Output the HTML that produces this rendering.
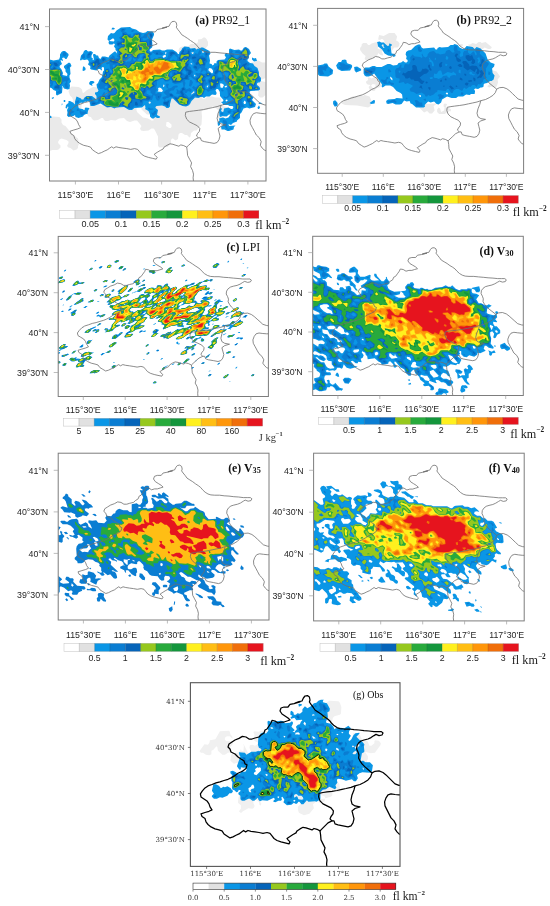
<!DOCTYPE html>
<html><head><meta charset="utf-8"><title>Figure</title>
<style>html,body{margin:0;padding:0;background:#fff}svg{display:block}</style></head><body>
<svg width="550" height="906" viewBox="0 0 550 906">
<rect width="550" height="906" fill="#fff"/>
<defs>
<clipPath id="clipa"><rect x="49.5" y="9" width="216.5" height="172.0"/></clipPath>
<clipPath id="clipb"><rect x="317.6" y="8.4" width="206.0" height="164.9"/></clipPath>
<clipPath id="clipc"><rect x="58.2" y="236.4" width="210.2" height="160.1"/></clipPath>
<clipPath id="clipd"><rect x="312.7" y="236.3" width="210.6" height="159.2"/></clipPath>
<clipPath id="clipe"><rect x="58.2" y="453.2" width="210.8" height="166.8"/></clipPath>
<clipPath id="clipf"><rect x="313.6" y="453.2" width="210.6" height="167.7"/></clipPath>
<clipPath id="clipg"><rect x="190.4" y="682.7" width="209.6" height="183.7"/></clipPath>
</defs>
<g id="panel-a">
<g clip-path="url(#clipa)"><g transform="translate(49.5,9) scale(0.5)" stroke="none">
<path fill="#eaeaea" fill-rule="evenodd" d="M314 60l3 6 0 7-6 7-1 5 4 4 5-1 2 3-8 11-11 1-5-5-9 1-4-2-6 0-8 6-8-1-2-14-2-5 1-4 3-3 9-2 6 1 6-5 11-1 3-3 0-5 7-1 4-3 3 0zM415 103l3 0 7 4 7 0 0 31-7 3-6-1 4 4 9 2 0 26-6 5-5 0-4-4 1-7-2-10-3 0-8 5-4 0-2-2 1-4-2-3 0-4 2-3 0-3-5-9 1-16 8-10 9-1zM35 190l3-3 8-1 2-2-3-7-4-4-3-8 2-6 4-4 14 1 4 2 3 3 1 6 2 1 7-6 12-6 11 1 9-2 2-2 2-7 4-3 3 0 4 4 3 23-4 2-1 6-3 3-8 0-6-6-5 0-5 3-2 3 7 9 6 3 8-1 12-6 8-7 0-3 4-2 5 2 7 9 10 0 11-2 11 5 0 4-6 7 0 4 2 4 11 10 10 2 7 4 4 0-1-11-12-1-11-10 0-3 4-2 0-3-4-5 0-4 5-5 3 0 6 3 16-2 3-4 8-3 1-10 8-8 7 3 6 12 0 4 5 4 5-1 7-4 13 0 1-1-1-3-8-7 0-4 2-2 9 1 7 4 9-1 4 2 8 9-3 7 2 2 5-1 5-5 9 1 5 2 9 0 3 3-1 6 1 4 3 4 8 2 3 3 0 4-5 12-10 6-2 0-5-6 0-6 3-6-7-7-5-1-9 6-11 2-2 2 1 10-1 16-10 12-5 0-6 5-1 7-2 2-5-5-4 0-6-4-4 0-3 3-1 9-5 3-5-4-2 0-2 3 0 7-7 7-16 1-3-3 0-19-7-14-2-2-4 0-6 4-10 1-5-1-2-4 3-5-9-11-5 0-9 3-6-2-6-6-10 1-7 4-9-1-6 2-5 0-3-2-2-4-3 0-7 4-8 1-4-3-2-4-5-1-3-5 6-13-2-14-4 0-8 4-3 6 0 4-4 5-4 0-4-3-11 0-5-3zM234 226l-1 8 6 4 3 0 2-2 0-5-6-5zM51 189l0 2 3 2 1-3zM341 160l10 0 2 2 2 9-2 6-4-1-10-7 0-7zM0 216l7-1 13 1 4 5 0 6 3 5 5 2 13 16 12 9 2 11-2 4 0 4-3 3-6 2-6-5-4-1-3-3 3-6 0-3-4-3-10-3-4 2-3 5 1 3 4 4 0 4-4 4-3 1-9 0-6 2 0-18 1-1-1-1z"/>
<path fill="#0a96e6" fill-rule="evenodd"  d="M32 198l1-6 5-4 0-4 3 0 6 3 4 4 0-6 3-10 9 4 1 2 4 0 1-3 5-4 11 0 9 7 0-7-3-4 0-3 5-1 2-3-3-6-1-6 3-3 3-7 5-5 2-11 2-2 0-6-3-1-2 2 1 4-1 1-3-3-3 0-4 3-11-2-2-2 1-3-1-2-4-3 2-5-2-4-2-1-5 1-5-1-2 2-2-1 2-9 4-4 2-5 3-2 2 0 3 3 6-1 4 3-3 6 0 4 3 2-1 2 1 1 2-1-2-9 1-2 3 0 3 3 3 0 2 5 3 2 3-5 6 0 7 2 2-4 10-8 2 0 2 4 1-4-3-3 0-3-3-4 2-5-3-1-2 2-6 0-2-3 1-4-3-3 1-7 6-6 4 1 3-1 4-5 9-6 18-1 4 3 8 2 7 5 7 2 5-1 4-3 10 1 3 4 0 3-4 9 1 13-1 3-5 4 1 4 3 0 3-3 14-1 4 2 5 0 5-2 11 0 8 5 3 4 2 0 1-4 4-4 1-3 5-4 9 1 3 3 9-1 3 3 3-2 4 0 2-2 4 0 13 7 2 5-3 4 2 10-1 6 4 1 2 3 3-2 1-3 4 1 0-4 3-3 13-1 3-4-3-5 3-4 2 0 2 3 2-2 0-8 2-2 9 3 9-1 3 2 3 0 4-6 4-1 6 4 4 8-4 5 0 5-3 3 0 3 5 4 6 1 3 5 6 4 3 9 0 6 4 5 0 6-3 3-3 0-2 2 0 3 4 3 2 3 0 3-3 2-16 1-2 2 2 5 6 6-3 5 8 8-2 6-11 3-5-2-7 2-4 8-3 3 0 8-6 5 0 2-8 3-4 4-5-2 1 4 13-1-3 3-1 5-9 3-3 0-6-3-6 0-1-6 4-3-1-3-3-2-2 1 0 4-4 2-1-7 4-4-1-4 8-2 5 2 6-2 4-6-3 0-5 4-8-1-4 2-2-2-1-12 3-4 3 1-2 5 3 2 2-1 1-6 9-2 5 3 3 0 2-4-2-2-6 0-3-2-10 0 0-2-4-4 4-1 1-3-7-8 0-8-4-6-3 0-2 3 2 4 0 3-2 2-7-1-5 4-7 0-4 3-3-2-4 0-4 2-7-1-7 7-3 6-3 3-5 2-7-1-7-3-12-12-3 0-3 11 0 5-3 3-4 0-3-3-6-2-11 1-2 2 0 2 5 4-2 10 6 3-1 3-5 0-3-2-4 3-3 0-4-4 0-4-3-7-7-4 1-2-1-6-6 5-15 1-5 4-6 0-10-6-16 1-3 2-7-3-8 1-13-8-13 5-7 0-2-9-4-1-2 2-3-1-4 3-4-1-6 4 1 6 2 2 6 1 3 2 2-1-1-1 2-3 8 1-3 6-1 6-3 0-4 2-2 3-9 3-6-2-1-4-3 2-10 2-3-3 1-6-1-5 3-6-2-1-1 4zM219 157l-2 2 1 3-2 3 9 1 2-3-4-5zM232 91l-6 3 2 4 5-3zM232 86l-1 3 2 1 1-3zM283 108l-1 2 3 1 1-1zM284 86l1 4 2 0 2-3zM290 131l-1 3 2 1 1-2zM306 84l-1 3 3 1 1-2-1-2zM318 153l-2 0-2 3 2 1zM320 118l-2 2 0 3 7 6 2-2 0-4-3-4zM341 149l1 8 4 1 3-6-4-3zM350 155l1 2 4-1-1-3zM390 183l-2 4 1 3 3 0 1-4zM130 62l-2-3-2 0-7 5 10 1zM199 185l-1 3 3 2 2-4zM228 151l-1 4 2 1 1-4zM289 164l-6 6 1 1 6-4zM357 182l-4-1-1 3 2 1zM124 41l1-3 2-1 4 2-2 2zM31 84l7 6 0 3-4 7-2 0-3-3-4 1 2 5-1 1-3-2-1 1 3 7-4 3-1 3 4 5 3 7-1 4 9 2 1-4-4-5 0-4-3-4 0-3 10-7 3 2 2 5-3 3 1 13-2 3 0 4 3 8-3 4 1 4-1 7-4 1-7-2-3-5-1 1 1 2-1 11-10 5-2-2 0-7-5-2-4-4-4-1 0-56 8 2 11-2 2-5 0-5 3-5 3-2zM405 98l1-1 3 2 4-1 2 6-6 1-4-4zM67 115l2 0 3 3 0 4-4 2-2-1zM82 144l5 0 3 2-1 2-4 2 1 4-6-3-1-3zM8 176l1 2-3 2-2-2zM29 182l2 0 1 2-1 2-2 0-1-2zM418 188l4-1 4 2-7 1zM25 188l1 3-2 2zM419 193l2 4-2 3-2 0-1-3zM0 210l1 3 3 2 0 3-4 0z"/>
<path fill="#0a7dd2" fill-rule="evenodd"  d="M71 178l4-3 7 0 3 3 1 5 9 4 2-2 0-8 4-3 3 0 5-8 2 1-1 4 1 2 3 0 4-4-3-7-5 0-2-3-6 1-4-4 0-4 3-4 1-6 4-4 1-6 2-2 3-10 7-1 2 7 3 2 2-2-1-3-4-4-1-10-5 2-2-2 1-2 5-1 0-4 2-4 4-3 1-3 4 3 1 4 8-2-3-1-1-2 3-6 0-3-3-5 6-4-4-1-3-3 0-6 3-2 4 1 2-2-4-6 6-4 0-6-3-3 0-3 2-2 8 0 1 1-4 5 4 1 4 5 5-1 2 5 3-2 1-4 6-2 8 1 2 2-1 4 1 2 4-2 2-4 6-1 2-2 6 0 2 2 1 4-3 6 1 14-8 12 4 2 5 0 2-3 12-1 1 2 7 4-3 3-12 0-5-4-2 0-1 3-4 3 2 7 4 0 3-3 4 1 5-3 4 0 4 3 8 0 3-7 0-5 5-4 8 3 5 5 1 5 1 0 8-16 5-3 2 3 0 3 4-3 3 0 3 2-2 6 4 5 4-1 3-4 4 2 4-8 3 3 0 4-3 3 0 2 6-1 3 3 3-1-2-3 1-6 2-2 5 2 2 3-6 8 2 8-3 3-2 9 2 2 2-1 0 7 2 2 5 1 3 4 4-2 1-8-2-3 4-4 4-1 1-2-1-5 1-3 2-1 16 1 2-2 0-3 3-3 2-15 5 3-2 4 4 2 1 5 3 3 2 0 5-5 0-4-8-1-1-2 2-2 5-1 3 2 4 0 3-3 0-2 4-3 6 5 2 6-3 6 0 4-4 4 0 2 7 6 0 2-5 3 1 1 2-1 6 4 3-3-3 4 2 3 4 0 4-3 7 20 0 3-1 1-4-1-3 5 0 5 5 4 1 3-2 2-12 0-8 3 3 6 6 5-3 6 6 8-1 5-7 1-2-2-1-6-4-3-1-8-6 2-3 6 2 2 0 3 5 5-8 2-1 9-4 6 0 5-8 5 0 3-2 1-2-1 1-5-4-5 4-7-1-4 7-2-2-3 1-8-3-2-4 1-9-1 1-3 11-2 0-2-7-7-2 0-2 3-5 1-4-2 1-3 2 2 3 0 3-3-1-10-3-3 5-3-3-10-4-2-1-4-2 0-3 3-4 0-5 11-6 7-8 1-5 3-4-5-3 2-1 5-3 5-6 3-5 0-2-2-3 0-3 5-5 2-2 7-5 5-7 0-7-2-15-15-6 0-3 2-3 0-4 4 4 2 5-3 2 2-3 13-4 0-2-3-5-2 0-4 3-5-4-3 0-3 9-2-7-7 4-4 6-3-4-3-1-5 1-3 5 1-2 5 1 4 5-1 5-4 5-1 4 1-2 3-3 0-4 6-4 0-5 3 0 1 5 1 6 6 6 2 6-5-9-2 2-4-1-4 1-1 3 3 3 0 2-4 5-4-2-9-4 2-11 2-6-3 0-3-2-3-6 4-6 0-4-5-4 0-8 4 0 7-2 7 2 4-3 3 0 4 1 1 4-2 7 1 0 4-5 10-4 0-3-6 0-3-4-2-3 10-5 0-3 2-9-1-2 9-2 2-4 0-4 2-6-2-5 6-9-1-6-4-7-1-4 2-8 1-7-2-8 1-8-5-5-5-10 5-8 2-2-2-1-7-3-3-6 0zM162 92l-3 0-2 8-6 3 2 4 3-2 5 0 2-2 2-5zM166 99l3 5 5-2-6-4zM189 91l-2-1-6 2-1 6-5 4 5 3 4-1 2-2-2-5zM197 49l-3 10-7-1-1 1 1 4 4 0 10-5-1-5zM256 97l-6-5-2 0-8 9 3 2 4-2 6 2 2-1zM268 122l-3 4 5 5 2 0 2-2 0-3-4-4zM282 99l-2 4-1 11 4 3 1 4 4 5-2 4 1 5 4 3 5-3-4-6 1-1 5 1 5-2 4 3 4 0 3-4-3-3-3 0-5 4-1-1 2-6-1-2-4 1-3 5-3 0-7-8 4-5 0-3-4-2 0-3zM321 135l-7 1-3 3 3 5-1 2 3 2 0-6 5-4zM339 126l-3 5 0 4 9 2 1-2-3-8zM351 126l-5 4 2 2 3 0 4 5 3-5 0-4zM378 108l2 4 3-1-1-3-2-1zM115 153l-4 1-1 3 2 2 4-2zM130 111l-3 1-1 2 2 3 3-3zM196 162l-2 3 0 4 7 4 4 0 1-2-4-4 0-4zM244 126l-3 2 1 6 3-1zM282 135l-3 1 1 5-1 1-7 0-2 2 2 4-2 8 4 5 6-3 4 3 0 3-2 2-5-2-3 4-3 0-1-3-2 0 11 13 13-10 0-4-7-7 3-3 5 3 3-4 5-2-3-4-5 0-1-4zM317 148l-6 6 0 4 2 2 3 0 4-5 0-4zM163 45l2-3 6 1-5 3zM284 82l2-2 4 1-1 3zM83 86l1 3-4 9-4 0-2-2 1-5 5-5zM26 93l1-5 2-2 2 0 3 3-1 4-2 1zM70 90l1 7-2 2-3 0-2-4 4-5zM113 99l1 5-4 1-6 6 0 3-3 3-8 4-9-2 0-5-4-4 1-4 9-2 3-5 4 0 4 3 2 0 4-6zM0 105l5 1 14-2 2 5-3 6-5 2 4 3 3 0 3 3 2 6-1 4 3 4 4-1 6 1 2 2 0 3-3 2 0 10 2 2-1 2-4 0-2-2-1-6 3-3-1-3-5 2-1 3-5 5 2 4-2 4 3 2-1 4-8 1 0-3 5-4-9-1-2-2 0-5 5-3-4-6-2 0-2 8-2 2-4 0 0-2 3-1 0-2-3-2zM7 112l-4 4 0 2 2 0 3-4zM40 111l1 2-3 6-2 1-2-4 2-3zM281 142l3 0 3 5-4 8-4-1zM342 161l4 0 3 3-4 1zM58 182l1 4-3 3-2 0-1-4zM197 198l2-1 3 2 5 0 1 2-8 1-3-2zM43 199l2 4 5 2-3 3-2 0-5 6-2 0 0-10zM54 203l2-4 4 3-3 2zM60 203l1-1 3 3 9 0 1 3-10 5-3-4zM356 204l6-2 2 1 0 3-3 2-4 0zM213 203l1 1-1 5-5 5-2-1-3-6 4 1 3-4zM342 212l0-4 2-1 4 2-1 2zM346 224l2-2 5 1 2 3 1 13 3 1 3-3 2 0 1 2-5 1-2 2-4-2-5-7 0-3z"/>
<path fill="#0564b9" fill-rule="evenodd"  d="M145 43l1-3 4 1zM100 184l0-5 2-3 7-2 4 3 0 2 5-1-2-3 5-4 7 1 5-3 2-4-1-3-6-3-4 4 0 2-4 2-4-7 2-4 0-5-6-1-9-6 5-6 1 3 2 1 9-7 0-5 1-1 3 1 3-3-2-8 4-1 6-6 6-1-4-3-9 1-1-2-5-1-1-3 4-4 8 3 6-1 2-3-2-4 0-3 2-2-3-6 0-3 3-1 3-4 5 0 0-3-4 0-4-2-3 3-2-1 0-4 6-1 6-3-2-3-4-2 5-6 0-5 14 6 2 3 4-1 4-6 9-1 1 1-1 7 3 2 0 5 11 1 2 3 1 6 3-2 0-9 1-1 3 4-1 9-3 2-1 3-4 4 1 3 6 2 0 2-3 2 1 8 2 3 3 0 5-4 6 0 4-2 11 2 11 4 4-1 11 1 3-2-1-4 3-4 0-3 5-10 2 0 0 5-3 2 5 2 5-2 1-5 3 1 0 6 2 4-3 3 0 6-4 4 0 2 3 1-3 8 3 3 4 1 2 2 0 3-3 5-4 0 1-8-5-1-2-5-2 0-6 7 3 6-4 4 7 4 4-6 4-1-1 8-7 0-8 6-13 1-5-10 6-5-1-1 1-5 3 3 3 0 1-4-3-2-3 1-5-1-6 4 0 7 3 3-3 5-7 1-6-5-7 2-12 8 4 6-9 5-4 0-4-3-2 3 0 6-4 6 2 2 10 2 2 2-1 3-4 2-1-1-10 0-2 6-2 0-1-4-3-2-12-1-1 7-3 1-2 3 0 3 2 3-7 0-12-5-6 4-8 0-6-2-6 1-5-2-4-4-2-5zM268 98l2 2 3 0 2-3-5-1zM145 187l-2 2 0 3 3-3zM191 91l-2-2-8 1-3 2-2 6-5 0-8-8-4 0-6 9-5-1-1 4 3 4 0 3-3 2 6 1 3 5 3 0 3-8 2-1 3 1 5-4 7 1 5-1 4-5-1-4 4-3zM184 157l-2 5 2 2 3 0 3-4zM201 49l4 2 0 4-2 2-2-4zM393 79l4 5 1 6-3 8-4 4-3 0-1-1 2-3 0-4-6-3-1-4 5-2 2-4zM214 87l2 0 1 3-2 1-2-1zM241 94l1-2-1-4 2-2 5 0 4 3-6 1-3 4zM82 88l-1 3-3 2-1-1 1-2zM313 88l3 1-1 3-3-1zM362 91l5 3 2 4 8 2 4-5 2 0 2 2 0 4-3 1-5 5 0 3 4 7 2-1 4-5 7-3 1 2-4 4 1 4 2 2 5-2 3 6 13 3 2 3 1 6-5 5 0 5-3 7-5 0-1-2-4-1 6 5 2 4-4 3-4 0-1-4-8-6-1-4-3-1-4 1 1 3 6 2-2 8 6 1-1 12-8 4-4 5-3 1 0 4 3 8-2 4 1 7-8 8-1 4-2 0-3-3 0-2 4-7 4-1 2-4-3-3 1-8-4-5 1-2-1-3-10-9 0-3 3-3 0-3-6-11 0-6 3-3-3-3 0-3 4-9-3-3-8 0-2 2-3 0-6-3-7 7-2-4 7-8 0-4 2-3-1-7 5-1 11 3 3-3 1-4 5-4zM378 164l3 3 2-1-1-2zM366 146l1 3 4-1-1-3zM285 96l6-1 3 3-8 2zM295 102l6-5 10 1 2 4-4 3 2 5-1 3-6-1-3 2-2-4-5 2-2-3 4-5zM109 98l2 3-4 4-2-4 2-3zM98 101l2 3-1 2 3 3 0 3-4 4-4 1 2-3 0-5-3-1-1 5-3 3-2 0-2-5-3-2 9-4 3-4 2-1zM0 107l4 3-1 4-3 2zM8 108l2-1 4 1 3 4-2 2-4 0zM290 114l3 0 2 2-1 4-5-3zM10 116l3 4 7 1 3 3-1 9 3 4 0 9-1 3-5 4 1 4-1 2-9-1 2-4 4-1-4-9-3-1-6 1-3-2 2-4-2-3 0-15 5 1zM117 121l2 5-5 2 1 6-6 3-1-4 3-4 1-6 2-2zM313 131l3-3 3 0 3 2 0 2-7 2zM306 131l5 4-5 5 1 2 2-1 2 2-3 3-1 11 3 2 0 2-4 9-3 3-7 1-2-2 0-8-2-3 11-11-4-4-3 0-3-6 5-3 4-6zM343 139l-4 4-1 6-5 3 0 4-4 3-3-1-2 2-4-1 2-8-4-8 5-1 1-7 7-3 2 5-1 1 1 4 4-4zM408 159l3-3 4 0 2 2-1 3-5 0zM268 157l3 4-5 2 0 3 3 5-1 3 7 3 4 4-2 8-3 3-6 0-7-2-11-12 0-1 3 0 4 2 2-4 5-1 0-4-3-4 4-4 0-3zM240 172l1-2 4 0 2 4-1 1-4-1zM397 172l4 1 3 3-3 7 4 4 1 3-1 4-4-1-2-6-4-4 0-9zM217 175l2-1 1 2-2 2zM73 177l6-2 3 2 0 2-8 1zM173 185l2 1 2 5-2 2-4-1 0-5zM228 188l2-2 5 0 3-2 1 1-2 4 0 6-4-4-3 0zM85 190l1-3 6 1-1 2-5 1z"/>
<path fill="#96c81e" fill-rule="evenodd"  d="M277 99l1 2-7 8 1 3-1 2-4 3-6 9-8-4-8 0-6 4-2 8 3 3 0 2-2 2-5 1-7-5-10 4-3 0-6 4-3 5 3 3-7 5-4-4-2 0-3 4-8-2-2 6 4 4 2 7 7 3-1 3-5 0-4 2-12-2-1-6 4-2 0-3-5-3-2 2 1 2-1 2-1-1 1-3-4 0-5 5-1 3 3 1 3 4-1 4-6 7-1 5-9-5 4-3-4-4-6 5-3 6-11 0-14-2-4-4 1-5-6-1-2-2 1-4 2-1 5 0 2 5 9-1 1-7 7 0 4-2 2-3 1-5-5-7-6 3-4 6-3-4 0-3 6-1 0-2-6-6-1-5-2 4-3 0-1-2 4-6 4-2 3-3 0-2 5-4 1-5-2-3 2-2 2 0 6-6 5 1 10-1 5 5 3 0 6-8 4 0 3-4 2-1 10 1 4-4 1-3 4 0-1-9-3-2-10 1-4 4-1 4-4-1-5-6-4-1-6 1-2-2-4 2-3 4 0 9 2 5-5 2-7-4 6-7 0-3-2-3 6-4-7-6 0-2 5-4 5 0 2-3-1-4-4 1-2-2 1-2 4 1 1-1 1-6-2-2-5-1 6-6 5 0 4 5 7 1 6-7 2 1 5-1-1 6 3 2-1 6 1 1 12 0 2 3 0 5 4 2-1 4-5 4 1 4 6 2-4 4 3 3 0 4 3 4 3 0 7-5 11-1 17 5 12 0 1 1 10-1 2 2 1-4 2-1 6 1zM177 71l-1 4 3 2 0 5 5 1 1-6-4-1-2-4zM233 130l-2 2 3 2 1-2zM127 142l-4 1-1 2 2 1zM145 156l-1 4 5 1 1-2zM151 151l-1 1 1 6 1-1zM152 176l-1 3 3 3 2 0 2-5zM151 79l-1 2 4 2 0-3zM391 80l4 4 1 9-2 2-3-2-1-3-6-1 6-6zM262 99l0-4 2-4 6 1 7-2 2 2-1 3-8-1-7 6zM155 91l0 4-3 2-1-3zM365 96l13 7-2 4 3 8 0 3-2 2 1 4 3-2 0-2 5-5 2 0 3 6 7 1 4 4 4 1-9 5 1 3 2 1 6-2 3-6 5 0 2 2 0 6-5 5-3-2-3 1 2 3 3-1 2 1-4 9-3-3-4-1-7 4-2-6-8-1-2 2 0 5 6 2-1 5-2 3-3 1-5-1-2 2 5 4 1 3 6-1-2-5 5-1 1 9-2 3-4 1-9 7 1 2-1 5 2 2-1 7-2-1 1-8-4-4-1-7-9-8 0-3 3-3 0-2-4-9-3-3 1-6 3 0 2 2-1 5 1 1 5-4 4 0 0-4-2-2-5 0-2-3-3 0-3-4 1-3 4-5-4-5-6-1-8 3-3-3-4 0 2-11-1-7 4 0 5 2 0 2 6 1 5-10zM367 131l-3 1 1 8 4-2zM375 169l-3 1-1 2 1 3 5-3zM301 99l4 3 2 8-6 1-3-6zM123 103l5-1 1 2zM0 109l3 2-2 3-1 0zM89 108l1 4-2 2-2-4zM1 121l3 1 11-1 5 1 2 2-1 9 3 4 0 9-1 3-4 3-3-2-4-7-7 0-2-2 0-6-3-1 0-12zM114 122l3 1-1 3-3-1zM261 130l1 1-1 5 3 3-1 3-3 2-7-1 2-4-1-2-5 7-4-7 5-4 7-3zM315 131l2-2 2 1-1 2zM112 130l1 3-3 1zM303 132l4 2 0 2-3 3 0 3 2 3-1 4-8-5 0-3 4-4zM327 134l4 1-1 6-3 0-3-2zM336 144l1 4-3 0zM324 146l4 3-2 5-3-1-1-6zM304 153l2 6 2 1 0 3-4 8-5 2-4-3 0-9 5-7zM400 153l2 0 3 3 0 4-2 1-3-1-1-4zM411 159l2-2 3 1-1 2zM397 174l5 1 0 3-5 1-1-2zM80 177l-1 2-5-1 2-2zM256 181l4-3 0-2 5 0 2 2 8 1 2 3-2 2 0 6-7 1-7-2zM262 180l1 2 3 1 1-1-1-3zM401 186l3 1-1 5-3-4zM378 206l0 2-6 4-3 4-1-1 1-3 4-4z"/>
<path fill="#28aa3c" fill-rule="evenodd"  d="M151 53l3 0 2 2-1 4 3 6 4 2 4-2-2-4 8-7 7 7-2 3-3-1-4 1 0 1 6 1-2 10 3 2 0 4-7 6 0 3 2 1 0 2-4-3-2-4-4 2-6-2 0-7-4-5 1-15-4-3zM182 69l11-1 1 2-1 4 4 3 0 3-2 2-7-2-1-5-6-2zM184 86l4-3 3 2 0 2zM262 107l1 2-1 3 3 4-1 3-5 5-5-3-9 0-4 2-5 7-3-1-3 2 1 3 3 3 4 0 0 2-4-1-2 1-5-3-15-1-2 1-1 7-2 1-7-1-2 2 2 2-1 4-9 5-3 0-3-2-3 4-1 6 5 6 2 8-4 2-7-2 2-7-6-7-2-1-6 1-1-2 2-3-2-2-4 1-4-1-2-9-3 0-2 2-6-2-1 1 1 13 4 2 4 0 6 6 0 2-6 3-6 6 0 3-4 4-2 6-7 1-17-3-3-2-1-2 5-6 9 0 6 4 0-2-4-3-1-4 11-6 0-4 2-4-4-8-2-1-4 1-4-3 1-5 7-2 4-3-5-4 3-3-1-3-4 2-3-1 0-2 5-5-3-5 5-2 2-3 2-1 7 1 5-2 3 1 4 4 5 0 3-2 0 2 3 2 3-2 0-4-3-3 4 0 3-5 4 1 6-1 6-6 4-1 1-2 3 1 1 5 3 2 3 0 7-5 15-1 9 4 18 1 3 2 3-1zM138 123l-2 2 0 3 4 2 1-5zM142 140l-3 2 1 3 3-4zM362 99l5 0 9 4-1 6 2 3-1 11-3 3 1 6 3 2 5 0 1-8 5 3 4-5 3-1 5 4-5 4 0 3 10 11-2 2-7 1-2-3 2-4-2-4-6-4 0-2-1 3 3 10-2 1-5-1-3 6 0 3 4 3 1 3-4 3-7-1-2 2 1 3-5 7-4-3 4-3-3-10 4-5 4 0 3-2 0-2-4-5 3-6-4-2-3-6-4-1-2-4-11-10-2 0-2 2 0 3-3 1-2-2 1-6-3-4 1-2 3 1 1 2-2 3 2 1 11-2 1-5zM368 121l-1 2 3 2 0-3zM143 102l3 4-1 2-3 0-2-2zM268 103l2-1 2 3-3 1zM0 123l3-1 7 3 8-3 3 2-2 7 4 6 0 8-3 5-3-1-3-6-8-1-2-2 1-3 5-1-7-4-3 1zM413 130l1 3-4 5-2-2 1-5zM251 135l1 2-4 2-1-2zM121 140l2-3 5 1-5 3zM299 142l3-1 1 4-2 0zM360 148l2 0-1 5-2-2zM303 155l3 9-2 4-5 3-2-2-1-6 3-6zM158 164l1 2-3 2-1-3zM387 174l-7 6-4 0-3-2 5-4 5-1zM104 179l4-2 2 3-5 1zM260 185l4-1 3 3 4 0 1 2-3 1-2-2-5 0z"/>
<path fill="#14963c" fill-rule="evenodd"  d="M173 67l1 5-5 5 0 4-8 7-4-3 0-8-3-3 0-2 4-4 9 1zM174 78l1 3-4 2-1-1 1-2zM137 133l6-2-2-8-4-2 1-3 6 0 2-2 5 0 7 5 8 2 5-2 1-7 4-1 4 3-1 4 4 1 1-3-2-2 1-3-2-4 14-9 6 7 6-1 4-4 17-1 5 3 9 2 11 0 3 2 0 4 6 5 0 2-3 3-5-3-9 1-4 2-6 6-3 0-3 3 0 4-20-1-1 1 1 5-2 2-2-1-7 1-2 2 0 6-2 2-5 2-6-2-2 2 0 4-4 8-10-5-1-4-9-1-2-3 1-2 5-1-2-4-5 1-4-6 1-1-3-3-8 1zM361 101l5-1 7 2 2 2-1 6 2 3 0 3-2 2 0 5-2 0 0-3-2-1-10 1-3-3-1-3 3-4-1-3zM2 124l3 0 6 6 5 0 5 6 1 8-3 4-2-3 0-10-9-2-6-5-1-2zM15 139l0 2-9-1 0-1 4 0 3-2zM383 141l-4 4-4-2 4-3zM149 142l-1 6-5-2 2-4zM396 146l2-3 3 2zM126 149l8-1 6 7 0 3-2 1-4-7-6 1zM382 157l0 3-9-1-3 2-3-3 2-3 4 0 3-3zM300 160l3 3-1 4-4-1 0-4zM149 166l2 3-3 5-4 4-7 2-1-6 2-2 0-5 3-3zM183 172l2 5-5 2-2-3zM117 185l5-2 7 6 3 0 3-3 2 0 1 6-2 2-16-2z"/>
<path fill="#fff01e" fill-rule="evenodd"  d="M173 71l-4 4-3 0-2-2 1-2 2 1 4-3zM160 76l6 3-4 7-3-1zM140 121l1-2 4 0 2-2 5 1 4 4-2 2-1 6 4-3 0-3 2-1 6 2 7-3 2-2-1-3 1-2 3 1-1 3 1 2 7 1 4-4 0-4-3-4 2-2 3 2 2-2-1-3 3-3 2 0 4 6 8-1 3-4 18-1 2 2 8 1 4 2 10 0 1 6 4 3 0 2-7-1-2 2-5 0-6 4-2 3-8 3-5 4-13-1-6 3 3 2-1 3-6-1-6 6 0 4-2 2-8-2-3 2-1 7-3 5-6-1-4-6-7-3 3-3-2-8-6 0-5-6-7-1 2-5-2-6zM362 102l6 0 5 2-1 6 2 5-2 2-1-5-2 0 0 3-3 3-6-1 0-11zM147 167l1 2-4 6-4 2-1-2 3-3-2-4 2-2z"/>
<path fill="#ffbe14" fill-rule="evenodd"  d="M249 114l-1 4-5 0-8 7-9 2-5 5-10-2-5 3-4 0-11 15-8 0-4-2-6 1-2 2 1 3 3 0 2-3 2 1 0 9-3 3-5-2 0-4-4-2 1-3-4-3 4-6 2 1 4-1-1-6-5-3-1 9-5-2-6 1-4-5 0-2 4-4 3 0 2-2 4 1 0-2 3-3 6-2 10 1 4-2 2-3 0-5 4-5 0-4 8 6 3-2 3 1 2-1 2-4 17-1 6 3 5 0 5 3zM179 130l-2 8 4 4 3-3-4-3 2-4zM371 105l0 2-5 3 0 5-3 1-2-3 1-5 3-2 0-2zM146 119l4 0 2 2 0 6-3 4-2-1-4-8z"/>
<path fill="#ff960a" fill-rule="evenodd"  d="M240 108l0 5 3 3-6 6-11 3-5 5-6 0-4-2-5 4-8 0-1 7-7 7-7-1 5-8 0-4-9-5-2-3 2-1 3 1 7-3 3-5 4-1 1-2-1-5 5 4 6-3 1 1-1 4 2 1 6-4 2-7 3 0 1 3 2 0 2-3 6 0zM218 112l-1 1 1 3 4 2 2-4-2-2zM168 126l2-1 1 3-2 0zM172 131l3 0 1 2-3 1zM154 136l1-1 3 1 1 3-3 1zM176 154l2 2 0 3-4 1 0-5z"/>
<path fill="#f06e0a" fill-rule="evenodd"  d="M238 109l-1 3 3 5-6 4-3 0-6 3-5 5-4 0-8-9 2-3 6-2 4 5 2 0 7-14 6 1zM198 115l1-1 3 3-4 1zM182 127l4-3 3 0 3-5 4-1 4 5 0 3 4 0 3-2 1 5-2 2-4 0-2-1-1-4-4 0-4 2 3 3-2 4-3-5-4 0zM192 135l2 2 0 3-3 3-3 0 0-3z"/>
</g></g>
<g fill="none" stroke="#6e6e6e" stroke-width="0.8" stroke-linejoin="round" clip-path="url(#clipa)">
<path d="M162.1 28.2 166 26.9 169 26.3 170.4 23.5 171.9 21.7 174.3 21.3 176.3 22.6 176.8 25.4 176.3 27.2 177.8 29.5 179.8 31.9 181.7 34.7 184.7 36.5 187.6 38.4 190.6 40.6 193.5 42.5 195.9 44.3 197.8 46.8 200.4 49.2 203.3 51 206.3 52 210.2 52.3 215.1 52.3 220 52.9 224.9 53.3 229.8 53.8 234.7 54.2 239.6 54.7 243.6 54.7 246.9 54.7 248.5 56 247.5 57.9 244.6 58.5 241.6 57.3 239.6 58.5 236.7 60.3 233.8 61.6 229.8 62.6 226.9 63.5 224.5 65.3 223 67.8 222.6 70.9 223.9 73.7 224.9 76.5 224.5 79.3 225.9 82.1 227.9 84.9 230.8 87.6 233.8 90.1 237.7 93.2 236.3 96.9 233.8 99.7 229.8 102.1 225.9 104 221 105.3 217.1 106.6 212.2 107.7 208.2 108.5 203.3 109.6 198.4 110.3 193.5 110.9 189.6 111.4 185.7 112.2 185.3 115.5 186.7 119.2 189.6 122 193.5 123.9 197.4 125.8 199.8 128.5 199.4 131.3 197.4 133.7 196.5 136 198.4 137.8 194.5 139.7 191.6 142.5 188.6 145.3 186.7 147.1 183.7 145.6 180.8 144.9 178.8 146.2 175.9 145.3 172.9 144.3 170 143.8 167 145.3 164.1 147.1 163.1 149 160.2 150.5 157.2 152.3 154.3 154.2 155.3 155.5 157.2 157.4 156.2 159.2 152.3 158.3 148.4 157.4 144.5 156.1 141.5 154.2 139.6 151.8 137.6 149.4 134.6 148.6 130.7 149.4 126.8 148.6 122.9 148.1 118.9 147.5 116 146.8 113.6 148.1 111.7 146.8 109.7 148.1 107.2 149.9 104.2 151.2 101.3 152.7 98.3 153.6 95.4 151.8 92.5 149.9 90.5 147.1 87.5 146.2 83.6 145.3 79.7 143.4 76.8 141.2 74.8 138.8 73.8 135.6 70.9 133.7 69.9 131.3 73.8 130 77.7 128.9 80.7 127.6 78.7 124.8 77.7 122 75.8 119.2 72.8 117.4 69.9 115.5 69.3 112.7 71.3 110 73.8 107.2 76.8 105.3 80.7 104 84.6 102.5 88.5 101.6 92.5 100.3 96.4 99.2 99.3 97.9 102.7 96 106.2 93.6 110.5 91.7 114 89.1 115 85.8 113.1 84.9 112.1 82.1 109.1 80.2 106.2 78.4 103.2 75.6 99.3 73.7 98.3 70.9 96.4 69.1 97.4 66.3 100.3 64.4 103.2 62.6 107.2 61.1 110.5 59.2 114 59.8 117 61.6 119.9 61.6 122.9 60.7 126.8 59.8 128.8 57.9 131.7 56 132.7 53.3 134.6 52.3 136.6 49.5 138.6 46.8 139.6 44.3 142.5 44.9 145.4 46.8 148.4 45.8 151.3 45.8 154.3 44.9 157.2 44 155.3 42.1 152.3 40.2 149.4 38.4 147.4 35.6 148.4 32.8 151.3 31.9 155.3 31.9 157.2 29.5 161.1 28.7 167 27.2Z"/>
<path d="M237.7 93.2 240.6 91.7 244.6 91.4 248.5 92.9 251.4 95.1 254.4 97.9 257.3 100.7 260.3 103.4 264.2 104.8 268.1 105.3"/>
<path d="M268.1 113.7 264.2 113.7 260.3 113.3 256.3 112.7 253.4 113.7 251.4 116.5 250 120.2 250.4 123.9 252.4 127.6 254.4 131.3 256.3 135 259.3 137.8 261.2 141.6 260.3 145.3 262.2 148.1 264.2 149.9 268.1 151.8"/>
<path d="M186.7 147.1 187.2 150.8 187.6 155.5 189.6 159.2 191.6 162.9 190.6 166.6 192.5 170.4 193.5 174.1 193.1 177.8 193.5 181.5"/>
<path d="M221 105.3 220 109 218.1 113.7 217.1 118.3 218.1 122 221 123.9 225.9 124.8 221 126.3 218.1 128.5 219 132.3 220 136 219 139.7 217.1 142.5 214.1 143.4 209.2 142.5 204.3 141.6 201.4 140.6 200.4 137.8 198.4 137.8"/>
</g>
<rect x="49.5" y="9" width="216.5" height="172.0" fill="none" stroke="#7d7d7d" stroke-width="1"/>
<path d="M45.0 26.6H49.5M45.0 69.5H49.5M45.0 112.4H49.5M45.0 155.3H49.5M75.4 181V184.5M118.5 181V184.5M161.6 181V184.5M204.8 181V184.5M247.9 181V184.5" stroke="#a0a0a0" stroke-width="0.7" fill="none"/>
<g font-family="Liberation Sans, sans-serif" font-size="9.0" fill="#262626">
<text x="39.5" y="29.8" text-anchor="end">41°N</text>
<text x="39.5" y="72.7" text-anchor="end">40°30'N</text>
<text x="39.5" y="115.6" text-anchor="end">40°N</text>
<text x="39.5" y="158.5" text-anchor="end">39°30'N</text>
<text x="75.4" y="197.9" text-anchor="middle">115°30'E</text>
<text x="118.5" y="197.9" text-anchor="middle">116°E</text>
<text x="161.6" y="197.9" text-anchor="middle">116°30'E</text>
<text x="204.8" y="197.9" text-anchor="middle">117°E</text>
<text x="247.9" y="197.9" text-anchor="middle">117°30'E</text>
</g>
<rect x="59.6" y="210.5" width="15.5" height="7.9" fill="#ffffff"/>
<rect x="74.9" y="210.5" width="15.5" height="7.9" fill="#e1e1e1"/>
<rect x="90.2" y="210.5" width="15.5" height="7.9" fill="#0a96e6"/>
<rect x="105.6" y="210.5" width="15.5" height="7.9" fill="#0a7dd2"/>
<rect x="120.9" y="210.5" width="15.5" height="7.9" fill="#0564b9"/>
<rect x="136.2" y="210.5" width="15.5" height="7.9" fill="#96c81e"/>
<rect x="151.5" y="210.5" width="15.5" height="7.9" fill="#28aa3c"/>
<rect x="166.9" y="210.5" width="15.5" height="7.9" fill="#14963c"/>
<rect x="182.2" y="210.5" width="15.5" height="7.9" fill="#fff01e"/>
<rect x="197.5" y="210.5" width="15.5" height="7.9" fill="#ffbe14"/>
<rect x="212.8" y="210.5" width="15.5" height="7.9" fill="#ff960a"/>
<rect x="228.2" y="210.5" width="15.5" height="7.9" fill="#f06e0a"/>
<rect x="243.5" y="210.5" width="15.5" height="7.9" fill="#e6141e"/>
<rect x="59.6" y="210.5" width="199.2" height="7.9" fill="none" stroke="#9a9a9a" stroke-width="0.5" stroke-opacity="0.6"/>
<path d="M74.9 210.5V218.4M90.2 210.5V218.4M105.6 210.5V218.4M120.9 210.5V218.4M136.2 210.5V218.4M151.5 210.5V218.4M166.9 210.5V218.4M182.2 210.5V218.4M197.5 210.5V218.4M212.8 210.5V218.4M228.2 210.5V218.4M243.5 210.5V218.4" stroke="#333" stroke-opacity="0.35" stroke-width="0.5"/>
<g font-family="Liberation Sans, sans-serif" font-size="9.0" fill="#262626" text-anchor="middle">
<text x="90.2" y="227.4">0.05</text>
<text x="120.9" y="227.4">0.1</text>
<text x="151.5" y="227.4">0.15</text>
<text x="182.2" y="227.4">0.2</text>
<text x="212.8" y="227.4">0.25</text>
<text x="243.5" y="227.4">0.3</text>
</g>
<text x="255.3" y="229" font-family="Liberation Serif, serif" font-size="12.2" fill="#1a1a1a">fl km<tspan dy="-5.4" font-size="7.3" font-weight="bold">−2</tspan></text>
<text x="195.3" y="23.7" font-family="Liberation Serif, serif" font-size="11.8" fill="#111"><tspan font-weight="bold">(a)</tspan> PR92_1</text>
</g>
<g id="panel-b">
<g clip-path="url(#clipb)"><g transform="translate(317.6,8.4) scale(0.5)" stroke="none">
<path fill="#eaeaea" fill-rule="evenodd" d="M159 56l-2 8 4 2 3 4-1 5-3 3-7 0-4 6-11-2-10 4 3 6-1 2-4-1-5-4-1 4-8 7-5 0-4 3-7 0-2-2 2-6-6-5-5-7 0-4 3-4 0-3 3-3 7 0 3 4 3 0 4-3 10-3 3 9-1 4 4 2 3-3-2-7 9-6-4-5-3 0-2 2-4-1 2-9 9 2 11-6 11 0zM301 72l4 0 5-3 7 2 5-4 4 0 2 2 8-2 12 10 0 2-3 2-4 0-7-3-5 4-8-1-6 4-8-1zM282 75l4-4 5 1-1 3-3 1zM342 123l6 0 10 3 7 10-5 6 1 6-3 8-2 1-9-1-3 2-4-1 0-2 4-4-3-7 0-6-3-4 0-4zM127 139l2 3 1 10-5 5-10 4 1 2-3 2-8-1-3-7 4-4-6-1-3-3 0-3 4-3-1-5 4 0 4 2 6-3 6 0zM110 151l-3 3 2 4 4 2 2-2 1-6zM108 185l-2 10-5 3-22-4-24-1-7-3 3-5 21-10 8 1 3-2 8 1 3-2 10 3zM202 197l2-3 6-4 6 1 21-1 1 1-6 4 2 9-5 6-5 0-5-5-6 3zM267 202l-1 4-2-1-10 6-11 0-4-4 0-5 3-4 3 2 2 7 6-3 1-6-2-2 0-4 2-2 5 1-3 7 1 1 5 0z"/>
<path fill="#0a96e6" fill-rule="evenodd"  d="M119 67l5-1 3 2 5 0 8 7 3-1 0-4 4 1 2 2-3 3 2 14 7 1 1 4-4 2-3-3-2 1-6-1-7-4-5-8-8-6zM129 72l-1 2 4 5 2 0-2-3 0-4zM354 111l-1 5-4 4 1 9 4 5-2 8-4 3-3 0-6 4-5 1-2 2 0 4-3 2-3 0-5 3-6-1-2 2 2 3-1 6-7 0-3 2-7-1-6 4-10 0-4 3-9 0-9-3-10 6-2 6-5 4-4-1-5-5-7 2-5-2-7 7 1 3-3 2-15 0-8-7-3-1-2-5-6 1-5-2-5 7-4 1-8 0-6-3-9 2-3-1-1-5 4-3 13-1 4-2 12 1-1-8-3-3-8-4-7-8-6-3-9 0-6 4-2-2 1-4-16-22-5 4-6 2-5 0-3-2-2-4 0-9 3-3 8 0 7-3 4 0 4 2 10 0 12-6 5 0 6 3 8-1 3-4 5-1 4-3 4 3 3 0 2-2 0-3-3-2 1-5-2-4 1-5 4-3 6-1 8-8 6-3 4 0 3 6 3 2 22-2 3 4 3 0 1-3 4-2 4 1 13-1 5-4 5 0 3-2 6 2 4 5 6 3 3 0 5-6 12 2 4 4 4-4 8 3 10 10 4 12 6 6zM146 136l-1 3 4 5 1-3zM202 174l3 3 2-1-1-3zM261 169l-3-1-2 3 4 1zM37 114l5-7 5 0 2-4 6-1 3 2 0 3 2 3 7 2 2 2 0 3-4 7-17 1-8-4zM19 110l3 6 9 7-1 8-9 5-17-1-4-4 0-17 11-2 3-2zM73 117l6-1 8 5 0 3-10 4-3-4zM115 184l-1 6-7 1-3-2 8-6zM33 184l3 0 4 5 0 5-3 2-3 0-3-5 0-5z"/>
<path fill="#0a7dd2" fill-rule="evenodd"  d="M342 109l0 3-6 9 1 1-1 13 2 3-2 3-3 0-2 2 0 3-6 6-4-1-3 6-4-4-4 0-3 2 0 2-3-1-7 5-4-3-4 7-7-4-5 0-5 3-2 5-3 0-5-8-3 0-3 4-16-2-1 4-3 1-4 4-7 3-4-2-2 3-3 0-2-4-6-4-10 3-6-4-6-1-2-5 6-5 0-2-10-5-5 2-3-4-9 2-1-2 2-3 0-4-6-1-2-2-1-13 2-4 6-2 3-6 2 1-1 5 5 1 2-7 2-1 6 1 2-2 2-5-1-7 5-6 4 4 11 1 3 2 2-2-2-5 1-2 3 6 4 2 4-3 0-3 4-5 7-2 3 1 3 4 4 0 4 2 10-2 2-5 4-2 3 0 5 5 4 0 1-1-2-6 2-7 3 0 2 2 1 8 5 1 1 4-2 2 0 4 2 2 5-2 0-6 2-4 6-1-1-2 1-3 2 1-1 2 1 6 3 3 2 0 5-5 2 0 3 8 2-1 0-4-3-4 3-4 6 1 2 2-2 6 8 8 2 0 1 7zM284 122l-2 2 0 4 4 2 0-7zM303 129l2 3 3 0 3 2 4-1 0-1-5-1-1-3-3-2zM324 98l-3 0-2 2 3 3-2 4 1 3 4-4zM165 124l-3 1 1 4 3-2zM222 98l2 4-1 4 5 2 1 7 2 1 2-2-2-7-6-6 0-2zM235 98l-1 4 2 1 1-3zM232 137l2 2 4 0 4 2 7-3 2-3 8-1 1 3 4 2 1-3 3-2 5-1 4 1 0-3-6-5-2 3-9-2-10 6-3-9-3 0-3 2-2 4-2 1-4-1zM257 95l-1 6 3 2 3-4-2-3zM224 138l1 3 4 0 2-2-2-2zM256 110l-1 4 3 1 2-3zM202 76l3 1 0 3 4 4-2 3-5-1-2-7zM139 83l3-2 3 4-4 2zM44 109l9 1 2 2 10 2 1 3-6 5-11 1-3-1-4-4 1-2 4 0-4-4zM17 112l3 4 0 2-3 3 0 4-7-3 0 3 3 6 3 0-10 2-6-9 0-7 3 0 3-2 6 1zM116 120l-1 5-8 7-9 1-5-5 3-7 9 0 4-3 5 0zM76 119l4 2-1 3-3-1zM143 121l4 4 0 2-5 1-1-5zM25 122l3 1 0 4-2 3-2-3zM342 125l4 4-2 4-3-1zM126 143l2-1 6 1 3-2 1-4 3 0 1 3-4 2 0 6 3 1 1-3 2-1 2 3 6 1 1 3-5 1-4-3-11 1zM288 167l4 2-2 4-4-1zM253 174l-2 4-8 4-1-1 1-4-3-3 1-2 6-1 1 2zM176 179l3-1 1 3-2 1zM211 182l5-2 1 4-1 1zM140 186l6-1 3-2 5 0 4 3-1 3-7-2-9 1zM194 184l3-1 3 1 4 4 5 0 1 7-1 1-13-1 0-7zM35 188l3 2-1 3-3-1z"/>
<path fill="#0564b9" fill-rule="evenodd"  d="M276 91l2-1 3 1-3 6 9 6-1 3-5 1-3-3-1-6-3-3zM296 94l6-1 3 2 4-2 3 8 3 2 0 5-3 3-2 0-3-2 2-4-1-2-3 2-4 0-5-6zM190 101l2-2 3 2-3 3-2-1zM331 101l2 4-5 6 0 4-3 2-2-4 4-3 1-8zM289 107l3-2 5 0 6 7 1 4 5-2 9 1 6 9-1 6-4 2-2-4 2-3 0-3-2-1-3 6-9-6-5 3-8-6 0-6zM250 108l-2 3 1 5-4 2-2-3 0-4 4-4zM223 112l2 1 0 5 3 4-1 3-4-3 1-1-3-4 0-3zM280 114l3-3 3 0 4 4-2 2-4 0zM171 128l4 2 6-5 4 0 4-2 1-2-1-6 2-2 4 0 3 3 2 9 3 2 4-1 3-6 1 1 6-1 5 3 0 3-4 4-5 1-9 7 5 6 5 1-4 6-3 0-6-6-7 0-2-3-5 0-3-4-4 2-4 0-3-6-4-1zM263 117l3-2 2 2 0 3-2 1-2-1zM95 126l3-3 12 2-2 4-5-1-7 1zM328 123l5 7-6 9-3-1-4 2-1-1 1-2 3-2 3-5-2-5zM293 131l2-1 3 3-3 2zM285 138l4 2 1 3-1 1-5-2zM311 138l4 1 1 3-1 4-3-2zM255 140l2 0 1 2-1 2-3-1zM248 142l1 3-2 2-2-1 0-2zM301 144l7-1 1 3-7 1zM216 147l2-1 2 1 0 2-2 1-2-1zM294 151l3-3 5 1-2 5-3 0zM206 154l2 0 2 8-3-3-4-1zM251 157l1-3 3 1zM276 155l2-1 2 2-3 1zM263 156l3-2 7 6-5 2zM222 157l4 1-1 6-4-5z"/>
</g></g>
<g fill="none" stroke="#6e6e6e" stroke-width="0.8" stroke-linejoin="round" clip-path="url(#clipb)">
<path d="M424.8 26.8 428.5 25.5 431.3 25 432.6 22.3 434.1 20.5 436.3 20.2 438.2 21.4 438.8 24.1 438.2 25.9 439.7 28 441.6 30.3 443.4 33 446.2 34.8 449 36.6 451.8 38.7 454.6 40.5 456.9 42.3 458.7 44.6 461.2 46.9 464 48.7 466.8 49.6 470.5 49.9 475.2 49.9 479.8 50.5 484.5 50.8 489.2 51.4 493.9 51.7 498.5 52.3 502.3 52.3 505.4 52.3 506.9 53.5 506 55.3 503.2 55.8 500.4 54.8 498.5 55.8 495.7 57.6 492.9 58.9 489.2 59.7 486.4 60.6 484.1 62.4 482.6 64.7 482.3 67.8 483.6 70.4 484.5 73.1 484.1 75.8 485.5 78.5 487.3 81.1 490.1 83.8 492.9 86.1 496.7 89.1 495.3 92.7 492.9 95.4 489.2 97.7 485.5 99.5 480.8 100.7 477 102 472.4 103 468.6 103.8 464 104.8 459.3 105.5 454.6 106.1 450.9 106.6 447.2 107.3 446.8 110.5 448.1 114.1 450.9 116.8 454.6 118.6 458.4 120.3 460.6 123 460.2 125.7 458.4 128 457.4 130.1 459.3 131.9 455.6 133.7 452.8 136.4 450 139 448.1 140.8 445.3 139.4 442.5 138.7 440.6 139.9 437.8 139 435 138.2 432.2 137.6 429.4 139 426.6 140.8 425.7 142.6 422.9 144 420.1 145.8 417.3 147.6 418.2 148.8 420.1 150.6 419.2 152.4 415.4 151.5 411.7 150.6 408 149.4 405.2 147.6 403.3 145.3 401.4 143 398.6 142.3 394.9 143 391.1 142.3 387.4 141.7 383.7 141.2 380.9 140.5 378.6 141.7 376.8 140.5 374.9 141.7 372.5 143.5 369.7 144.8 366.9 146.2 364.1 147.1 361.3 145.3 358.5 143.5 356.6 140.8 353.8 139.9 350.1 139 346.3 137.3 343.5 135.1 341.7 132.8 340.7 129.8 337.9 128 337 125.7 340.7 124.4 344.5 123.4 347.3 122.1 345.4 119.4 344.5 116.8 342.6 114.1 339.8 112.3 337 110.5 336.4 107.9 338.3 105.2 340.7 102.5 343.5 100.7 347.3 99.5 351 98.1 354.7 97.2 358.5 95.9 362.2 94.9 365 93.6 368.2 91.8 371.5 89.5 375.6 87.7 379 85.2 379.9 82 378.1 81.1 377.1 78.5 374.3 76.7 371.5 74.9 368.7 72.2 365 70.4 364.1 67.8 362.2 66 363.1 63.3 365.9 61.5 368.7 59.7 372.5 58.3 375.6 56.5 379 57.1 381.8 58.9 384.6 58.9 387.4 58 391.1 57.1 393 55.3 395.8 53.5 396.7 50.8 398.6 49.9 400.5 47.3 402.4 44.6 403.3 42.3 406.1 42.8 408.9 44.6 411.7 43.7 414.5 43.7 417.3 42.8 420.1 41.9 418.2 40.1 415.4 38.4 412.6 36.6 410.8 33.9 411.7 31.2 414.5 30.3 418.2 30.3 420.1 28 423.8 27.3 429.4 25.9Z"/>
<path d="M496.7 89.1 499.5 87.7 503.2 87.4 506.9 88.8 509.7 90.9 512.5 93.6 515.3 96.3 518.1 99 521.9 100.2 525.6 100.7"/>
<path d="M525.6 108.8 521.9 108.8 518.1 108.4 514.4 107.9 511.6 108.8 509.7 111.4 508.4 115 508.8 118.6 510.7 122.1 512.5 125.7 514.4 129.2 517.2 131.9 519.1 135.5 518.1 139 520 141.7 521.9 143.5 525.6 145.3"/>
<path d="M448.1 140.8 448.7 144.4 449 148.8 450.9 152.4 452.8 156 451.8 159.5 453.7 163.1 454.6 166.7 454.3 170.2 454.6 173.8"/>
<path d="M480.8 100.7 479.8 104.3 478 108.8 477 113.2 478 116.8 480.8 118.6 485.5 119.4 480.8 120.9 478 123 478.9 126.6 479.8 130.1 478.9 133.7 477 136.4 474.2 137.3 469.6 136.4 464.9 135.5 462.1 134.6 461.2 131.9 459.3 131.9"/>
</g>
<rect x="317.6" y="8.4" width="206.0" height="164.9" fill="none" stroke="#7d7d7d" stroke-width="1"/>
<path d="M313.1 25.3H317.6M313.1 66.4H317.6M313.1 107.5H317.6M313.1 148.6H317.6M342.2 173.3V176.8M383.3 173.3V176.8M424.3 173.3V176.8M465.3 173.3V176.8M506.4 173.3V176.8" stroke="#a0a0a0" stroke-width="0.7" fill="none"/>
<g font-family="Liberation Sans, sans-serif" font-size="8.6" fill="#262626">
<text x="307.6" y="28.5" text-anchor="end">41°N</text>
<text x="307.6" y="69.6" text-anchor="end">40°30'N</text>
<text x="307.6" y="110.7" text-anchor="end">40°N</text>
<text x="307.6" y="151.8" text-anchor="end">39°30'N</text>
<text x="342.2" y="189.5" text-anchor="middle">115°30'E</text>
<text x="383.3" y="189.5" text-anchor="middle">116°E</text>
<text x="424.3" y="189.5" text-anchor="middle">116°30'E</text>
<text x="465.3" y="189.5" text-anchor="middle">117°E</text>
<text x="506.4" y="189.5" text-anchor="middle">117°30'E</text>
</g>
<rect x="322.5" y="195.5" width="15.3" height="7.8" fill="#ffffff"/>
<rect x="337.6" y="195.5" width="15.3" height="7.8" fill="#e1e1e1"/>
<rect x="352.6" y="195.5" width="15.3" height="7.8" fill="#0a96e6"/>
<rect x="367.7" y="195.5" width="15.3" height="7.8" fill="#0a7dd2"/>
<rect x="382.7" y="195.5" width="15.3" height="7.8" fill="#0564b9"/>
<rect x="397.8" y="195.5" width="15.3" height="7.8" fill="#96c81e"/>
<rect x="412.8" y="195.5" width="15.3" height="7.8" fill="#28aa3c"/>
<rect x="427.9" y="195.5" width="15.3" height="7.8" fill="#14963c"/>
<rect x="442.9" y="195.5" width="15.3" height="7.8" fill="#fff01e"/>
<rect x="458.0" y="195.5" width="15.3" height="7.8" fill="#ffbe14"/>
<rect x="473.0" y="195.5" width="15.3" height="7.8" fill="#ff960a"/>
<rect x="488.1" y="195.5" width="15.3" height="7.8" fill="#f06e0a"/>
<rect x="503.1" y="195.5" width="15.3" height="7.8" fill="#e6141e"/>
<rect x="322.5" y="195.5" width="195.7" height="7.8" fill="none" stroke="#9a9a9a" stroke-width="0.5" stroke-opacity="0.6"/>
<path d="M337.6 195.5V203.3M352.6 195.5V203.3M367.7 195.5V203.3M382.7 195.5V203.3M397.8 195.5V203.3M412.8 195.5V203.3M427.9 195.5V203.3M442.9 195.5V203.3M458.0 195.5V203.3M473.0 195.5V203.3M488.1 195.5V203.3M503.1 195.5V203.3" stroke="#333" stroke-opacity="0.35" stroke-width="0.5"/>
<g font-family="Liberation Sans, sans-serif" font-size="8.6" fill="#262626" text-anchor="middle">
<text x="352.6" y="211.3">0.05</text>
<text x="382.7" y="211.3">0.1</text>
<text x="412.8" y="211.3">0.15</text>
<text x="442.9" y="211.3">0.2</text>
<text x="473.0" y="211.3">0.25</text>
<text x="503.1" y="211.3">0.3</text>
</g>
<text x="512.7" y="216" font-family="Liberation Serif, serif" font-size="12.2" fill="#1a1a1a">fl km<tspan dy="-5.4" font-size="7.3" font-weight="bold">−2</tspan></text>
<text x="456.4" y="24.1" font-family="Liberation Serif, serif" font-size="11.8" fill="#111"><tspan font-weight="bold">(b)</tspan> PR92_2</text>
</g>
<g id="panel-c">
<g clip-path="url(#clipc)"><g transform="translate(58.2,236.4) scale(0.5)" stroke="none">
<path fill="#0a96e6" fill-rule="evenodd"  d="M201 44l1-2 3 0 0 1zM368 44l-1 3-3 0 2-3zM77 47l-3 3-2 0 2-3zM122 48l-1 2-4 2-4 0-1-1 2-2 5-2zM341 48l1 2-2 2-2 0zM206 53l1-3 6-1 1 2-6 3zM323 55l-7 8-5 0-2-2 0-2 2-2 7-4 2 0 0 1zM368 55l4-2-1 2zM106 57l1 2-5 4-4 0-1-1 2-4 4-2zM195 57l-3 2-3 0 0-1 2-1zM245 60l5-4 3 0 1 2-4 2zM89 59l-4 5-3 0-1-2 3-2zM131 60l-4 4-4 2-3-2 6-5 4 0zM228 62l-5 5 5 0 1-1 1 1-5 5-4 2-3-2-4 0 4-6 5-4 3-1zM377 63l1-1 3 0-3 2zM69 63l0 2-7 3 0-2 5-4zM136 63l-1 3-4 2-3 0 4-4zM170 66l1-2 3 0-2 2zM16 66l-1 3-4 1 2-3zM181 70l4-3 7 0 3 5-2 2-4 1-2-3-5 0zM366 79l6-4 3 0 1 1-6 4-3 0zM1 84l1-2 4-2 3 0 1 2-4 3zM340 140l0 1-8 4-5 4 1 1 2-1 3 0 1 1-3 4-6 4-8 3 1 3 3 0 1 1-2 3-4 0-5 2-3-1-4 1-2 3 0 2 2 2-4 2-1-1 1-2-1-2-3 0-2 2 0 3 3 3 5 0-2 3-8 1 0 1 3 2 12-3 2-2 0-3 5-4 8 0 1 3-13 6-5 4-3 5-4 3-3 0-1 1-3 0-1-1-1 1-14 0-4 4-5 2-3-2-5 3-3-1 4-4 3-1 3 1 4-2 4 0 1-1 0-3-2-2 4-5-3 0-4 2-3 4-5 1-14 9-6 2-5 0-1-2 5-4 6-2 3-5-9 1-5 3-5 1-9 6-5 0-1-1-4 1-1-3-5 0-1-2 4-3 6-1 6-4 3 0 1-1 3 1-3 4 15-10 1 1 4 0 6-4 2 1 7-1 4-3 2 0 7-4 3 0 4-2-11 2-3 2-8 0-1-2 3-4-5 0-2-1-5 3 4 1-2 2 1 2 2 0-1 3-13-1 0-3-2 1-10 1-16 7-1-2 3-4 0-3-1-1-5 0 2-3-4-2-4 0-1-2 5-4 2-3-3 0-4 2-5 0 7-5-4 0-7 5-7 0 0-5-6-4-3 1-5 6 9-1 0 2-4 4-1 3-8 5 0 3 8 0 0 1-10 6-7 1-10 6-5 1-2 2 7 0 1-1 3 1-1 2-5 4-11 1-1-2 3-4 0-2 9-6-1-3 3-5-2 0-7 5-3 0-1-1 0-3 5-4 3 0 4 2 3-2 4-1 6-7-5 0-2 2-9 4-4-1 5-5-2-2-15 5-1-2-3 0-7 6 1 1 7-1 1 2-11 5-5 6-15 3 4-4-3 0-2-2 3-3 1 1 3 0 1 1-1 1 4 0 4-6 0-3 8-9-2-2-12 1 1-3 6-1 5-4 1-3-6 1-1-2 6-5 7-3 1 1 3-2-15 1-3-4-4-2 3-4 7 1 16-9 5 0 6-3 4 2 3 0 14-6 3-5 5-2 3 0 2 2 2 0 4-3 0-1-7 1 0-3 4-4 10-5 4 0 3 2 2 0 2-2 0-3 3-2 9 2-1 1 0 2 1 0 3-5 5-3 2 0 1 2-1 3 3 1 3 4 10-4 3 4-7 5-2 5 3 0 10-9 8-4 5-4 8-1 5-3 5-1 0 2-2 2-10 3-3 3 0 1 3 0 5-3 9-3 8-6 6-1 8-4 5 1 4-2 3 0-1 4-4 1-2-2-7 3-6 0-7 5 0 3 1 1 2-1 12-1 1 1-2 3 1 1 2-1 5 1-3 4-3 0-1 1-8-1-8 3-8 11 0 4-2 3 3 0 2 1 3 4 5 1 3-2-1 0-2-3 8-4-5 0 0-1 6-4 5 0 1 2 6-2 5 0-4 5-9 3 0 1 3 0 3 3-3 6 8-1-4 3-7 0-4 3 1 3-6 11 1 1 8-2 3-3-1-4 4-4 7-4 0-2 3-3-1-3 4-4 5-3 3 0 1 3 5 0-2 2-5 0-5 5-1 3 1 3-4 5 3 2-1 2 3 0 2-2-1 0-1-2 4-4 7 0 7-4zM283 146l-3-1-2-3-2 0-11 4-6 4 0 2 15-1zM287 187l5 0-1-1zM313 154l-8 4 1 1 3 0 4-3zM318 158l-1-1-6 3-12 9 6-1 8-6 3-1zM265 182l-2 0-4 3 4 0zM125 137l-4 2 4-1zM135 135l-2 0-3 2 2 0zM174 122l-4 0-6 3 1 1-5 6 5 0 6-4 3-3zM196 114l-9-1-5 3 2 1 0 2-6 4-1 2 4 5 7-7 0-4zM198 121l-5 2-4 5 2 1 4-2 3-3zM208 113l-4 1-2 3 2 0 3-2zM217 108l-4 0-2 3zM218 145l-2 0-2 2 1 1zM224 109l-2-1-2 4 3-1zM253 113l-3 0-7 5 6 0zM274 133l-1-1-4 0-10 3-6 0-3 2-5 1-5 6 4 1 4-2 5 0 3-1 5-4 3 0 1 2 2 0 5-2 2-3zM284 161l-3 2 0 2 3-2zM171 133l-2-1-4 3 0 2 3-1zM173 141l-3 0-4 2-6 0-1-1-12 1-4 3 2 4 5 0 0 1 2 1 8-5 4 0 7-3zM175 150l-8 6 6-1 2-2zM189 136l-2 0-3 2-5 0-2 3 7-1 4-2zM196 139l-1-1-2 1-4 4 3 0 3-2zM215 117l-4 1-3 3 1 1 4-2zM215 161l-3 2 0 1 1 0zM233 138l-1-1-5 2-2 3 5-1zM252 120l-2 0-3 2 4 0zM248 154l-3 0-4 2-2 3 7-2zM155 161l-3 0-3 2 4 0zM214 126l-1-1-4 0-9 6-2 3 13-4 3-2zM250 131l-3 0-4 2-3 5 5 0 0-1 5-3zM242 169l2-1 6 0 3-1 1-2-5-1-5 2zM209 136l-1-1-4 2-1 2 2 0zM115 86l-2 5-3 2-4 0 6-6zM161 85l2 2 0 2-2 3 4 0 0 1-5 4-4 1-1-1 1-3-6-2 1-2 4-3zM14 87l-1 3-4 2-4 0-5 2 0-3 4-3 5-2 4 0zM174 87l-2 2-5 2 3-4 2-1zM254 89l2-3 3 1-4 3zM53 92l-5 3-8 0-3 2-7 2-2-1 6-7 5-3 2 1 1 3 5 0 1-1 4 0zM89 91l0-1 6-3 3 0 1 2-3 2-3 0-1 1zM174 96l-1 3-6 0-7 3 1-2 11-5zM98 98l0 1-3 2-5 1 1-2 4-2zM139 97l1 2-2 3 0 2-11 10-6 2-1-1 1-4-2 0 0-2 13-9zM176 101l-2 3-5 2-5 4-3 1-5-1-2 2-3 0-3 2-1-1 10-4 7-5 2 0 6-3zM370 101l-3 3-6 0 4-3zM150 103l-5 6-4 2-3 0 6-7 4-2zM313 105l-1 2-2 0zM78 105l0 2-4 3-3-1 0-1 4-3zM113 107l-4 4-3-1 3-4 3 0zM13 108l0 2-4 3-1-2 3-3zM293 116l0-1 7-6 2 1-1 3 4-2 3 0 1 1-4 4-3 0-1-1-2 0-3 2zM47 113l-6 4-11-2 0 1-3 2-1 4-3 3-5 3-2 0 0-2 5-6 12-7 4 0 1-1 8 0zM92 117l-7 3-2-1 0-1 4-3 3 0zM105 115l0 2-3 3-4 2-5 0 0-3 2-2 7-3zM143 116l-7 5-7 1-6 5-9 3-10 6-5 1 0-2 4-3-6 0 0-1 11-10 10-2 4-2 3 2 0 2 3 0 6-4 7-2zM10 124l-4 3-3 0 6-4zM51 124l-1 2 1 3-12 6-7 2-1-1 17-13zM358 125l-1 2-4 3-3 0-1-2 6-5zM316 125l1 1-4 3-1-1zM72 127l-3 4-3 0-1 1-5 0-1-1 10-5zM78 131l0-1 2-1 3 1zM2 136l-2 3 0-2zM9 138l0-1 2-1 1 1zM327 137l-1 3-3 0 2-3zM29 138l-5 4-2-1 4-3zM59 139l-5 4-4 0 5-4zM362 143l-3 3-7 4-8 2-6 4-3 0 0-2 3-2 7-1 0-1 5-4 7-4 4 0zM20 148l3-4 3 0 1 1-6 4zM37 146l0 2-3 3 1 2-1 3-5 3-2 0-1-1 1-3-3-2 9-6zM6 151l0-1 3-2 2 1 0 1-2 1zM372 152l-4 4-8 5-7-1-8 5-1-1 2-3 0-3 11-7 7-2 3 3 3 0 1-1zM82 152l-3 2-5 1 1 0 2-3 4-2zM95 156l-5 4-6 2-3-3-1 1-3 0-1-1 5-3 3 2 9-3zM379 157l-5 6-1-1-5 0 7-5zM342 159l-8 4 2-3zM370 171l0 1-5 4-10 5-6 0-5 4-6 0 4-3 1-2-1-1-1 1-5 0-1-1-7 1-1-1 4-3 1 1 10-1 7-7 3 0 2 3-9 5 6-1 14-10 1 1-1 2zM86 174l0 1-8 4 0-2 5-4zM137 174l-4 4-4 2-3 0 0-2 3-3 5-2zM196 174l-5 3-1-1 5-3zM307 176l3-2 1 1-1 1zM76 180l-1 2-9 4-1 3-5 4-7 0 0-2 5-4 16-7zM48 183l2-1 0 1zM68 189l2-2 5-2 2 1 5-1 0 4-6 4-3 0 3-4-1-1-3 2-3 0zM202 187l-5 5 1 1 3 0-11 8-4 0 1-3 4-4-2-1 0-3 3-3 4-2zM338 186l-7 5-5 1-3 2-7 1-9 6-3-1 10-8 5-2 5-4 12 0 1-1zM343 187l2-2 1 1zM162 193l0-2 3-3 4 0 1 1 5-1 1 1-3 2-5-1zM129 191l0 2-12 10-4 2-5 0-1-1 1-3 4-4 2-1 6 0 4-4zM364 191l-1 2-4 0 2-2zM337 194l-8 4 1-2 4-2zM354 196l-7 5-3 0-1 1-4 0-1-1 1-2 3-2 6 0 5-2zM287 201l-3 3-5 1-6 6-2 1-5 0 8-8 6-1 5-3zM321 202l-4 4 0 7-6 5 0 2-2 3-3 2-2 0-2-2-3 0 0-1 7-6 1-2-1-4 7-6 4-2zM356 205l0-1 3-2 10 0 1 1-3 3-2 0-2-2zM286 204l2-1 4 3 0 2-2 2-4 0-1-1zM69 206l-7 8-5 1 1-2-1-2 3-3 5 0zM235 213l4-3 1 1 0 3 3 0 1 1-4 1zM117 213l-8 7-4 2-2 0-2-2 1-2 11-7 3 0zM360 214l-5 4-3-1 6-4zM20 220l-9 5-4 1-4 3-2 0 0-1 4-3-2 0-2-2 4-4 7-4 3 0 0 2-2 2 1 1 2-1 3 0zM50 215l0 5-3 2-4 0-1-1zM181 215l0 2-2 2-5 1 2-3zM277 216l-6 5 0 1 2 1-4 4-2 1-1-1 1-4-7 3-3 3 1 1 0 3-2 2-8 1-1 1-3-1 6-7 5-2 3-3-6 0 4-4 2-1 7 1 10-5zM196 229l0-1 3-2 3 1-1 2-3 1zM37 228l-7 6-4 0 5-5zM106 228l-2 3-4 2-5 0-1-1 2 0 6-4zM346 230l-1 2-5 2-4 0-1-1 5-3zM71 232l-9 6 6 3 0 1-8 6-2-1-3 1-6 8 3 1 0 2-3 2-5 0-1-1-4 2-3 0-1-1 3-6 2-2 6-2 0-1-6 1-1-3-3 0-4 2-5 0-5-4 5-4 5 1 4-2 1 1-1 3 3-1 6 1 4-2 5 0 2-2 5-2 1-2-2-1-6 3-8 2-1-1 1-3 8-6 6 0 1-1 4 2 4 0 1-1zM0 235l0-3 3-1 1 2zM183 232l-1 2-3 2-3 0 3-4 2-1zM94 233l-7 5-2-1 0-1 4-3zM274 234l-2 3-6 1 0-1 4-3 3-1zM305 234l-5 7-4 2-2-1 7-6zM22 236l-12 5-2 0-2-2 2-2 7-1 4-2zM354 240l0 1-4 2-2-1 2-2zM210 244l-6 3 2-3 2-1zM169 246l4-1 0 1-2 1zM263 246l-10 7-3 1-1-1 8-8 2-1 3 0zM277 248l0 1-4 1 1 0 1-2zM0 248l5 3-2 3-3 0zM110 253l1-2 2 0-1 2zM293 252l0 1-3 2-4 0 1-2 4-2zM17 254l-4 5-5-1 0-1 5-4 3 0zM233 253l-2 3-3 1-1-1zM246 253l-2 3-4 2-2-1 2-3 4-2zM324 253l-3 3-4 0 6-4zM115 257l-1 4-3 3-4-2 0-2 3-2zM220 258l-5 3-4 5-3 1-1-1 3-4 8-4zM272 261l-3 3-3 0 0-1 3-2zM358 260l0 2-2 2-2 0 1-2zM83 267l0 2-5 3-6 2-1-1-8 1 1-3 8-4zM301 270l0-1 3-1 1 1zM307 276l-5 4-3-1 4-4 3 0zM341 275l0 2-5 5-4 2-2-1 0-2 4-3zM386 279l0-1 4-3 3 1-5 4zM346 289l-4 2 0-1zM197 292l-3 2-4 0-1-1 3-3 4 0z"/>
<path fill="#0a7dd2" fill-rule="evenodd"  d="M367 45l0 1-2 1 0-1zM73 49l2-2 0 2zM121 48l-1 2-4 2-3-1 0-1 3-2zM341 49l-1 2-2 0zM207 53l2-3 3-1 2 1-3 3zM322 56l-2 1-4 5-5 0-2-2 4-4 4-2 3 0zM106 58l0 2-2 2-3 1-3-1 0-2 3-3 4 0zM253 57l0 1-4 2-3-1 5-3zM130 60l-3 4-2 1-3-1 0-2 5-3zM88 60l0 1-3 2-3-1 3-2zM227 62l0 1-5 4 1 1 6-1-3 4-3 2-8-1 0-2 7-7zM69 64l-2 2-4 1 3-4zM135 64l-2 3-3 1-1-1 3-3zM15 67l0 1-3 2 0-1zM182 69l1-1 9 0 2 4-4 3-3-3-5-1zM375 76l-3 3-3 1-2-1 4-3zM2 84l2-3 3 0 1-1 2 1-5 4zM308 85l0 3-3 2-2-3zM14 87l-3 4-7 1-4 2 0-2 6-5 3 0 1-1zM113 87l1 2-3 3-3 1-1-1zM161 86l2 3-3 3 1 1 3 0-3 3-5 1 1-4-6-1 4-4zM174 87l-2 2-4 1 3-3zM254 88l1-1 3 0-2 2zM301 87l0 1-4 2-8 1 6-4 3-1zM90 91l0-1 6-3 3 1-3 3zM43 93l-7 4-6 1 0-2 7-7 3 0 0 2zM339 140l-1 2-7 3-5 5 5 0 2-1 0 3-7 5-7 3-1-1 1-2-7 1 2-2 0-3-10 5 0 1 8 0-7 6-7 4 1 1 4 0-2 3-4 0-4 3 0 3 2 3 0 2-7 2-2 2 11 1 1-1 9-1-6 8-5 3-5 0-1-1-6 2-9-1-1-6 3-4 0-1-2 0-7 3-2 3-8 3-6 5-8 4-8 0 0-1 3-3 8-3 3-6-11 2-19 10-3 0-1-2-5 1 1-2-1-1-5 1-1-2 2-2 6-1 9-5 4 0-4 4 1 1 15-10 7 0 5-3 7 0 16-8 3 0 4-2 0-1-10 2-7 3-5 0-1-2 3-3 0-2-10 0-4 3 3 1 0 2-2 2 3 1-1 1-9 0-1-1 1-3-2 0-5 2-8 1-13 6-2 0 0-2 2-2 1-4-6-2 1-3-8-2 0-2 7-6-2-1-8 3-1-1 6-4-3-1-10 6-5 0-1-1 1-2-1-3-5-3-4 0 2-2 0-5-2 0-3 2 1 1-3 3-3 1-1 2 9-1-5 4-1 3 9-2 1 1-8 10-5 2-2 4-8 2 1 1 4 0 2-2 3 0 1-1 6 0 0 1-8 5-9 2-5 4-8 2-5 3 2 1 1-1 1 1 1-1 7 0-4 5-11 2-1-3 4-3-1-2 2-2 6-3-1-3 4-7 8-5 3-4-1-2-2 0-12 6-3 0 4-5-1-2-4 0-9 4-4 0 0-1-2-1-9 6 1 3 3-1 4 0 0 1-9 4-7 7-3 0-4 2-5 0 2-3 5-1 3-2 0-2 2-2 0-3 8-10-1-2-9 0-1 1-3-1 2-2 6-1 4-3 1-4-6 0 0-1 4-4 6-3 5 0 3-2 0-1-4 0-1 1-10 1-2-1-3-4-3-1 1-3 2-1 2 1 5 0 12-6 2-2 4 0 6-3 4 0 2 2 2 0 7-4 9-3 2-2 0-2 4-2 3 0 3 2 3-1 4-3 0-2-7 1-1-1 3-4 9-5 7 0 2 2 5-3 0-3 1-1 6 0 3 2-1 3 3-1 3-5 3-2 2 0 1 1 0 3 4 3 0 2-3 3 1 1-2 3 1 2 5-4-1-3 2-2 6-3 4 0 1 1 0 3-7 5-1 5 2 0 3-2 3-4 17-11 10-1 0-1 5-3 3 0 0 1-2 2-9 2-3 3 0 3 2 0 7-4 7-2 10-7 5 0-7 5 0 3-3 2 0 1 8-3 9-1 1 1-1 4 4 0 1-1 2 1-3 4-12 0-1 1-3 0-5 3-3 6-3 3-1 5-2 3 1 1 4 0 1 1-2 2-7 0-4 2-7 0-1 1-4 0 1-2-1-3-7 2-5 6 1 1 3 0-4 4 1 2 5 0 4-2 6 0 7-5 1 0 1 2 7-1 5-7 4 2 6 0 2-3-2 0-1-2 6-3 4 1 1 2 4 1 2 2 0 2-5 6-4 2-1 2 1 3-6 11 11-1 3-4-1-5 5-4 3-1 3-4 4-3-2-3 8-6 2 1-2 4-4 4 0 7-3 4 0 1 2 1-1 3 3 0 4-3-2-1 0-2 4-3 6 0 8-4zM249 154l-2-1-9 5 0 1 7-1 2-1zM256 165l-8-1-9 6 3 0 4-2 6 0zM284 145l-3 0-1-3-9 1-11 6-2 3 1 1 3 0 1-1 12-1 3-2 4 0 2-2zM285 160l-5 3-1 2 5-1 1-1zM266 182l-4 0-3 4 6-2zM128 137l-5 0-3 2 1 1 4-2 3 0zM129 151l-2 1 1 1zM137 134l-3 0-6 3 3 1 5-2zM151 134l-2-1-4 2 0 1 3 0zM197 114l-6-2-5 1-5 3 3 2-7 6-2 0 0-3-3 0-10 4 1 2-4 5 1 1 5 0-1 5 1 0 6-4 0-2-3 0-1-1 9-6 3 3 0 5 1 0 9-10-1-3zM199 120l-7 3-3 3-1 3 2 1 3-1 6-6zM218 108l-1-1-5 1-6 5-2 0 3-4-3 1-3 3 2 1-3 4 6-2 4-4zM220 144l-4 0-3 4 3 0zM232 126l-3 0 0 2 2 0zM254 113l-1-1-4 1-7 5 1 1 6 0zM272 169l-1-1-3 2zM190 135l-2 0-3 2-4 0-5 3-4 0-6 3-5 0-1-1-9 0-1 1-3-1-5 4 2 2 0 2 2 1 2-1 2 1 0 2 1 0 9-6 6 0 9-6 3 0 1 1 1-1 3 0 6-3zM215 117l-2 0-6 4 3 1 2-1zM217 160l-3 1-3 4 4-2zM233 137l-2 0-8 5 5 0 4-2zM253 120l-3-1-2 1-2 3 4 0 2-1zM156 160l-5 1-3 2 1 1 4 0zM214 125l-3-1-10 6-7 8-6 5 2 1 4-2 3-3-2-2 2-2 10-4 6-1 2-2zM229 153l-3 0-1 1 1 1zM210 135l-3 0-5 4 4 0zM228 164l-3 1 1 1zM52 92l-5 3-3-1 6-3zM174 96l-2 3-6 0 0-1 4-2zM97 99l-3 2-3 0 3-2zM139 98l-1 5-3 4-7 6-4 2-3 0 1-6-1 0 1-2 9-6 6-3zM175 102l-12 8-3 0-1-1 2-3 13-5zM362 104l0-1 5-2 2 1-3 2zM149 103l-5 6-5 1 4-5 3-2zM78 106l-3 3-3 1 0-2 2-2zM107 109l0-1 3-2 2 1-2 3zM12 108l1 1-4 3 0-2zM299 110l1 1-1 3-2 2-3 0zM308 112l0 1-3 2-3-1 2-2zM34 114l6-2 7 1-5 3-7 0zM105 116l-1 2-4 3-6 1-1-1 3-4 4-2 4 0zM91 117l-3 2-4 0 0-1 3-2 3 0zM142 116l-7 5-6 0 6-4zM128 122l-6 5-5 1-14 8-4 0 4-3 0-2-5 0 4-3 4-5 4-2 13-3 3 4zM26 119l0 2-5 5-4 2-1-1 6-7zM309 121l-4 4-8 1 0-2 2-2 6-2 3 0zM297 121l0 2-2 1-6 0 0-1 3-2zM50 124l-2 6-13 6-2-1 6-5 3-1 5-5zM357 124l0 3-5 3-3-1 3-4zM4 126l4-2-1 2zM71 127l-3 4-8 0 7-4zM57 140l-2 2-3 0 3-2zM361 143l0 1-4 3-8 4-3 0 0-1 7-6 5-2zM26 145l-5 3 0-2zM36 147l0 2-3 2 1 4-3 3-4 0-1-1 1-2 3-2-1-1-3 1 0-1 3-1 5-4zM10 150l-3 1 1-2zM369 153l-2 3-8 5-4-2-10 5 2-6 11-7 6-1zM80 151l1 1-3 2-1-1zM343 152l-4 3-3 0 0-1 3-2zM94 156l-3 3-4 2-3 0 0-2 6-3zM82 157l-1 2-4 0 3-2zM377 158l-2 3-5 0 4-3zM306 168l3-3 6-3 2 2 4 0 1 1-2 2-6 2-7 0zM370 171l-7 6-2 0-7 4-3 0-2-1-1-2 11-6 1-2 4-3 1 1-2 2 1 1 1-1 4 0zM353 171l-1 2-4 2-4 0 1-2 5-4zM85 174l-1 2-5 2 3-4zM135 174l-3 4-4 2-1-1 0-2 4-3zM343 177l-4 3-2 0-3-2-5 1 0-1zM143 179l-3 4-6 1 0-3 3-3 5 0zM322 178l-2 3-11 4 2-6 5-2zM345 180l1 2-4 2zM73 182l-6 3-5 6-5 2-3 0-1-1 7-6 7-2 3-2zM296 185l1-2 3-1 1 1-2 2zM93 186l2-2 3 0 1 1-2 2-3 0zM76 186l0 1-3 2-4 0 4-3zM200 187l-4 5 3 2-7 6-5 1-1-1 6-6 0-2-1 0-1-2 5-4zM336 187l-6 4-2 0-3 2-7 1-10 6-3 0 7-6 13-8 3 0 1 1 6-1zM81 186l1 2-3 3-5 1 4-5zM167 188l1 1-4 3-1-2zM128 192l-3 4-4 2-5 5-4 2-4-1 1-1 0-3 4-3 4-1 1 2 2 0 4-5zM352 196l-3 4-7 1-1 1-2-1 2-3zM264 203l3-3 3 0 1-1 2 1-5 4-3 0zM262 201l-3 4-3 0 2-3zM319 202l1 1-4 4 1 6-6 4-1 4-3 3-7-1 0-2 7-5 1-3-1-3 8-7zM357 205l1-2 3-1 1 1zM364 204l1-1 4 0-1 2-3 0zM280 204l-8 7-4 1 3-5 5-3zM286 209l0-2 2-3 4 3-4 3zM67 208l-5 6-2 1-2-1 1-5 2-1zM116 212l0 2-8 6-6 1 0-2 6-5 6-3zM359 214l-3 3-3 0 2-2zM18 220l-2 2-7 3-2 0 1-1-1-1-1 1-3 0-1-1 2-3 8-5 3 1-3 4zM181 216l-1 2-3 2-2 0 3-4zM276 216l-7 6-2 0-8 4-2 2 0 5-2 2-10 1 0-2 4-4 7-3 3-3 0-1-4 0-1 1-1-1 1 0 1-2 2-1 6 1 10-5zM49 218l-2 3-4 0 5-4zM272 223l-2 3-3 1 1-3zM197 229l1-2 3 0-1 2zM105 228l-3 4-6 0 7-4zM35 228l-4 5-3 1 4-5zM345 230l-2 3-6 1-1-1 5-3zM69 233l-6 4-1-1-3 0-8 4-4 0-1-1 4-5 4-2 9-1zM2 232l1 1-3 2 0-2zM182 232l-2 3-2 1-2-1 4-3zM91 234l-3 3-2 0 2-3zM20 236l-8 4-4 0-1-1 3-2 3 0 4-2zM273 234l-2 3-3 1-1-1 2-2zM302 237l-3 4-4 1 1-2zM67 242l-4 4-2 1-6 0-4 4 0 2-4 4 1 1 1-1 3 1-2 2-5 1 0-2-2 0-3 2-4 0 1-4 4-4 5-1 2-2-8 0 0-2 2-2 5-2 6 0 8-5 2 0zM353 241l-1 1-3 0 0-1 2-1zM23 245l2-2 9 0 1 1-1 1 2 1 4-1 0 1-6 3-7 0-3-2zM208 244l0 1-3 1zM262 245l-1 2-7 5-4 1 6-7zM0 249l4 2 0 1-4 2zM292 252l0 1-3 2-3-1 3-2zM245 253l-3 4-3 0 3-4zM9 257l1-2 4-2 2 1 0 2-2 2-4 0zM319 256l1-2 2-1 1 1zM114 257l0 3-3 3-2 0-2-2 2-2zM215 261l-5 5-2 0 1-3 3-2zM267 263l3-2 1 1-3 2zM63 273l3-3 7-3 3 0 1 1 3 0 1-1 2 1-2 2-7 3-3-1-2 1zM306 276l-1 2-5 1 2-3 2-1zM341 276l-3 4-5 3-2 0 0-2 7-5zM392 277l-2 2-3 0-1-1 2-2 3 0zM196 291l-1 2-5 0 0-1 3-2z"/>
<path fill="#0564b9" fill-rule="evenodd"  d="M121 49l-6 3-2-1 4-3 3 0zM213 50l-1 2-4 1 0-2zM321 56l-7 6-3 0-1-1 0-2 2-2 6-3zM106 58l-1 3-2 1-5 0 0-2 4-3 3 0zM253 57l-2 2-4 0 2-2zM87 60l-1 2-3 0zM130 60l-1 2-3 2-3 0-1-1 5-4zM226 62l0 1-5 4 1 1 5-1 1 2-5 4-7-1-1-1 6-7 3-2zM63 66l3-3 2 0-2 3zM135 64l-1 2-4 1 3-3zM182 70l2-2 8 0 1 4-3 2-2-2-6-1zM368 79l1-2 3-1 2 1-3 2zM9 81l-2 3-4 0-1-1 3-2zM308 86l-2 3-2-1 0-1zM13 87l0 2-3 2-10 2 2-3 5-3 3 0 1-1zM162 88l0 2-3 3-7-1 6-5 3 0zM173 87l0 1-4 2 1-2zM300 87l0 1-3 2-7 0 5-3zM98 88l0 1-3 2-5 0 0-1 3-2zM113 88l-1 3-4 1 1-2zM42 93l-10 5-2-1 1-2 7-6 1 0zM51 92l0 1-2 1-4 0 2-2zM303 104l-4 3-6 0-2-1-11 4-9 12-1 7 3 0 2 1-1 1-8 1-4 2-9 0-1-1 1-5-12 6-2 4 2 1 0 2-3 3 1 1 7 0 5-2 5 0 5-4 2 0 1 2 1-1 4 0 2-1 5-6 6 2 6-2 1-2-3-1 0-1 3-2 4 0 4 3 3 0 2 2 0 2-4 5-3 1-4 4 2 3-3 5-4 4-3 0 0 1 3-1 0 2-7 6 1 2 3-1 4-6 6-2 3 0 4 2 9 0 1 1-12 9 1 1 3 0-1 2-4 1-4 3 1 8-5 1-4 3 2 1 1-1 4 0 1 1 13-1-2 3-8 7-3 0-1-1-4 0-6 2-6-1-2-6 4-5-4 0-5 2-4 4-9 4-6 5-7 3-6 0-1-1 3-3 8-3 4-6-1-1-3 2-6 0-5 3-5 1-11 7-2 0-2-3-1 1-3 0 1-2 6-3 0-1 5 0 5-3 4-4 6-3 1 1 3 0 6-3 9-1 13-7 6-1 4-3-4 0-12 4-8 0 4-5 0-3-4 2-6-1-6 5 3 0 1 1-3 4-6 0 1-3-4 0-5 2-8 1-13 6-1-1 3-4 0-4-5-1 1-2-2-2-7-2 2-3 5-3 0-2-3 0-3 2-4 0 6-4 0-1-5 0-7 5-6 1-1-1 0-3 1-1-9-5 1-6-4 0-5 2 0 1 2 0 0 1-6 4 1 2 7-1-4 4-1 3 5-2 5 0-4 5 0 2-5 4-2 0-4 4-8 3 1 2 4 0 4-3 8-1 1 1-2 2-10 4-4 0-9 6-4 0-4 3-2 0 0-1 4-1 0-1 4-3-1-1 0-3 6-7 3-1 6-7-1-1-4 0-12 6-1-2 3-2 0-3-3-1-12 5-2 0-1-2-3 0-9 7 1 2 5 0 1-1 1 1-1 1-6 2-9 8-3 0-4 2-4 0 3-3 5-1 3-3 2-7 4-4 3-5-1-2-3 0-1-1-8 1 0-1 8-2 3-3 2-4-1-1-5 1 0-2 5-4 12-3 1-2-2-1-1 1-12 2-6-5-2 0-1-2 2-2 4 0 1 1 10-5 4-1 4-3 4 0 5-3 4 0 1 2 4 0 4-3 10-3 5-6 5 0 1 1 6-1 3-2 1-3-5 0-2 1-1-2 5-5 4-2 8-1 2 2 2 0 5-4-1-1 2-2 6 1 1 1-1 2 2 1 4-2 1-3 4-3 1 0 0 4 3 1 2 4-4 3-5 0-7 5-1 0 3-4-3 0-6 5 1 3-2 3-10 5 0-4 9-6-6-2-4 0-7 3-1 2 2 0 1 2-6 4-1 0 0-2-5 0-8 3-2 2 1 1-4 4 1 2 5 0-1 5 6-2 3-3-2-2-2 0 7-5 3 2 0 6 4-2 2-4 5-4-1 3 1 3 6-2 3-3 2-5 2-2 3-1 7-6 6-3 2 1-1 4 2 0 4-3-1-4 2-2 7-3 3 0 1 3-7 6-2 5 5-1 7-7 15-9 3-1 3 1-3 2-1 3 3 1 5-3 7-2 7-4 3-3 3 0 1-1 1 1-4 2-2 2 0 3-3 2 1 2 5-3 12-2 1 2-2 3 7 0zM249 153l-7 2-3 2-1 2 5 0 4-2 2-2zM257 165l-9-1-5 2-5 4 2 1 7-3 6 0zM285 145l-4-1-1-1 1-1-7 0-16 8 0 2 1 1 6 0 1-1 7 0 4-2 3 0-2 2 2 0 3-2 2-3zM266 182l-4 0-5 4 7-1zM138 134l-2-1-8 4-3-1-5 3 2 1 4-2 6 0 3-1zM151 133l-3 0-4 3 2 1 4-2zM191 135l-1-1-6 3-5 0-4 3-4 0-6 3-3 0-2-2-2 1-12 0-4 5 3 4 4 0 1 3 11-7 6 0 7-5 10-1 7-4zM216 117l-1-1-6 3-2 3 4 0zM224 127l-2 0-2 3zM228 128l1 1 4-3-3-1-2 1zM253 112l-6 2-5 4 0 1 4 0 1 1-2 3 3 1 6-3-1-2-3 0 4-5zM265 166l-2 0-1 2zM271 157l-4 1-2 3zM130 151l-2-1-1 3 2 0zM134 144l-2 0-3 2 2 0zM157 160l-7 1-2 1-1 2 6 1zM216 127l-1 0-2-3-5 1-10 7-10 12 3 0 6-4-1-3 3-3 8-3 4 0 4-2zM222 143l-7 1-2 2 0 2 2 1zM234 137l-4 0-8 5 1 1 1-1 7-1zM273 168l-3 0-2 2 1 1zM153 165l-5 4 3 0 2-2zM210 134l-8 4 1 2 3-1 4-3zM218 159l-3 1-4 3-1 2 4-1zM231 153l-3-1-5 3 3 0zM234 154l-3-1 0 3 2 0zM228 163l-4 2 2 1 2-1zM163 93l0 1-4 3-3-1 2-3zM272 94l-3 2-3 0 4-3zM173 96l0 1-3 2-3-1 3-2zM138 98l1 1-2 3 0 2-8 8-5 3-2 0-1-1 2-4-1-2 11-8zM174 102l0 1-5 2-3 3-4 2-2-1 3-4zM363 104l0-1 2-1 3 0-2 2zM149 104l-4 4-4 2-1-1 5-5 2-1zM77 106l-1 2-4 1 1-2zM108 109l1-2 2-1 1 1-3 3zM13 109l-2 2-2 0 2-2zM299 112l-1 2-3 2 0-1zM307 112l-2 3-2-1 2-2zM35 114l2-1 9 0-4 3-6 0zM104 115l0 2-3 3-5 2-2-1 0-2 2-2 5-2zM85 119l2-3 3 1-3 2zM141 117l-4 3-8 1 6-4 3 0 1-1zM127 122l-2 3-9 3-2 2-13 6 3-5-1-1-1 1-3 0 0-1 9-8 9-2 4-2 2 0 1 3zM26 120l-4 5-3 2-2 0 4-6 3-2zM308 120l0 2-2 2-5 2-3 0 0-2 2-2zM290 123l3-2 3 1-1 1zM357 125l-3 4-4 0 4-5zM49 124l0 5-12 6-3 0 4-4 3-1 4-4zM71 128l-4 3-5 0 0-1 6-3zM320 129l0 3-3 3-4-1 2-3zM317 136l-1 3 1 3-3 4 0 2 2 2-1 2-9 5-5 1 0-1-1 0 0-3 2-2-2-3 4-4 6-3 2-4 3-2zM339 141l-8 4-6 5 8 0-4 5-8 4-2 0 1-1-1-2-5 1 1-4 7-3-2-3 3-3 5 0 8-4zM361 143l-4 4-9 4-2-1 6-5 6-3zM25 145l0 1-4 1 2-2zM31 150l4-3 1 1-2 2zM368 153l0 1-7 6-7-1-8 4 1-4 7-6 4-2 6-1zM33 152l1 3-2 2-4 1-1-2 3-3zM337 155l1-2 3-1-1 2zM93 157l-4 3-4 0 0-1 3-2 3 0 1-1zM372 160l3-2 1 1-2 2zM321 165l0 1-8 3-5 0-2-1 7-5zM364 168l0 1-2 1 0-1zM352 170l0 2-4 3-3-1 2-3zM369 171l-2 3-11 6-6 0 0-2 2-2 9-5 4 0 1-1zM135 175l-3 3-5 1 3-4 2-1zM79 177l5-3-2 3zM341 177l-1 2-4 0-1-1zM310 184l0-3 3-3 9 0-1 2-8 4zM134 183l0-2 4-3 5 1 0 1-5 4-3 0zM69 184l-2 0-6 7-2 1-5 0 0-1 5-4 7-3zM94 186l1-1 4 0-2 2zM200 188l-5 4 0 1 4 1-6 5-6 2 0-2 7-6 0-2-3 0 0-2 5-3 2 2zM70 189l1-2 4-1-1 2zM80 187l1 2-5 3-1-1zM336 187l-4 3-17 5-8 5-1-1 19-13 3 1 6 0 1-1zM164 191l1-2 2 0 0 1zM225 192l-5 4-2 0-7 4-6 0 0-1 3-2 6-1 10-5zM128 193l-6 4 4-5zM149 195l0 1-5 4-11 1 4-5zM117 197l1 3-1 2-3 2-5 0 1-4 3-3zM352 197l-4 3-3 0-1 1-4 0-1-1 3-2zM272 200l-1 2-4 2-2-1 0-1 3-2zM262 202l-4 3-1-1 2-2zM319 202l-3 4 1 6-7 6 0 3-4 3-6-2 0-1 7-5 1-6 6-6zM365 204l3-1-1 2zM278 205l-5 5-4 1 4-5 4-2zM286 209l0-2 2-2 3 1-1 3zM58 214l2-5 6 0-3 4zM116 213l-10 8-3 0-1-1 2-3 8-5 3 0zM358 215l-2 2-2 0 0-1zM17 220l0 1-6 3-3 0 2-2-5 2-3-1 0-1 5-4 6-3 1 2-3 4zM175 219l5-3-2 3-2 1zM275 217l-5 4-4 1-2 2-5 2 1-5-3 2-3 0 3-3 8 1 4-3 2 0 3-2zM45 220l3-2-1 2zM271 223l-2 3-2 0zM198 229l0-1 2-1 0 1zM256 228l1 2-1 4-6 2-4 0-1-1 1-2 5-4zM35 229l-4 4-3 0 4-4zM105 229l-4 3-4 0 4-3zM337 233l0-1 5-2 3 1-3 2zM68 233l-3 3-7 0-8 4-3-1 0-2 2-2 10-4zM181 232l0 2-4 1zM87 236l2-2 0 1zM268 237l2-2 3 0-3 2zM19 236l-8 4-3-1 3-2zM302 238l-2 2-4 1 5-4zM66 241l0 2-5 4-2-1-5 0-1-2 8-5zM350 242l0-1 2-1 1 1zM23 245l3-2 3 0 1 1 3 0 1 2 3 1-4 2-5 0-5-3zM52 244l1 1-1 0-2 3 3 0-3 3 0 3-3 3-8 4-2 0-1-2 4-5 9-3 1-2-9 1-1-1 1-2 7-3zM261 245l-3 4-7 4 6-7zM0 249l4 2 0 1-4 2zM287 254l4-2-1 2zM16 254l-1 3-2 1-3 0-1-1 3-3zM239 256l4-3 2 1-4 3zM51 258l0 1-4 2-2-1 2-2zM114 258l0 2-2 2-3 0-1-1 3-3zM214 261l-4 5-2 0 3-4zM64 273l0-1 4-3 6-2 2 1 6 0-1 2-4 2zM305 276l-2 3-2 0 2-3zM340 276l-5 6-2 1-2-1 2-3zM387 278l0-1 4-1 0 2-2 1zM191 293l2-3 3 1-2 2z"/>
<path fill="#96c81e" fill-rule="evenodd"  d="M113 51l5-3 3 1-3 2zM213 50l0 1-3 2-2-1 2-2zM320 57l-7 5-3-2 1-2 5-3 3 0zM252 57l0 1-2 1-3 0 3-2zM98 60l4-3 4 1-3 4-4 0zM129 60l-3 4-3 0 1-3 4-2zM226 62l0 1-6 5 6 0 1-1 1 1-4 4-3 1-6-2 6-7zM64 66l1-2 2-1 1 1-2 2zM134 64l0 1-3 2 0-1zM182 70l3-2 6 0 2 2 0 2-3 2-3-3-4 0zM368 79l0-1 2-1 3 0-2 2zM9 81l0 1-3 2-3-1 2-2zM307 86l0 2-3-1zM13 87l-1 3-11 3 4-5zM300 88l-4 2-5 0 5-3 3 0zM98 88l-1 2-6 1-1-1 4-2zM162 88l-1 3-3 2-5-1 2-3 4-2zM169 89l3-2-1 2zM113 89l-3 3-2 0 3-3zM39 89l2 4-6 4-4 0 0-2 4-4zM51 92l-2 2-4 0 3-2zM303 104l-5 3-8-1-7 2-3 2-10 13 1 3-2 2 1 2 4 0-1 1-4 0-8 3-7 0-2-2 0-2 3-2 0-1-1 0-4 3-7 2-4 5 0 2 2 1-1 2-4 3 5 0 2 1 4-2 6 0 5-2 3-3 2 0 1 2 2 0 7-3 3-4 4 0 1 1 6-1 3-3-4-2 4-2 11 4 1 2-1 2-4 4-4 2-2 3 1 4-2 4-3 3-3 0-2 2 3 1-7 7 3 1 2-1 5-6 6-2 6 3 10 0-13 9 4 2-3 2-2 0-3 3 0 5 1 2-7 3-2 2 1 1 2-1 3 0 1 1 13-1-3 5-4 4-3 1-2-1-17 1-2-5 4-5-1-2-10 4-2 3-6 2-6 5-10 5-6 0-1-1 2-2 10-4 4-7-6 2-5 0-3 2-5 1-9 6-5 2-2-1 0-2-5 1 5-4 9-3 11-8 7 0 5-3 5 0 6-2 0 1-3 3 5 0 5-3-2-2-3 0 10-5 5-1 4-2 0-1-5 0-4 2-4 0-3 2-7 0 4-7 5-4-3 0-5 4-5 0-1-1 5-3-3-1-8 0-10 6 0 1 4 0 3-2 4 0 1-1 3 1-3 1-5 4 4 0 1 1-4 4-4 0-1-1 2-3-2 0-9 3-4 0-14 6-2 0 3-7-3-2-2 0 0-3-9-3 1-2 4-2 3-4-4 0-6 2 6-5-6 0-8 5-5 1-1-1 1-4-9-5 1-2 0-4-1-1-9 3-1 1 2 1-3 2-2 3 1 1 7-1-4 5-1 3 7-3 4 0 0 1-4 4-2 4-7 3-3 3-4 1-4 3 2 2 2 0 7-4 7-1 1 1-9 5-7 1-9 6-5 0 1 0 2-3-1-3 3-5 6-4 6-7 0-1-7 0 2-2 0-2 4-4-2-1-8 3-11 0-2 2 1 1 1-1 8-1 2 2 4 0 0 1-4 3 1 1 2-1-1 2-5 2-3 0 4-3-2-4-3 0-13 5-1-2-3 0-5 3-4 4 1 2 3 1 3-1-1 1-4 1-9 8-11 3 2-3 5-1 3-2 0-3 2-2 0-3 8-10-4-2-9 1 1-2 6-1 4-4 1-3-1-1-5 1 0-2 8-5 5 0 5-2-1-3-7 1-1 1-7 0-2-1-2-3-4-1 2-3 6 1 13-6 2-2 6-1 6-3 2 0 4 3 9-5 9-3 2-4 2-1 9 1 4-2 1 2 3 0-6 5-1-3-12 3-3 2 0 3-3 4 6 2 0 2-2 3 10-5 0-2-3-1 0-1 4-3 4 0 1 1-1 6 4-1 7-8-1 4 1 1 4 0 6-5 3-6 7-4 4-4 7-3 0 4-1 1 1 1 6-4 0-4 3-3 2 0 3-2 2 0 2 3-8 7-1 3 1 2 3-1 11-10 12-7 5 0-3 3 0 3 4 0 7-4 9-3 6-5 3 0-5 4 0 3-4 3 1 1 2 0 5-3 12-1-2 4 7 0zM250 154l-1-1-3 0-6 3-3 3 9-1zM286 145l-1-1-3 0-2-3-7 1-15 8 0 3 15-1 5-2-1 3-7 4-2 0-3 4 16-9 5-5zM254 187l-2 2 0 2 0-1 3-2zM138 133l-3 0-5 3-6 0-2 1-2 3 15-3 3-2zM152 133l-4 0-4 2 0 2 3 0zM216 116l-6 2-3 4 1 1 3-1 4-3zM233 125l-12 2-2 3 4-1 3-2 0-1 1 0 1 3 2 0 3-2zM254 112l-3 0-6 3-4 4 6 1-3 3 1 1 4 0 4-2 1 2 3-1 0-1-3 0 0-2-4-2 4-4zM274 168l-1-1-6 3 2 1zM135 143l-4 1-3 2 1 2zM216 127l-2-3-4 0-17 12-1 0-1-2-2 0-3 2-7 1-3 2-12 4-2 0-2-2-3 1-8 0-1-1-6 4 2 6 5 0 0 3-5 4 3-1 12-9 8-1 7-5 8 0 3-1 7-5 0 3-5 4 0 1 4 0 7-5-1-1 1-3 10-4 4 0 2-1zM234 137l-1-1-3 1-10 6-5-1-3 6 3 1 5-5 4-2 1 1 6-2zM130 150l-2-1-2 4 3 0zM211 134l-3 0-7 5 3 1 4-2zM221 157l-9 5-2 3 1 1 2-1zM234 153l-6-1-7 4 1 1 3-2 5-1 1 1-2 4 1 0 4-4zM224 166l3 0 2-2-3-1zM157 97l0-2 2-2 3 0 1 1zM271 94l-4 2 0-1zM222 102l0 2-2 2-3 0-5 2-4-1-8 6-7 0-3-2-9 4 0-3-1-1-1 1-6 0 5-6 7-3 5 0 1 2 3 0 5-3 0-3 2-1 1 1 4 0 1 1-1 3 3 0 5-4 0-2 4-1 0 3zM168 98l3-2 2 1-1 1zM139 99l-2 3 0 2-8 8-7 3 0-3 2-3-1-2 4-2 8-6zM363 103l5-1-3 2zM173 103l-3 1-6 5-3 0-1-1 6-4zM148 103l0 2-3 3-4 1 4-5zM77 107l-3 2-2-1 3-2zM111 107l-1 2-2 0 1-2zM35 115l2-2 8 0 0 1-4 2-5 0zM303 114l3-2 1 1-1 1zM201 115l-4 5-5 3-2 0-1-3 2-2 8-4zM104 116l-3 4-2 1-5 0 1-3 6-3zM85 118l1-1 3 0 0 1-3 1zM141 117l-7 4-3 0 2-3 7-2zM126 122l-3 4-5 1-15 8-2 0 2-1 1-4-4 0 7-7 14-5 2 0 1 3zM25 120l0 2-5 4-2 0 5-6zM308 121l-4 4-3 0-1 1-2-1 1-2 4-2zM49 125l-2 5-6 2-2 2-3 1-1-1 2-2 5-2 5-5zM357 125l-3 4-4 0 4-5zM70 128l0 1-4 2-3 0-1-1 6-3zM320 131l-3 3-3 0 3-4zM316 136l0 8-2 2 1 6-10 5-4 0-1-2 2-4-1 0-1-2 4-4 6-3 1-2zM338 140l-2 3-4 1-7 6 1 1 7-1-3 4-9 5-1-3-3 0-1 1-2-1 3-4 2 0 4-3-3-2 3-3 6 0 7-4zM361 143l-4 4-7 3-3 0 0-1 5-4 7-3zM36 148l-3 2-1-1zM367 153l-1 3-6 4-7-1-6 4-1-1 1-3 9-7 8-2 1 2zM34 154l0 1-4 3-3-1 0-1 4-3zM337 154l3-2 1 1-1 1zM93 157l-5 3-3 0 0-1 7-3zM307 168l1-2 5-3 2 0 2 2 4 0-2 2-7 2zM352 171l-1 2-5 2 0-2 3-3zM369 171l0 1-5 4-8 4-5 0-1-1 1-2 8-5 3 0 5-2zM84 175l-4 2 1-2 2-1zM135 175l-2 2-5 2 0-2 2-2 3-1zM321 178l-2 3-2 0-5 3-2-1 0-2 4-3zM336 178l2-1 3 1-1 1-3 0zM134 182l1-2 3-2 4 1 0 2-4 3-2 0zM66 185l-5 6-2 1-5 0 5-5zM94 186l1-1 3 0 0 1-2 1zM70 188l5-1-3 2zM196 187l-1 2-4 1 1-2zM335 187l0 1-6 3-2 0-3 2-7 1-9 5 0-1 6-5 12-7 1 1zM81 188l-1 2-4 1 2-3 2-1zM224 192l-2 2-6 2-6 4-4 0 0-1 3-2 3 0 10-5zM127 193l0 1-4 2 2-3zM199 194l-6 5-4 2-2-1 0-1 7-6zM148 195l0 2-4 3-5 0-1 1-4 0-1-1 5-4zM115 197l2 4-4 3-3 0 0-4zM351 197l-4 3-7 1 2-3zM272 200l-3 3-4 0 0-1 3-2zM260 202l-1 2-2 0zM319 203l-4 4 2 5-7 6-1 4-3 2-5-2 2-3 4-2 2-5-1-2 8-7zM278 205l-8 6-1-1 4-4zM286 208l2-2 3 1-2 2zM65 209l-1 3-3 2-2 0 2-5zM116 213l-7 6-4 2-3-1 1-2 9-6 3 0zM14 216l-5 6-5 2-2-1 7-6zM179 216l1 1-4 3-1-1zM274 217l-3 3-10 5-2 0 2-3 4-1 7-4zM16 221l-6 3 2-3zM255 223l1-2 3-1-1 2zM271 224l-2 2-2 0 2-2zM256 228l0 3 1 1-2 2-6 2-3 0-1-1 1-2 4-3zM35 229l-3 3-4 1 3-3zM104 229l-1 2-5 1 0-1zM337 233l2-2 3 0 1-1 2 1-3 2zM68 233l-4 3-6 0-6 3-4 0 0-2 3-3 8-3zM181 233l-2 2-2 0 2-2zM272 235l-2 2-1-1zM18 236l-8 4-1-1 3-2zM301 238l-1 2-4 1zM66 242l0 1-4 3-7 0-1-1 2-3 4-2 3 0zM24 245l4-2 1 1 3 0 2 3 2 0-4 2-3 0-5-3zM52 245l-5 4-6 1 0-2 4-3 6-1zM261 246l-6 5-4 1 6-6 3-1zM0 249l3 2 0 1-3 2zM50 253l-3 4-8 4-3-1 4-6 6-2 3 0zM291 253l-1 1-3 0zM16 254l-3 4-3-1 2-3zM243 253l1 2-4 2-1-1zM50 258l-1 2-3 0 0-1zM114 259l-2 3-3 0-1-1 4-3zM213 262l-2 3-2 1-1-1 3-3zM64 272l7-4 11 0 0 1-6 3-3 0-1-1-5 2zM302 279l-1-1 3-2zM340 277l-4 4-4 2-1-2 8-5zM387 278l3-2 1 1-3 2zM191 293l0-1 3-2 2 1-3 2z"/>
<path fill="#28aa3c" fill-rule="evenodd"  d="M114 51l0-1 5-2 1 1-3 2zM213 51l-4 1 0-1 2-1zM320 56l-6 5-3 0 0-2 2-2 4-2zM251 57l0 1-2 1 0-1zM98 61l1-2 4-2 3 2-4 3-3 0zM129 60l-2 3-2 1-2-1 1-2zM226 63l-6 4 3-4zM65 65l2-1 0 1zM228 68l-4 4-8-1 0-1 3-2zM183 69l7-1 2 1 1 2-3 2-2-2-5 0zM8 81l-2 3-3-1 3-2zM13 87l0 1-4 3-8 1 7-5zM97 88l-1 2-5 1 1-2zM162 89l-3 3-5 0 0-1 4-3 3 0zM291 90l6-3 2 1-3 2zM39 90l1 4-6 3-3-1 6-6zM109 92l0-1 3-2 0 1zM50 92l0 1-4 1zM284 92l0 1-4 3 0-2zM157 96l2-2 3 0-2 2zM302 103l-2 3-3 0-1 1-2-1-5 0-8 3-4 4-5 8-4 3 2 1-1 3 1 3-10 3-5 0-2-2 0-2 3-3-2-1-3 3-8 3-5 6 2 3-3 3-3 1 0 1 3 0 1-1 6 1 4-2 6 0 3-1 5-4 0 2 5 0 5-2 4-5 3 0 1 1 5 0 2-1 4-4-1-1-3 0 2-1 11 3 1 1 0 3-11 9 2 4-4 6-6 2 1 4-5 4-1 2 5 0 6-7 3-1 5 0 4 3 2-1 7 0-5 5-7 4 3 2-7 4-1 2 1 6-3 2-2 0-3 3 0 1 8 0 1 1 10-2 1 1-6 7-2 1-7-1-4 2-9 0-2-3 0-3 3-4 0-2-2 0-8 3-4 4-7 3-6 5-6 3-7 1-2-1 6-4 5-1 5-8 4-4 6-1 4-2 1-2-1-1-3 0 1 0 0-1 8-4 3 0 5-2 2-2-1-1-6 2-4 0-7 3-5 0-1-1 4-4 0-2 5-3 1-2-2 0-9 5-2 0-1-1 4-3-7-2-7 2-8 6 3 1 6-3 5 0-6 5-21 5-11 5 0-2 2-3 0-3-4-1-2-4-7-2 7-8-1-1-1 1-7 1 7-5-9 1-5 4-6 2-2-1 1-5-2 0-6-4 0-4 1-1-1-2-12 3 0 1-1 0 1 3-1 0-2 3 4 2 1-1 3 0-6 8 10-4 3 1-8 9-4 1-5 4-7 3 1 3 4 0 7-4 6 0-6 4-8 1-7 5-6 2 1-3-1-3 4-6 4-2 8-9-2-1-5 1 2-5 4-4-4 0-5 2-9 0 2-2 2 0 11-9 4-2 6 0 9-6 8 0 7-4 2 0 0 1-5 4 1 2 4-1 6-5-1-1 1-3 11-4 2 1 6-4-3-4-5 0-15 11-6-1-3 2-8 1-2 2-5 1-6 3-3-1 0-2 9-4 3-3 0-1-3-2 4-3 3 1 0 5-1 1 1 1 2 0 6-5 5 1 4-2 5-5 1-3 11-9 6-3 2 0-1 5 2 0 6-5-1-3 2-2 7-3 2 1 0 3-6 4-2 4 0 3 6-2 2-3 6-5 14-8 3 0-2 2 0 4 1 1 20-9 2 0 1 2-4 4 1 2 5-3 7-1 1-1 5 0-1 5zM250 153l-7 1-6 5 1 1 8-2zM287 145l-1-1-3 0-2-3-5 0-9 3-2 2-5 2-3 4 2 2 2 0 1-1 13-1 2-1 0 1-4 3-7 3-2 2 0 1 2 0 14-8zM211 133l-7 3-3 3 1 1 5-1 4-4zM217 116l-3 0-4 2-4 4 1 1 3 0 3-2zM233 125l-1-1-2 1-5 0-6 3-1 2 4 0 2-2 7 1 2-2zM255 113l-1-1-4 0-9 6 1 2 3 0 0 1-7 6 6-3 6 0 1-1 4 2 3-3-7-4zM276 167l-5 0-2 1-2 3 3 0zM234 136l-5 1-7 5-5 0-1-1-2 1-2 6 2 2 8-7 8-1 4-4zM235 153l-1-1-7 0-14 9-4 5 4-1 4-3 2-3 7-4 4 0-2 6 6-5zM229 163l-2-1-3 2 0 2 1 1 2-1zM170 98l0-1 2 0zM222 103l-1 2-2 1-12 1-8 6-5 0-3-2-2 0-7 3-1-3-3 1-4 0-1-1 4-4 9-4 3 0 3 3 6-3 3-4 4 0 2 5 7-4 0-2 2-2 2 1-1 2 3 1zM138 99l-2 6-9 8-5 1 0-2 2-2 0-3 8-6zM148 104l-2 3-4 2 1-3 3-2zM168 105l-5 4-2-1 0-1 3-2zM74 109l-1-1 3-2zM35 115l3-2 6 0 1 1-2 1zM104 116l-2 3-4 2-3 0-1-1 5-4 3-1zM200 116l-1 2-8 5-1-1 0-3 7-4zM140 117l-4 3-3 0-1 1-1-1 5-3zM182 118l0 1-4 3-1 0 0-2-4 0-7 3-3 0-3 3 0 2-3 4 3 2 4 0-3 6-6 2-8-1-6 5 3 5 4 0 1 2-4 4-10 6-1 2 6 0 1-1 3 0 0 1-2 0-11 5-4 0-1-2-2 0-10 8 0 2 3 1-10 9-6 2-4 0 0-1 4-2 3 0 2-2 0-2 2-3 0-3 8-9-1-2-7-2 4-2 3-5-1-2-3 0-1 1-1-1 6-5 8-1 1-1 3 0 1 1-2 4 2 1 3-3-1-3 6-5-1-1-6 3-6-1-1 1-10 1-5-4-3-1 0-2 2-1 6 1 7-4 4-1 4-3 6-1 5-3 2 0 2 2 0 2 2 0 7-5 10-3 3-4 3-2 2 1 7 0 1-1zM139 132l-4 1-5 3-7 0-4 4 11-1 6-2 3-2zM153 133l-1-1-7 2-2 3 4 0zM126 123l-3 3-7 1-3 3-9 4 1-3-1-1-3 0 5-6 9-4 9-1 0 3zM25 121l-4 4-2 0 3-4 2-1zM307 121l-2 3-6 1 2-3zM355 124l1 3-3 2-2 0-1-1zM48 126l-2 4-4 1-4 3-2 0 2-2 5-2 3-4zM187 127l0 1-2 1 0-1zM63 130l3-2 4 0-2 2zM319 131l0 1-3 2-2-1 2-2zM315 137l1 1-1 2 1 3-3 4 0 1 2 1 0 2-10 6-3 0-1-3 2-3-2-1 0-2 5-4 3-1 3-4zM338 141l-6 3-8 6-3-3 0-1 3-2 6 0 7-4zM360 143l0 1-5 4-2 0-3 2-3 0 7-6zM315 156l1-3 6-3 3 1 7-1-1 3-8 5-2 0 0-2zM366 153l0 2-4 4-3 1-3-2-9 4 1-4 9-6 7-1zM33 153l0 3-6 1 2-3zM92 157l-4 3-2-1zM107 164l0 1-2 1-2-1zM308 168l2-3 4-2 3 2 3 0-1 2-3 0-5 2zM150 165l-2 3-2 1-1-1 1-3zM143 172l1-1 4 0zM346 174l3-4 3 1-3 3zM369 171l-4 4-10 5-4 0 0-2 3-3 6-3zM134 175l-5 4-1-1 1-2zM248 175l0 1-4 3-3-1 0-1 4-3zM321 179l-7 4-3 0 0-3 4-2 5 0zM135 183l0-3 2-1 4 0 1 1-3 3-3 1zM260 183l-1 0-1 2-5 2-1 2-4 3-8 1-13 6-6 4-4 0 1-1 0-2-2 0 4-3 7-2 4-4 7-4 6 0 6-3zM239 190l-3 2 3-1zM64 186l-2 4-5 2-2-1 3-3zM74 187l-3 2 0-1zM335 187l-4 3-2 0-6 3-4 0-9 4 14-10zM80 188l0 1-3 2 0-1zM198 194l-7 6-4 0 1-2 5-4zM148 196l-5 4-9 1 0-2 4-3 7 0 1-1zM214 197l-5 3-3-1 4-2zM115 198l1 4-5 2-1-1 1-3 2-2zM340 200l2-2 6 0 1-1 1 1-3 2-4 0-1 1zM271 201l-3 2-2 0 0-1 3-2zM318 203l0 1-4 3 0-2zM276 206l-5 4 0-2 3-2zM287 209l1-3 3 1-2 2zM314 207l2 6-6 4 0 2-3 4-6-1 1-2 6-4 1-7 3-2zM64 210l-3 4-2-1 3-3zM115 213l-3 2-3 4-4 2-2-1 0-1 6-5 4-2zM14 216l-4 5-4 2-3 0 0-1 6-5zM180 217l-2 2-2 0 0-1zM273 218l-7 4 0-1 6-4zM16 221l-3 2-3 0 3-2zM265 222l-5 3 2-3 2-1zM104 229l-5 3 1-2zM256 229l0 4-1 1-9 2 0-2 4-4 4-2zM34 230l-3 2-2 0 4-3zM338 233l0-1 2-1 4 0-3 2zM67 234l-2 1-5 0-8 4-3 0-1-1 2-3 7-3 6 0zM15 237l-3 2-3 0zM65 242l0 2-3 2-7-1 0-2 5-3 3 0zM24 245l3-2 3 2 2 0 1 3-5 0zM51 245l0 1-4 3-4 0-1 1-1-1 1-2 7-3zM260 246l0 1-7 5-2 0 5-5zM0 250l3 2-3 1zM49 254l-6 5-5 2-1-1 0-2 4-4 7-2zM15 254l-1 3-4 0 1-2zM244 254l0 1-4 1 0-1zM46 260l3-2 1 1-1 1zM112 258l1 2-3 2-1-2zM213 262l-2 3-2 1-1-1zM65 272l2-2 5-2 10 0-6 4-3-1zM340 277l-4 4-4 1 3-4 4-2zM387 278l1-1 3 0-1 1zM191 292l1-1 3 0-1 1z"/>
<path fill="#14963c" fill-rule="evenodd"  d="M115 51l0-1 2-1 3 0zM319 56l-4 4-4 0 2-3zM99 61l2-3 4 0-1 3-2 1zM128 60l-2 3-2 0 2-3zM226 63l-5 3 1-2zM227 68l0 1-4 3-7-1 2-2zM183 70l1-1 7 0 1 3-2 1-2-2-4 0zM4 83l1-1 3 0-1 1zM13 88l-2 2-9 2 0-1 4-3 6-1zM293 89l5-1-4 2zM91 90l4-2 2 1-5 2zM155 91l0-1 6-2-1 3-2 1zM40 93l-4 3-4 0 0-1 6-5zM161 94l0 1-3 1 0-1zM304 189l-1 2-7 6-7-1-5 2-4 0-3-1-2-3 4-7-1-2-11 4-2 3-10 5-8 6-10 1 3-3 8-2 2-2 1-4 6-6 3 0 5-2 2-2-2-3 5-3 11-3 2-2-1-1-4 0-4 2-4 0-4 2-6 1-1-2 4-5 5-3 1-2-1-1-6 2-4 3-2 0 0-1 4-3-1-1-1 1-8-1-8 3-7 5 1 1 4 0 3-2 5-1 1 1-4 3-12 4-7 1-11 5-3 0 3-5 0-2-4-1-1-3-4-3-5 0 0-1 8-7-1-1-3 0-4 2 0-1 15-9-1-2 6-6 11-3 3-5-4 0-11 6-5-1-3 3 0 5 2 1 0 1-3 3-7 3-7 1-8 5-4 0 1-5-4-1-5-4 1-1 0-5-1-1-5 2-6 0 8-5 7 0 10-5 0 1-5 4 1 2 4 0 8-6-2-2 3-3 6-2 4 0-10 7 3 2 4-2 8-9 5 1 6-3 3 2 5-3-1-3-4 0 2-3-4 1-2 3-5 2-2 0-5-4-2 0-16 11-6-1-5 3-6 0 6-5 7 0 5-3 7-10 3-1 9-7 3-1-1 5-11 7 1 2 4 0 8-9 3-1 4-4-1-2 1-2 5-3 5 0 0 3-7 5 0 2-2 4 4 0 5-3 1-3 8-6 10-5 2 0-1 2 2 4 21-8 1 2-4 3 1 2 3 0 2-2 5-2 9-1-2 5 5 0 1-1 2 1-2 2-6 0 0-1-2 0-11 4-4 3-5 8-7 5 4 0 1 1-2 3 0 2-5 2-8 0-2-2 4-4-1-2 2-3-2-1-1-2-3-1 3-4 0-2-2-1-10 5-3 3 1 1 3 0 0 1-8 7-1 3 8-6 9-1 1 2-3 3-8 3-4 5 0 2 2 1-1 2-5 2-1 2 2 1 1-1 9 0 5-2 5 0 5-3 3 1 7-2 6-5 10 0 6-5 8 1 1 1-1 4-2 2-5 2-4 5-3-2-4 0 1-2-8 0-10 4-9 6 2 3 15-1 1-1 1 1-8 4-5 5 3 0 4-3 9-4 10-9 2 0 1 3-4 5-2 0-4 3 1 3-6 6-6 1-3 2-1 2 3 1 7-5 8-2 5-6 6-1 5 4 4-2 3 0 1 1-3 3-9 5 2 3-3 1-3 3 0 7-5 2-3 3 0 1 8 0 1 1zM251 153l-1-1-5 1-7 4-1 2 1 1 3 0 6-2zM235 152l-4 0-1-1-4 1-12 8-5 5 0 2 6-3 7-7 5-2 2 0 0 2-6 9 1 1 4-1 1-1 0-3-1 0 7-7zM194 154l-2 0-2 2 2 0zM236 167l-3 0-8 4 6-1zM138 99l-3 7-7 6-5 2 0-3 2-2 0-2 7-6zM221 101l0 3-1 1-7 2-5-1-8 6-3 1-5-2-4 0-3 2-3 0 0-2-8 1 0-2 7-5 8-1 2 2 3 0 7-6 5 0-1 2 1 2 4-1 6-4 0-1 0 1zM147 105l-3 3-1-1 2-2zM167 105l-1 2-4 1 1-2zM36 115l3-2 5 1-2 1zM103 116l-3 4-5 1 1-3 4-2zM199 116l-3 4-5 2-1-2 2-2 4-2zM140 117l-5 3-4 0 3-2zM161 123l1 0 4-5 3 0 1 1 6-1 0 1zM125 123l-1 2-2 1-5 0-2 1-1 2-8 4-1-3-3-1 6-6 12-4 3 0 0 3zM181 119l-3 2 1-2zM24 121l0 1-3 2 0-1zM307 121l-2 3-3 1-3-1 5-3zM161 123l-1 5-4 4 2 2 5 0-1 4-4 3-8 0-3-1-6 5 1 5 1 1 5 0 0 3-9 5-6 6 1 1 3 0 1-1 1 1-9 4-3 0 0-2-5 1-9 7 0 2 3 1 0 1-9 7-7 3-3 0 2-2 6-1 2-2 0-3 2-3 0-2 7-9 0-2-6-2 4-4 1-5-5 0 0-1 6-4 5 0 1-1 5 0-2 4 1 1 3 0 2-2-1-3 1-2 5-3 1-2-4 0-3 2-5-1-4 2-6 0-2 1-4-2-2-3-3-1 1-1 7 0 5-3 5-1 6-4 6-1 2-2 5 0-1 3-12 5-5 0-5 4 3 1 4-2 10-1 4-2 9-8zM153 132l-7 1-2 1-2 3 1 1 3 0 4-2zM356 125l-2 3-2 1-1-1 1-2zM69 128l-2 2-3 0 3-2zM177 129l-1 2 0 4 1 1-3 3-2 0-5 3-5 0 0-2 7-3 4-3 0-2-2-2 2-2 3 0zM315 138l0 4 1 1-3 4 2 3-1 2-7 4-5 0-1-1 2-4-2-1 0-2 10-6 1-2zM337 141l-6 3-6 5-4-2 0-1 3-2 6 0zM360 143l-2 3-8 4-2 0 3-4 6-3zM165 149l-5 3 3 0 1 1-3 4-8 3-8 0 0-1 15-11zM315 155l6-4 3 0 1 1 2-1 5 0-8 6-2 0-1-2-3 0-1 1zM364 151l1 4-4 4-6-1-7 3 0-2 9-7zM33 154l-2 3-3 0 2-3zM87 159l3-2 1 1zM176 163l-6 8-6 2-5 4-4 1-3 3 2 4-6 5-4 0 2-2-1-4 3-4 5-3 7-8 0-2-6 0 1-3 5-5 2-1 1 1 6 0-3 4-4 3 1 1 2 0 6-4 3 0 1-1zM308 167l4-3 7 1 0 1-5 2-5 0zM145 167l4-2-2 3zM351 171l-1 2-3 1 0-2zM368 171l-3 4-11 5-3-1 1-2 7-4zM134 175l-5 3 2-3zM248 175l-3 3-4 0 3-3zM141 181l-3 2-2 0-1-2 2-2 3 0zM171 179l-7 4-7 1 6-4zM311 182l2-3 6-1 1 1-7 4zM258 184l-4 2-7 6-4 0-9 3-13 8-3 0 2-5 7-3 3-3 7-4 6 0 6-3zM241 188l-4 2-2 2 0 2 4-2 2-2zM63 186l0 2-2 2-5 1 1-2zM334 188l-12 5-4 0-5 3 2-3 9-6 5 0 1 1 3-1zM197 195l-5 4-4 1 0-1 6-5zM148 196l-2 2-5 2-4 0-1 1-2-1 3-3 3-1zM207 199l1-1 4 0zM114 199l-1 1 1 0 1 2-1 1-3 0 2-4zM341 200l3-2 1 1 1-1 2 1zM266 202l4-2-1 2-2 1zM313 208l3 4-1 2-6 4 0 3-2 2-5-1 2-3 4-2 0-2 2-3 0-3zM63 211l-1 2-2 0zM114 213l0 1-3 1-4 5-4 0 0-1 5-4zM13 216l-4 5-4 2-2-1 5-4zM255 229l1 3-2 2-8 1 3-4 3-2zM99 231l4-2 0 1zM339 233l0-1 2-1 3 0zM66 234l-6 1-10 4-1-1 2-3 7-3 4 0zM55 244l6-4 4 3-2 2-7 0zM25 245l2-1 3 1 1 2-3 0zM50 245l-2 3-7 1 3-3zM259 246l-2 3-4 2zM0 250l2 2-2 1zM48 253l0 2-8 5-3 0 3-5 5-2zM243 254l-1 2-2 0zM11 257l1-2 2-1 1 1-2 2zM110 260l3-1-1 2-2 0zM81 268l0 1-3 2-6-1-4 2-3 0 8-4 3 1zM339 277l0 1-6 4-1-1 2-2z"/>
<path fill="#fff01e" fill-rule="evenodd"  d="M312 59l5-3-2 3-2 1zM105 59l0 1-5 2-1-2 3-2zM226 69l-3 3-2 0-3-2 7-2zM3 91l4-3 3-1 2 1 0 1-4 2zM92 90l1-1 3 0-1 1zM160 89l-1 2-3 0 2-2zM39 93l-2 2-4 1 3-4zM295 100l-3 5-8 2-5 3-11 13-6 3 6 1-1 4-5 2-6 0-1-1 0-2 3-3-1-3 2-2 0-1-4-3-3-1 4-4-1-2-6 1-6 4-3 3 0 1 3 1-7 5-3 5 3 1 2-3 4-3 7 0 1-1 2 1 0 1-4 3-5 1-3 2-3 5 1 3-1 1-4 0-2 4 1 1 21-2 7-3 8-1 5-2 4-4 2 1 8-1 6-5 5 1 3 2-4 5-5 2-2 2-2 0-1-2-12 1-1 1-3 0-16 9 3 4 7-1 1-1 4 0 1 1-6 4-5 5-3 0-1 1-2-1-5 0-1 1-3 0-6 4-3 0 2-2-5 0-14 7-2 2-4 0-3-2-2-3 0-2 6-3 6-6 5-3 4 0-7 10 1 1 4 0 3-3 0-3 6-6-1-3-2-1-5 0-11 6-5 4-6 7-2 1-3-1 6-4 5-6-7 1 11-6 2-2-1-2 3-4 4-2 4 0 5-2 4-6-1-1-14 7-3-1-5 1-3 4 1 6-3 3-7 3-6 1-7 5-4 0 1-4 3-2 5-1 6-7-2 0-11 8-4 0-5-4 1-6-1-1-9 1 6-4 7 0 5-3 2 0-4 4 2 2 5-1 6-5 3 0 1 1 4-1 9-8 4 0 5-3 6 1 5-3 0-2-4-2 1-2-1-1-2 0-7 6-6 0-1-2-3-2 8-8 4-2 3-3-1-3 6-4 3 0 1 2-7 6-3 6 2 1 9-4 2-2-1-1 9-7 6-3 2 0 2 5 3 0 5-3 9-3 4 0-3 3 2 3 11-5 5 0 1-1zM251 152l-4 0-8 4-3 3 1 1 8-1 6-5zM137 100l-1 4-8 8-5 1 1-3 7-8 3-2zM220 101l0 2-4 3-10 0-7 6-6 0-2-3-4 3-4 0 0-2-9 1 1-2 10-5 3 0 3 4 11-8 3 1-1 2 1 2 2 0 8-5 4 0zM296 105l5-1-3 2zM218 111l-4 5-5 2-4 4 0 1 3 1-3 3-9 6-4 0-1-1 9-8 1-3 4-4 3-1 4-4 4-2zM95 120l3-3 3-1 2 1-4 3zM197 117l0 1-4 3-2-1 2-2zM133 120l0-1 5-2-1 2zM123 120l0 3 1 1-1 1-6 0-7 6-3 1-3-4 2-3 5-3 9-3zM164 121l2-2 5 1-5 2zM306 121l-2 3-3 1-1-1 2-2 3 0zM159 125l0 3-3 3-4 0-6 2 0-2 4-4 5-2zM351 128l3-3 2 1-2 2zM163 136l-6 5-6 0-2-2-3 1-6 7 3 5 5 0-3 4-7 3-7 7 5 0 0 1-6 3-2 0 1-3 1 0-5 0-13 10 0 1 3 2-6 5-2-1 3-5-1-2 8-10 0-1-6-2 5-8-1-2-4 1 0-1 3-3 11-2 1 1-1 4 3 1 4-3-1-4 8-7-1-1-7 3-7 0-5 2-5 0-5-2 1-3 8-4 5-1 2-2 4-2 3 0 5-3 3 0-1 3-9 4-6 0-7 6 5 0 1-1 4 0 1-1 4 0 6-2 3 0 0 1 2 1 1-1 3 0 8-5 1 1 6 0zM134 157l3 0 0-1zM188 132l0 1-6 3-2-1 4-3zM208 132l0 1-7 5-3-1 1-2zM175 135l0 2-2 2-7 3-4 0 0-1 4-3 8-4zM314 141l1 3-3 3 2 4-5 4-6 1-1-2 2-2 0-2-3-1 4-4 5-2 2-2zM359 144l-7 5-3 1-1-1 7-5 3-1zM322 146l7-2 1 1-4 3-2 0zM307 161l-5 5-7 3 2 3-5 4-1 6-8 7 2 1 2-1 3 0 1 1 12-1-6 7-6-1-4 2-10 0-1-1 0-4 4-6 0-1-3 0-3 2-3 0-5 2-3 4-7 3-4 4-8 4-6 0 1-2 4-2 6-1 1-1 0-3 6-7 11-4 1-1-2-3 1-1 10-4 3 0 4-3 0-1-3-1-8 3-5 0-3 2-5 0 0-1 4-3 0-2 6-5 0-1-8 1 15-8 6-4 5-5 3 1-4 5-5 2-2 2 1 4-5 4-4 1-8 5 6 1 8-5 5-1 5-6 6-2 3 4zM160 150l-2 3 3 1 0 1-3 3-6 2-4 0-1-1 6-6 6-4zM331 151l-2 3-4 2-9-1 1-2 3-1zM364 152l0 3-3 3-4-1-6 3-3 0 2-3 6-4 5-2zM30 157l-1-1 3-2zM166 161l-1 2-4 3-3 1-3-1 1-3 5-4 2 0zM175 163l-5 8-7 2-2 2-7 3-3 3 1 5-3 3-3 1 1-3-2-2 1-2 5-5 4-2 5-7 4-1 8-5zM309 167l2-2 7 1-5 2-3 0zM248 170l-4 3-3 0-6 3-10 2-6 3-5 1 6-7 5-3 7-1 7 2 5-3zM367 171l0 2-11 6-4 0 3-4zM129 177l3-2 1 1-3 2zM243 178l1-2 2-1 1 1zM312 182l0-2 2-1 5 0-5 3zM136 181l1-1 3 0-1 2zM169 179l0 1-3 2-3 0-1 1-1-1 3-2zM251 186l-1 4-4 2-8 1 6-5 4-2zM62 188l-4 3-1-1 2-2zM102 188l0 1-3 1 1-2zM316 193l9-6 7 1-7 4zM238 189l-1 0-8 9-9 5-1-1 2-4 5-2 6-5zM196 195l-4 4-2 1-2-1 5-4zM146 196l0 1-3 2-8 1 0-1 3-2zM314 210l1 3-5 3-1-2 2-3zM109 216l-3 4-2 0 0-2 3-2zM13 217l-4 4-5 1 4-4zM308 219l-1 3-4-1 2-2zM255 230l0 2-2 2-6 1 0-2 6-4zM62 233l-1 2-10 3 0-2 8-4zM62 241l-1 3-4 0 2-3zM49 245l0 2-5 2-2-1 5-3zM47 254l-2 3-4 2-3 0 4-5zM73 269l-4 2 0-1zM76 270l1-1 3 0-3 2zM338 278l-5 3 0-1 3-2z"/>
<path fill="#ffbe14" fill-rule="evenodd"  d="M100 60l1-1 3 0 0 1-2 1zM222 71l0-1 2-1 0 1zM11 88l-1 2-3 0-1 1-1-1 3-2zM136 100l0 2-3 5-6 5-3 0 9-11zM204 101l-1 7-3 3-5 1-2-2 1-3 6-5zM219 101l0 2-3 2-6 0 0-1 4-3zM294 100l0 2-3 3-5 1-6 3-12 13-6 3-4 0 2-4-2-3-5-1 5-5 8 0 20-11zM275 104l-2 3-4 2-5 0-4 2-9 0-4 2-9 7 0 1 2 1-3 2-3-1-2-4-13 7-3-1-2-3 3-5 8-6 3-1 0 3-3 4 7-1 8-4 2-2 0-2 4-4 6-3 4 2-1 2 1 1 6-2 3 1 6-4 2 0zM234 102l1 3-7 4-1-1 0-3 5-3zM186 106l-2 3-6 2-3-1 5-4 3 0 1-1zM216 111l0 2-3 3-9 6 0 2 2 1-4 4-5 3-3 0 0-2 7-6 1-4 2-2zM101 117l-1 2-3 0 2-2zM122 120l0 2-2 2-5 1-3 2-2 3-2 0-1-4 2-2 9-4zM158 126l-1 3-4 2-5 0 3-4 6-2zM249 128l-3 2-7 2 0-2 3-3 6 0zM257 132l0-2 2-2 7 0 0 2-2 2-6 1zM139 129l-1 2-6 2 0-1 6-4zM233 130l-1 1 1 3-2 2-6 3-11 1-5 6 2 5-7 5-7 1 1-2-1-2 6-5-5 0-11 8-5 0-3-5 3-7 4 3 4 0 8-6 4 1 6-3 6-5 10-4 2 1zM300 133l-1 3-5 3-8-1-4 2-9 1-9 4-4 3-2 0-5 3-7 1-9 5-2 3 7 0 8-3 3-4 2 0 1 2 12-1 0 1-9 8-11 0-5 2-8 0-18 9-5 0-3-4 3-4 12-9 3 0 0 1-6 8 3 2 4-1 3-3 1-4 1 0 4-5 0-3-1-1-7-1-4 3-9 4-1-2 5-5-1-3 3-3 8-1 0 5 2 1 3-2 17-1 7-3 11-2 8-5 8 0 7-5zM126 134l1-1 5 0zM207 133l0 1-3 2-5 1 2-3zM151 139l0-2 2-2 8 0 1 1-4 4-5 1zM120 136l-5 6-2 1-3-1 6-5zM173 136l-1 3-6 3-3-1 2-2 6-3zM133 140l-11 4-6 0 2-2 6-2zM144 140l-5 6 0 2 2 2-2 3-4 0-4 3 1 2 4 1 0 1-4 4-4 2-4 0-5 5-5 3 0-3 5-5-6-2 0-2 2-2 0-2 2-3-1-2-3 1 0-1 2-2 9-1 1 1-1 4 1 1 3 0 5-4-1-4 10-8zM313 142l1 2-3 4 3 3-6 4-4 0-1-1 3-4-4-2 5-4zM172 146l0-1 2-1 3 0 0 1-2 1zM358 144l-2 3-7 2 4-4zM287 150l-1 2-2 0zM330 152l-5 3-1-1 3-2zM363 153l-5 4-8 2 2-3 7-4 3 0zM140 155l0-2 6 0 0 1-3 2zM158 156l-5 3-3 0-1-1 6-5zM280 161l-5 4-4 0 1-2-1-1-3 0-1 1-1-1 10-5 3 0zM186 163l0-3 5-3 4 1-4 4zM305 162l-2 3-6 3-5 0 0-1-6 3-6 0-4 2-5 0 2-2 12-5 2-3 4-3 2 0 1 2 2 1 0 2 8-3zM163 162l-2 3-4 1 1-4 2-1zM173 163l1 1-3 3 0 2-5 3-1-2 2-3zM208 165l-3 3-3 0 3-3zM162 170l1 2-5 3 0-2zM294 171l1 1-4 4 0 4-9 10 16 0 1-1 3 1-6 5-6 0-4 2-6 0-3-2 0-3 5-7-1-1-3 0-5 3-2 0-1-1 1-3-4-3 4-3 8-1 5-2 2-2zM236 174l-3 2-6 1-6 3-4 0 8-7 9 0zM261 174l1-1 3 0-1 1zM366 173l-11 6-2-1 5-4 3 0 4-2zM112 180l1 1-4 3 0-2zM149 182l1 2-3 1-1-1zM267 186l-4 6-9 5-2 0-1-2 1-2 5-5 8-3zM249 188l-2 3-4 0 0-1 3-2zM329 189l-5 3-5 0 5-4 4 0zM232 193l-2 3-8 6-2-1 4-4zM144 197l-2 2-6 1 0-1 3-2zM193 197l-3 2 1-2zM252 198l-1 2-9 4-3-1 3-2 4 0zM311 214l1-2 2 1zM11 218l-5 3 3-3zM254 231l-2 3-3 1-2-1 5-4zM61 233l0 1-3 2-5 1 2-3zM48 246l-2 2-2 0 0-1zM45 255l0 1-3 2-3 0 2-3z"/>
<path fill="#ff960a" fill-rule="evenodd"  d="M293 101l-3 4-5 1-7 4-8 7-2 4-5 3-4 0 2-3-2-3 2-2 4-1 9-7 9-4 2-2zM134 101l1 1-3 2zM202 102l1 1-2 3 1 2-3 3-4 0-1-1 2-4zM212 104l1-2 3-1 2 1-2 2zM233 102l1 3-2 2-4 1-1-2zM261 106l-1 3-2 1-6 0-15 10-7-1-9 6-4 0-1-1 0-5 5-5 6-3 0 2-3 4 3 1 14-6 3-3 0-2 6-5 5 1-1 3 5 0 1-1zM274 105l-5 3-6 0 7-5 2 0zM132 105l0 2-4 4-3 0zM182 107l-1 2-4 1 2-3zM215 113l-4 4-7 4-1-1 11-8zM262 114l-5 3-2-1 0-1 3-2 3 0zM121 120l-1 3-9 2 0-1zM204 125l-1 3-5 3-2 0 4-5zM156 127l-2 3-3 0-1 1-1-1 4-3zM265 130l-3 2-3-1 1-2 4 0zM231 131l-1 2 1 2-3 2-2 0 1-2-3 0-5 4-7 0-4 7 2 5-7 5-4 0 0-4 7-5-6-1 3-4 17-10 3-1 3 1zM288 136l5-4 3 0 3 2 0 1-4 3-4 0zM200 136l2-2 3-1 1 1-5 3zM152 139l2-3 6-1 1 2-4 3-4 0zM172 138l-4 3-4 0 6-4zM286 137l-4 2-8 1-1 1 1-2 4-2zM118 138l-5 4-1-1 2-2zM126 141l-3 2-4 0 3-2zM200 143l-1 3-8 7-6 3-3-1-1-5 2-2 9-1 2-1 3-4zM268 142l-9 6-14 4-7 4 1-3-2-2-4-1 1-2 3-1 15 0 12-5zM228 143l1 1 0 5-3 3-9 4-1-1 6-6-2-1 0-1 3-3zM312 143l1 2-3 4 3 2-3 3-5 1-1-2 5-4-5 0-1-1 3-3zM357 145l-4 3-3 0 6-4zM138 145l0 4 1 1-2 2-2 0-2-4zM114 162l4-9 3-2 3 1-1 1 0 4 1 1 5-1 5 3-3 4-3 1-10 0-3-1zM361 153l-1 2-4 2-3 0 3-3zM154 155l1 2-3 1-1-1zM266 156l-6 6-3 1-6-1-5 2-9 0-4 2-3 0 4-5 10-1 12-4 3 1zM225 158l-1 4-4 4 2 2 3 0 0 1-10 5-3-1-2-4 10-9zM187 162l1-3 2-1 3 1 0 1-3 2zM278 159l1 2-4 3-2-1-1-3-1 1 0-1 3-1zM294 163l-1 2-5 3-7 1-4 2-4 0 5-3 7-2 5-6 2 0zM304 163l-6 4-4 0 5-4 3-1zM120 168l-2 3-3 1 3-4zM293 173l-3 4 0 3-5 4-1-1-5 0-6 3-1-2 2-2-5-2 1-2 9-1 10-5 3 0zM232 175l-12 4 5-5 6 0zM361 175l-3 2-3 0 3-2zM265 187l-6 7-5 2-2-2 3-4 8-4zM321 191l4-3 2 1 0 1-2 1zM301 190l-1 2-4 2-5 0-4 2-8 0-1-1 0-2 2-2 5 0 1-1 3 0 1 1zM137 199l1-1 3 0-1 1zM226 198l-2 2-2 0 2-2zM249 234l2-3 2 1zM59 234l-3 2-2 0 3-2z"/>
<path fill="#f06e0a" fill-rule="evenodd"  d="M292 102l-3 3-6 1-10 8-4 0 2-3 6-4 8-4zM234 104l-3 3-3-1 3-3zM254 104l-1 3-10 9-6 3-6-1-9 6-3 1-2-1 0-5 2-3 4-3 3-1 0 2-3 4 6 0 13-6 7-9 4 0zM201 104l-2 2 1 3-4 2-1-1 3-3 0-2zM266 107l2-2 4-1 0 2-5 2zM259 107l0 1-2 1-4 0 2-2zM267 115l1 1-1 5-6 3-1-1 2-3-2-2zM203 127l-5 3 2-3 2-1zM226 133l-6 5-4 1-2-2 7-5zM291 135l2-2 5 1-2 3-4 0zM160 137l-3 2-4 0 0-1 3-2 3 0zM166 141l1-2 2-1 1 1zM209 140l0 3-2 2-3 1-2-1 3-4zM266 143l-6 4-8 1-9 5-2 0-3-3-4-1 2-1 17 0 4-3zM227 144l1 1-1 1 1 3-3 3-6 3-1-1 5-5-2-3zM312 145l-4 3-3 0 0-1 4-3zM356 145l0 1-4 2 1-2zM134 148l3-1-1 2zM196 147l-3 4-7 4-2 0-2-2 2-3 4-2 3 0 4-2zM207 148l1 1 0 3-4 3-3 0 0-4zM312 152l-3 2-3 0-1-1 3-3 3 0zM115 163l2-4 0-3 2-3 2-1 2 1-1 1 0 5 6-1 5 3-4 3-12 0zM263 158l-4 4-20 1-4 2-4 0 5-4 5 0 10-3 10 0 1-1zM192 159l0 1-4 2-1-1 2-2zM223 159l1 1-5 7 5 2-7 4-3 0-3-4 7-7zM292 164l-6 4-4 0 8-5zM302 163l-1 2-4 2-1-1zM291 173l-2 7-2 2-12 1 1-3-6 0 1-2 3 0 1-1 4 1 8-5zM263 187l0 2-4 4-5 1 0-2 3-3zM279 195l0-2 4-2 7 0 1 1 6-2 3 1-3 2-3 0-9 3z"/>
<path fill="#e6141e" fill-rule="evenodd"  d="M233 104l0 1-4 1 0-1zM253 104l-4 5-3 1 0-2 3-4zM281 107l-6 5-3 0 6-5zM247 110l0 2-3 3-6 3-3 0-1-1 2-2zM225 113l-4 6 6 0 1-1 1 1-8 5-3 0-1-1 2-3 0-3zM265 117l1 3-4 3-1-1 2-2-1-2zM224 134l-6 4-2-1 0-1 4-3 3 0zM155 138l3-1 0 1-2 1zM205 144l1-2 1 1zM262 145l-4 1 1-1zM310 145l-2 2-1-1zM194 148l-2 3-5 3-3 0-1-1 4-4zM204 150l2 0-1 3-1 0-1-2zM226 150l-3 3-3 1 3-4 2-1zM240 150l1-1 4 1-1 1zM306 153l2-2 3 0-1 2zM118 156l3-2 0 2-2 3 1 1 9 0 2 1 0 1-2 1-11 0-1-1zM261 159l-4 3-6-1-4 2-6-1-8 3-1-1 6-3 7 0 5-2 5 0 1 1 1-1zM222 161l0 1-5 4 0 1 5 2 0 1-4 2-4 0-1-1 0-3 7-7zM290 174l-2 6-2 1-7 0-1-1 4-4 4-2zM262 188l-3 4-4 1 3-4zM298 191l-3 2-2-1zM280 194l2-2 3 0 1-1 5 2-4 2-5 0z"/>
</g></g>
<g fill="none" stroke="#6e6e6e" stroke-width="0.8" stroke-linejoin="round" clip-path="url(#clipc)">
<path d="M167.5 254.2 171.4 253 174.2 252.5 175.5 249.9 177.1 248.2 179.4 247.8 181.3 249 181.8 251.6 181.3 253.4 182.8 255.5 184.7 257.7 186.6 260.3 189.5 262 192.3 263.8 195.2 265.8 198 267.6 200.3 269.3 202.2 271.5 204.7 273.8 207.6 275.5 210.4 276.4 214.2 276.7 219 276.7 223.8 277.3 228.5 277.6 233.3 278.1 238 278.5 242.8 279 246.6 279 249.9 279 251.4 280.2 250.4 281.9 247.6 282.4 244.7 281.4 242.8 282.4 240 284.2 237.1 285.4 233.3 286.2 230.4 287.1 228.1 288.8 226.6 291.1 226.2 294 227.6 296.6 228.5 299.2 228.1 301.8 229.5 304.4 231.4 307 234.2 309.6 237.1 311.9 240.9 314.8 239.6 318.3 237.1 320.9 233.3 323.1 229.5 324.8 224.7 326 220.9 327.3 216.1 328.3 212.3 329 207.6 330 202.8 330.7 198 331.2 194.2 331.8 190.4 332.4 190 335.6 191.4 339 194.2 341.6 198 343.3 201.8 345.1 204.1 347.7 203.7 350.3 201.8 352.5 200.9 354.6 202.8 356.3 199 358.1 196.1 360.6 193.3 363.2 191.4 365 188.5 363.6 185.6 362.9 183.7 364.1 180.9 363.2 178 362.4 175.2 361.9 172.3 363.2 169.5 365 168.5 366.7 165.6 368.1 162.8 369.8 159.9 371.6 160.9 372.8 162.8 374.5 161.8 376.2 158 375.4 154.2 374.5 150.4 373.3 147.5 371.6 145.6 369.3 143.7 367.1 140.9 366.4 137.1 367.1 133.2 366.4 129.4 365.8 125.6 365.3 122.8 364.6 120.5 365.8 118.6 364.6 116.7 365.8 114.2 367.6 111.3 368.8 108.5 370.2 105.6 371 102.8 369.3 99.9 367.6 98 365 95.1 364.1 91.3 363.2 87.5 361.5 84.7 359.4 82.8 357.2 81.8 354.2 78.9 352.5 78 350.3 81.8 349.1 85.6 348 88.5 346.8 86.6 344.2 85.6 341.6 83.7 339 80.8 337.3 78 335.6 77.4 333 79.3 330.4 81.8 327.8 84.7 326 88.5 324.8 92.3 323.4 96.1 322.6 99.9 321.4 103.7 320.3 106.6 319.1 109.8 317.4 113.2 315.1 117.4 313.4 120.9 311 121.8 307.9 119.9 307 119 304.4 116.1 302.7 113.2 301 110.4 298.4 106.6 296.6 105.6 294 103.7 292.3 104.7 289.7 107.5 288 110.4 286.2 114.2 284.9 117.4 283.1 120.9 283.7 123.7 285.4 126.6 285.4 129.4 284.5 133.2 283.7 135.2 281.9 138 280.2 139 277.6 140.9 276.7 142.8 274.1 144.7 271.5 145.6 269.3 148.5 269.8 151.3 271.5 154.2 270.7 157.1 270.7 159.9 269.8 162.8 268.9 160.9 267.2 158 265.5 155.2 263.8 153.3 261.2 154.2 258.6 157.1 257.7 160.9 257.7 162.8 255.5 166.6 254.8 172.3 253.4Z"/>
<path d="M240.9 314.8 243.8 313.4 247.6 313.1 251.4 314.5 254.2 316.5 257.1 319.1 260 321.7 262.8 324.3 266.6 325.5 270.4 326"/>
<path d="M270.4 333.8 266.6 333.8 262.8 333.5 259 333 256.1 333.8 254.2 336.4 252.9 339.9 253.3 343.3 255.2 346.8 257.1 350.3 259 353.7 261.9 356.3 263.8 359.8 262.8 363.2 264.7 365.8 266.6 367.6 270.4 369.3"/>
<path d="M191.4 365 191.9 368.4 192.3 372.8 194.2 376.2 196.1 379.7 195.2 383.1 197.1 386.6 198 390.1 197.7 393.5 198 397"/>
<path d="M224.7 326 223.8 329.5 221.9 333.8 220.9 338.2 221.9 341.6 224.7 343.3 229.5 344.2 224.7 345.6 221.9 347.7 222.8 351.1 223.8 354.6 222.8 358.1 220.9 360.6 218 361.5 213.3 360.6 208.5 359.8 205.7 358.9 204.7 356.3 202.8 356.3"/>
</g>
<rect x="58.2" y="236.4" width="210.2" height="160.1" fill="none" stroke="#7d7d7d" stroke-width="1"/>
<path d="M53.7 252.8H58.2M53.7 292.7H58.2M53.7 332.6H58.2M53.7 372.5H58.2M83.3 396.5V400.0M125.2 396.5V400.0M167.1 396.5V400.0M208.9 396.5V400.0M250.8 396.5V400.0" stroke="#a0a0a0" stroke-width="0.7" fill="none"/>
<g font-family="Liberation Sans, sans-serif" font-size="8.8" fill="#262626">
<text x="48.2" y="256.0" text-anchor="end">41°N</text>
<text x="48.2" y="295.9" text-anchor="end">40°30'N</text>
<text x="48.2" y="335.8" text-anchor="end">40°N</text>
<text x="48.2" y="375.7" text-anchor="end">39°30'N</text>
<text x="83.3" y="413.0" text-anchor="middle">115°30'E</text>
<text x="125.2" y="413.0" text-anchor="middle">116°E</text>
<text x="167.1" y="413.0" text-anchor="middle">116°30'E</text>
<text x="208.9" y="413.0" text-anchor="middle">117°E</text>
<text x="250.8" y="413.0" text-anchor="middle">117°30'E</text>
</g>
<rect x="63.6" y="418.3" width="15.5" height="7.8" fill="#ffffff"/>
<rect x="78.9" y="418.3" width="15.5" height="7.8" fill="#e1e1e1"/>
<rect x="94.2" y="418.3" width="15.5" height="7.8" fill="#0a96e6"/>
<rect x="109.5" y="418.3" width="15.5" height="7.8" fill="#0a7dd2"/>
<rect x="124.8" y="418.3" width="15.5" height="7.8" fill="#0564b9"/>
<rect x="140.1" y="418.3" width="15.5" height="7.8" fill="#96c81e"/>
<rect x="155.4" y="418.3" width="15.5" height="7.8" fill="#28aa3c"/>
<rect x="170.7" y="418.3" width="15.5" height="7.8" fill="#14963c"/>
<rect x="186.0" y="418.3" width="15.5" height="7.8" fill="#fff01e"/>
<rect x="201.3" y="418.3" width="15.5" height="7.8" fill="#ffbe14"/>
<rect x="216.6" y="418.3" width="15.5" height="7.8" fill="#ff960a"/>
<rect x="231.9" y="418.3" width="15.5" height="7.8" fill="#f06e0a"/>
<rect x="247.2" y="418.3" width="15.5" height="7.8" fill="#e6141e"/>
<rect x="63.6" y="418.3" width="198.9" height="7.8" fill="none" stroke="#9a9a9a" stroke-width="0.5" stroke-opacity="0.6"/>
<path d="M78.9 418.3V426.1M94.2 418.3V426.1M109.5 418.3V426.1M124.8 418.3V426.1M140.1 418.3V426.1M155.4 418.3V426.1M170.7 418.3V426.1M186.0 418.3V426.1M201.3 418.3V426.1M216.6 418.3V426.1M231.9 418.3V426.1M247.2 418.3V426.1" stroke="#333" stroke-opacity="0.35" stroke-width="0.5"/>
<g font-family="Liberation Sans, sans-serif" font-size="8.8" fill="#262626" text-anchor="middle">
<text x="78.9" y="434.2">5</text>
<text x="109.5" y="434.2">15</text>
<text x="140.1" y="434.2">25</text>
<text x="170.7" y="434.2">40</text>
<text x="201.3" y="434.2">80</text>
<text x="231.9" y="434.2">160</text>
</g>
<text x="258.8" y="441" font-family="Liberation Serif, serif" font-size="10.4" fill="#333">J kg<tspan dy="-4.6" font-size="6.4" font-weight="bold">−1</tspan></text>
<text x="226.4" y="251.1" font-family="Liberation Serif, serif" font-size="11.8" fill="#111"><tspan font-weight="bold">(c)</tspan> LPI</text>
</g>
<g id="panel-d">
<g clip-path="url(#clipd)"><g transform="translate(312.7,236.3) scale(0.5)" stroke="none">
<path fill="#0a96e6" fill-rule="evenodd"  d="M0 59l2 2 5 1 3-4 3 0 5 2 9 1 6 3 0 6-6 2 5 3 7 8-2 1-6-3-6 5-6-1 2 3 3 0 4 4 1 7 7 3 6 5 13 1-2-2 2-4 5 0 4 4 2 0 1-3-2-2 8-2 2 1 2 4 0 5 6 3 6 6 8-3 1-7 8 1 0-3-5-3-3 0-2-4 8-5 5-5 0-2-6-1-2 2-5 0-5 6-3-1-4-4-1-9 3-2 0-5-1-1-11 1-2-2 2-6 7-4 3 0 7 7-1 6 5 7 9 0 10-4 2 1-1 7 3 3 5 1 10-1-8-6-2-3 0-4 4 0 2 5 9 10 4 0 5-6-1-2 2-1 1 4 5 7-1 3-4 3 2 6 3 3 9 4 13-1-2 6-11 3 9 4 11 0 3-2-4-4-1-3-5-4 9-1 2-2-2-3 0-3 5-6 4 0 2-3 4 0 3 4-2 5 3 3 10 1 2-2 3 0 6 3 4-1 3 2 6 0 7-4 13-1 8-4 5 3 5 0 3-3 7 7 7 3 4-2 11 0 2-2 8 1 1-2 14-3 2 8-2 4-6 0-3-5-4-2-2 1 0 5 2 3 7 1 6 3-6 8 5 8 5 0 7 4 5 0 3-2 6 3-9 6-1 8 2 2 11 3 7-2-3-3 1-3 3 0 2 2-3 5 1 5-4 4 4 5-1 1-7-1 0 4 3 5 4 0 7 8 0 6-6 3-3 6-3 1-2-2 2-7-4-5-4 2 0 6 2 6-1 11 6 7-1 3-9-2-5-4-3 0-2 6 4 4-11 5-5-1-1 4-6 4-10-3-5 4-6-1-5-5 0-6-3-1-1 3 2 3-5 5 7 6 0 2-4 8-4-1-2 3-11-2-8 5-7-1 0 4 2 2 8 3 4 10-4 1-4-5-6-2-4 4-1 4 5 4 7 0 6 3 4 0 3 3 0 2-6 7-5-1-4-5-4-2-5 0-5-4-6-1 0 3 2 3-1 1-14-5 1-3-5-7-6 0-6-2-2 2 1 2 5 2 4 5 8 2-1 2 1 2 9 7 1 5-3 2-4 0-1-1 1-4-4-4-8 1-3-2 0-2 3-2-9-7-2-6-8-7-2-7-2 0-5 5 1 4-1 3-4 0-6-6-3-7-8-4-9-11-3 0 1 4 5 5-4 3-3-1-1-6-6-6-3 1-1 4-12 2-4-5-3-1-8-7-14 2-1-6-3-3-1-4-6-3-1 2 4 6-2 5-4 2 2 7-7-1-1 3-4 0-6-5-4 1 7 9 7 2-15 4-7-2-6-7-2 7-2 2-4-2-5 0-2 4-3 2-4-1-7 1-4-2-3 2 2 3 7 0 2 4-2 2-9 0-2 2-1 4 2 8 4 4 1-4-2-4 4-1 2 2 0 4 5 4 4-1 2-3 9 10 7 2-3 4-3-1-8 1-4-6-4-3-4 0-1 2-5 0-2 6-9 2-5 0-7-4-6 2 0-13 3 0 3-2-3-5 0-4 9-2 2-2 1-5-2-3-5-3 0-2-6-6 1-5-2-1-1 2 0-23 3 3 5 0 4 2 4-1 5 2 5 5 0 2-4 3-9-4-4-4-3 0 0 1 11 9 6 0 4 8 3 3 5 2 8-1 0-2-5-6 0-6-7-1-3-3 0-5-2-3-6-3-5 0-9-5-3 0-3 4 0-20 11 7 1-5 3-1 7 1 2-2 0-2-5-4-7 1-6-3-6-1 0-22 3-1-3-3 0-25 4 3 10-1-1-3-13-6 0-63 5 6 2 1 3-1-1-3-9-7 0-3 7 3 3 3 3 1 3-1-2-8-12-6zM15 138l-1 2 2 4 6 6 7 4 6 0 4 2 1-1-2-6-9-5 0-2 4-1-1-3-3-2-7 0zM92 226l-10 1-1 4 3 2 6-1 3-3zM99 205l-1 1 3 3 1-3zM124 233l1 5 3 0 3-2 0-3-3-2zM153 235l0 5 5 5 12-2-4-4-1-3-1 0 0 3-3 0-6-5zM189 241l-1 1 1 3 7 4 1-3-3-4zM200 252l-4 8 2 2 4 1 9-1 3 2 1-1-1-2-5-1-3-3 1-3-1-2-2-1zM236 258l0 2 6 5 3 0 3-2-1-5-4-1zM271 238l4 9 5 5 6 2 4-1-11-13-7-3zM320 220l1 4 2 1 3-1-1-3-4-2zM355 177l-1 3 4 8 3-8zM364 189l3 4 4-1-3-4zM11 179l-1 1 2 4 3 1 2-4-2-2zM18 199l2 4 2 1 1-2-3-3zM19 186l1 7 3 2 6 1 6 8 8-1 6 4 0 3 2 2 7-1 0-2-6-2-4-5-4-1-5-4-5-1-4-8zM28 181l3 5 12 0 15 10 7-1 4 3 3-1 0-3-3-2-4 1-2-2-1-5-7-6-3 0-3 5-2 0-2-4-3-2-7 0zM234 270l1 5 7 8 8-2 2-2-11-12zM42 224l0 2 4 5 6-2 5 5 3 0 5-8-2-3-6-1-6-5-2 1 3 6-1 1-5-3zM50 247l1 3 3 2 5-1 0-2-5-4zM46 67l2-2 3 0 2 2 0 4-4 0zM50 77l6-1 2-2 5 0 9 6 5 0 3 3 0 2-3 1-1 2 10 10 0 5 4 5-1 1-3-1-6-8-4-1-2-2 0-5-2-2-5 0-3-3-3 0-2 2-8-1-3-3zM48 93l3 0 2 4-1 1-3-1zM375 217l9-4 4 5 6 4 1 4-5 3-2 0-5-4-5 1-3-4zM362 220l2-2 2 1 0 2zM351 228l7 3 5-3 3 5-7 1-1 4-3 1-2-2 0-5zM286 266l8 1 6 4-3 4-6 0 5 5 2-2 7 0-3-11 3-3 5 2 1-2-2-4 3-3 2 0 4 4 3 5-4 2-1 5-4 2 0 8-4 2 1 5 5 6-1 1-4-1-5-5-5-8-2-1-7 3-1-10-4-5zM48 273l2 0 2 3 1 5-3 0-5-3zM60 287l4-4 8 0 6 3-6 9-8-1zM190 287l4-1 1 3-3 0zM191 295l5-2 1 3-5 1zM309 300l1 3-2 1-4 0-4-2 5 4 0 4-7 3-3-4 2-9 2-2 7 0zM245 315l2-3 4-2 0-4 2-2 14 2 5 5-1 2-4 1 2 3-2 0-2-3-4 0-3 3-12 0z"/>
<path fill="#0a7dd2" fill-rule="evenodd"  d="M5 66l3-1 5-5 15 3 3 4-1 1-6-1-2 3 5 5 3 1 1 3-5 0-2 3-3 0-3-2 0-5 3-4-2-2-6-1-7 2zM74 70l4-6 2 0 3 3 0 2-3 2zM56 79l3-4 4 0 7 6 5 2-1 4-5 1-5-5zM49 83l5-2 4 6-2 1-4-1zM86 80l3 0 5 4 0 3-3 4-4-2-2-5zM107 82l5-1 0 3-3 0zM0 87l3 4 5 3 2 0 3-3-1-5 6 6 6-1 2 2 1 6 3 3 5 1 4 5 12 2 3 2 6-1 5 1 5-6 0-3 3-1 2 2 0 5 12 10 10-1 3-3 1-4 4 0 3 3 2-1 1-7-10-6 0-2 13-9 4 0 8 3 8 0 8 8 4 0 4 7 18 7-2 2-4 0-3 3-11-3 3 4 8 5 2 0 2-3 4 2-3 3 3 2 7-4 9 0 6-3 4-4-2-11-4-3 0-3 3-3 6 0 2-3 2 1-1 5 3 3 9 2 2 2 5-4 7 3 12 1 10-4 18-3 14 2 12 6 5 0 2-2 10 1 5-3 4 4-1 6 2 2 5 0 5 2-5 1 0 5 5 5 1 4 3 2 4-1 4 1 4 4 4 1-1 8-3 5 8 3 3 3-3 3-1 8 2 2-1 6 3 6 0 5-2 4 3 11 0 5-2 2 0 3 3 6-2 1-7-5-6-1-3 5-11 2-4-4-5-1-2 2 1 6 9 7 0 3-3 2-5 0-1-5-12-8-7 0-6-4-5 0-2 2 5 4 1 7-4 5 4 6-1 4-4-1-7-10-4-1-5-4-8 0-1 1 13 14 1 5-2 1-5-1-1-7-3-2-4 0-6 6-4 0 7 9 1 6 3 3-4-2-6 1 5 6-2 4-2 0-7-7 0-3 5-3-1-1 1-6-2-2-14 1-3 2 4 8-3 1-2 3 3 7 5 5 2 7-4-2 1-2-6-7-6-3-6-1 4 0 1-3-7-4-1-6 3-3 7 1 3-1-6-9-4-1-3 3-12-1-5-4 0-5-3-3-12 1-1 1 2 5-5 3 1 5 9 8 1 4 3 3-1 4 1 3-2 2-5-4-4-9-6-3-9-10-6-4 2-2 7 2 5-2-2-3-5-2-4-6-14-1-1 1 0 10 1 1-7 1 4 5 0 2-4 2-5 0-4-4-3-1-5-7 0-2 5-4 0-4-2-3-4-1-3 1-2 3 0 7-2 1-4-7-2-1-2 4-2 1-4-6-12-8-5 1-10-1-2 3 1 4 4 3 9 1 3 2 1 2-2 3 1 6-7-1-5-3-3 0-3 2-4 0-4-2 0 4 5 3 8 9-3 0-3-2-6 0-7-5 2-5-6-6 0-2 4-4 4-8 2 0 5 4 3-3-9-10-4 1-7-1-1-4 2-2 5 1 1-1-4-6-5-1-5-6-6-1-2-2 0-4-6-1-1-4 8 0 13 10 6-1 4 1 4 4 0 3 4 5 2 0 4-5-5-5 1-3-1-4-8-4-10-10-3-1-8 1-7-3-3-3-1 5-3 1-7-1 3 6-1 1-3 0-8-8-15-2 0-9 5 1-5-6 0-5 5 3 3 0 3 6 7 1 0-3-4-4 5-5 0-2-5-1-14-6 0-32 3-1-3-2zM7 143l3 4 7 1 2 3 6 4 9 0 3 2 5-1-3-9-3-3-1-5-6-4-6-1-4 2-5 0-2 4zM54 157l1 6-3 5 3 2 2-11zM77 119l-1-2-10 2-2 4 1 1 9-1zM82 131l-3 3 0 3 7 2 1-1-1-3zM83 128l0 2 10 1 2-2-4-3-5 0zM98 189l-1 2 3 2 1-2zM111 125l-3 0-2 2 4 0zM213 109l1 5 1-4zM238 246l1 2 7-1-2-3-4 0zM315 127l-2 2 1 4 3-1 0-3zM70 234l0 2 5 4 4-1-5-6zM19 171l-1 3 5 2-1-3zM70 158l-1 2 2 2 1-3zM77 156l4 4 5-1 0-3-2-2-3-1zM96 202l-2 2 2 3-1 4 1 4 3 2 8 1 0-2-3-3 1-5-3-5-3-2zM108 219l0 3 3 2 1-1zM77 190l2 3 4-1-3-3zM86 205l-3 3 0 3-2 3 1 3 5 0 3-4zM149 88l2 2 0 3-4 4-2 0-2-5 4-4zM77 93l3 2 0 2-3-1zM327 107l2-1 3 3-3 1zM366 160l0 2-5 4-4-4 1-3zM362 185l1-2 4 2-1 1zM0 184l15 4 2 2-5 6 0 2 5 5-3 4-14-5zM23 197l4 0 3 3-1 3 6 4 3 0 1-2 5 1-1 4 3 4 0 4-7 3-1 3 7 9 5 1 1-2 2 1-3 3 2 7-3 1-2 3 2 7 3 3 3-2 2 1 0 6-12-1-5-4 0-5 3-4-4-4-4 2-4-1 1-2 2 1 1-1-2-4 1-2-1-2-5-3-14 1-11-8 3-5 10 6-1-8 5 0 4 2 4 5 2 1 1-1 0-3-5-4 3-6-4-4 0-2 4-3zM377 219l2-2 4 0 7 6-1 1-8-1zM330 227l1-1 5 4-2 1zM301 236l1-1 4 3-3 1zM13 242l6-1 4 3 0 2-5 1zM0 242l9 5 5 6 7 1 3 3 1 10-2 4 4 3 6 1-1 1-7 0-4 4-3-1-4-14-5-1-4-3 1-4-1-3-2-1-3 1zM84 248l4 3-2 1zM191 253l3-1 2 2-4 1zM208 265l3 0 7 8-5 5-3-1-3-4zM305 267l3 1-1 3-2-1zM288 268l5 0 4 3-5 1zM253 283l4 1 3 4-6-2zM16 283l2 0 3 3 6 12-2 7-7 4-4 0-4-2-7-7 2-4 4-1-4-7 2-2 3 0zM217 284l2 0 2 3-2 1zM63 286l1-1 8 1 1 1-1 5-6 1-3-4zM260 288l6-1 4 2 4 0 2 1 0 6-4 2-5-6zM41 299l5-1 3 4 6 4-7 1-2-4zM233 298l1-1 3 1 4 4 0 3-3 1-1-4zM253 309l6-1 2 1 0 2-6 3-2-2zM247 314l1-1 3 1 0 3-3 0z"/>
<path fill="#0564b9" fill-rule="evenodd"  d="M11 66l0-2 3-2 8 1-5 4zM60 77l3-1 3 3-3 2-3-2zM89 82l3 3-2 3-4-5zM0 92l11 5 3-3 10 0 0 9-2 2 1 3-1 9 2 2 3 0 4-6 0-3-2-3 5 0 4 4 14 3-3 3 1 3 12 9 3 0 5-4 6 0 3-6 2-1 5 2 9 1 9-6 4 4 0 3-7 4-1 2-7-3-13 1-1 5-6 7 0 2 3 2 3-2 11 2 1-6 8-6 17 0-2-4 1-11 4 1 2-2 0-3-10-8-5-1-3-4 14-7 7 2-1 2 1 4 7 3 3 0 4-3 8 8 6 2 6 6-1 2-14-5-3 1 18 13 10 5 6-4 9-1 12-6 0-6-2-3 0-4-5-4 2-3 4 0 7 5 8 2 2 2 0 5 2 2 3-2 1-2-1-5 3-2 8 3 12 0 8-3 22-3 9 2 16 7 6-3 9 2 2-3 3 0 1 10 6 6 1 5 4 3 4 6 9 0 2 2 0 3 4 4 0 3-2 2-4 0-6-3-1 1 4 7 4 4 5 0 2-2 4 1-2 3 1 3-1 5 2 3 0 7 3 5 0 5-2 5 3 10 0 5-3 3 0 3-11-2-3 5-8 3-9-5-10 0-2 1 0 4 4 1 3 4-1 1-3-1-3-4-8 1-8-4-9 0-2 2 1 2 5 2 3 6-3 4-2 1-8-1-9-5-8 0-2 3 7 8-9 1-2 4-4 1-8-7-5 1-5 7 2 2 8-2 4 3-2 3-15-1-5-7 4-5-2-1-4 0-2 4-5 4-3 1-7-1-3-2-1-6-4-5-11 1-2-1 0-3-4-3-6 3 3 5-1 2-5-1-3-5-4-2-15 0-3 4 2 5-4 3-5 2-1-1-2 3-3 0-3-5 0-2 4-4-1-8-7-2-5 2-1 4-3 1-5-3-4 2-8-7 2-5 3 1 4 4 3 0 2-2 0-3 4 1 3-3 0-2-8-8-4 4-3-1 0-4-3-5 2-2 6 2 4-3 0-2-4-3-6 2-3-3 0-3-8-12-5-1-2 3 8 5-2 4 4 6-6 5-5 0-4-3 2-3 0-4-4-3-6 1-7-1-12-10-13-1-8-6-5 1 1 3-1 2-5-3-4-6-2-8 6-1 6-3 6 2 9-1 3 1 2 2-1 9 4 3 3 0 3-7 0-5-3-4 1-6-10-5-3 0 3 4 0 6-3 1-4-5 0-4-3-4 1-3-6-5-7-2-13 2-4 5-5 1-1 3-3 0 0-30 1 1 5-1 0-2-6-4zM317 125l-3 0-2 2 1 8 3 0 4-3 0-4zM339 168l-1 1 1 4-2 4 6 5 2-2-5-7 1-3zM35 124l0 2 3 3 4-1zM67 152l1 3-2 5 5 5 4-1 6 1 2-3 2 0 3-3 0-4-7-4-4 2-4 0-3-2zM134 206l5 5 4-1-2-4-3-1zM142 217l4 4 2 0-3-4-2-1zM71 108l2 0 2 3 0 2-3 2-3-1 0-4zM57 117l3-4 3 0 2 2-4 5zM16 169l-1 5-3 2-9-2-3-2 1-3 5 2 3 0 3-4zM0 186l12 3 1 2-3 1-3-2-1 4-6 0zM45 193l1 5-3-1zM77 197l3-1 2 2-4 1zM53 202l2-1 4 2 3-2 4 2 2 4 9 7 1 2-1 7-2 1-2-1-13-18-6-1zM31 208l8 2 2 3 0 3-6-2zM57 216l4-1 1 2-4 1zM84 220l4-1 2 3-5 2zM19 222l1-1 9 7 3 0 4-4 4 4 1 3 6 5 1 5-3 2-6-1-4-8-9-5-5 0-2-2zM7 225l1-1 3 1 6 6-2 1-4-2zM320 231l2 0 3 4-2 1zM66 236l8 5 1 2-2 1zM81 236l7 1 2 3 0 4-2 1-6-4zM285 242l4 2 0 3-4-3zM0 246l7 2 5 6 8 2 2 4-2 2-12-1-1-9-1-1-6 1zM271 246l3 3-1 2-3-2zM142 248l4 3-1 2-4-2zM170 249l7 1 3 5 9 7 4 7-1 3-2 0-3-3-2-7-3-3-6-2zM65 253l2-2 3 0 5 4-6 1zM42 253l2-1 4 6-4 1-3-3zM254 259l2 1 0 3-3-1zM220 260l3-1 5 3 0 8-9-6zM18 268l1-3 3 2-2 2zM210 269l3 1-1 3-2-1zM13 287l5 0 7 10-2 4-3-1 1 6-3 2-4 0-3-3 2-6 5 0-4-2-6-7z"/>
<path fill="#28aa3c" fill-rule="evenodd"  d="M12 65l2-2 3 2-2 2zM61 77l3 0-1 3-2-1zM0 93l14 6 2 0-1-2 1-2 7 1-1 2 1 3-2 2 1 6-1 8 3 4 3 0 3-3 2-8 2-1 4 3 8 2 5 8 12 8 4-1 4-4 6 1 1 5-6 8 5 4 3-2 5 2 6 0 0-4 2-4 6-4 20 0 1-1-5-4 0-4 7-9-1-5-4-1-7-5-3 0-3-3 2-3 6-1 5-3 5 1-1 3 2 3 8 4 3 0 4-3 4 3 3 5 7 2 3 5-6-1-5-3-5 0-5-3-2 0-1 2 5 4 8 2 22 15 4 0 6-4 8-1 13-7-3-8 0-4-5-4 1-3 5 1 4 4 10 2 2 9 5-1 1-2-1-5 2-2 17 3 18-5 20-1 19 8 5 0 4-3 5 2 4 0 1-2 3 0 0 8 2 6 3 1 1 2-4-2-5 5 0 5 3 3 2 0 8-4 7 6 6-1 3 2 0 4 4 3-1 4-4 0-9-6-2 1 12 16 6 1 3 3 0 6 2 3-1 5 4 8-3 7 4 15-5 5-5 0-4-2-2 5-7 4-4 0-6-4-12-1-4 7-7 0-7-4-10 1-1 2 1 2 6 3 2 3 0 3-3 3-10-1-6-4-11 0-2 1 0 2 7 7-1 1-5 0-3-3-4-1-1 2 4 3-2 4-2 0-6-6-6 0-8 8 3 3 10-2 2 2-2 3-5 0-10-3-2-3 0-3 4-3-4-3-5 0-2 2 0 3-6 4-7 0-4-3 0-4-5-7-10 1-1-4-7-4-4 3-6-1-1 2-10 0-1-1-10 1-3 3 0 2 3 2-2 4-4 1-5-1-3 2-2-3 3-3 0-10-9-3-4 2-3 5-4-2-7 1-5-4-1-2 1-3 3 0 5 4 4-1 3-3 3 0 2-2 1-5-9-7-6 1-4-6 1-1 7 1 4-3 0-3-5-4-5 2-2-1-6-13-4-4-6-1-3 4 2 3 5 2 0 4 3 5-4 5-5 0-2-2 1-6-6-5-10 1-17-12-8 1-5-2-6-5-4 0-3 2-4-2-2-6 4-2 4-5 5 0 4 2 9 0 3 3-1 7 3 3 3 1 3-1 3-4 1-6-5-7 2-5-3-3-3 0-4-3-7-2-11-9-18 1-3 5-6 1-2 3-2 0 0-28 6 0 2-2 0-2-3-2-5-1zM129 206l10 6 1 2-1 1 3 4 7 5 2 0-1-4-8-7 3-3-1-3-6-3zM162 208l2 2 4 0-3-3zM339 166l-2 3 1 4-2 3 7 7 2-2 0-3-3-3 0-5zM31 122l0 2 4 4 4 2 4-1-3-4-6-4zM64 168l2 2 6 1 2-2 0-3 2-1 5 2 7-6 2-5-8-6-3 0-3 3-6-3-3 0-1 1 1 4-2 5 4 4 0 2zM82 146l2 3 4 1 4-1-2-3zM96 154l0 3 4 1-1-4zM164 224l3 2 3-1-1-2zM72 109l2 2-2 3-2-1zM59 116l2-2 2 1-1 3-2 0zM107 120l-3 4-6 3-6-3-9 1-4-1 0-3 2-2 14 3 7-5 2 0zM42 147l2 0 3 3-1 4-4-2zM1 170l3 0 3 3-5 0zM13 174l-6-1 5-2zM0 187l2 0 3 3-2 4-3-1zM62 203l2 0 7 8 5 3 1 7-2 2-5-4-2-5-7-8zM34 210l3 0 1 3-2 0zM21 225l1-1 2 1 1 3-3 0zM9 226l4 1 2 4-3-1zM29 229l3 0 3-3 3 1 1 3 7 6 1 4-2 2-4 0-3-3 0-3zM171 234l4 1 1 3-3 1-2-2zM83 238l2-1 4 6-5-1zM67 253l4-1 2 3-5 0zM173 252l1-1 3 1 2 4-3 0zM8 255l4-1 8 3 1 3-1 1-10 0-2-2zM43 254l3 2-1 2-3-2zM220 261l1-1 5 1 1 6-1 1-3-1-3-3zM187 263l5 6-2 2-3-4zM10 290l7-2 2 2-1 3 4 1 2 2 0 3-2 1-5-5-5-1zM12 305l3-5 5 3-1 4-5 0z"/>
<path fill="#14963c" fill-rule="evenodd"  d="M11 102l-4 4-7-2 0-2 2 2 5-4zM353 208l-2 2-5 0-4-3-4 0-3 3 1 6-6 4-7-4-7-2-9 1-2 6-5 1-6-4-15 0-2 9 4 4-1 1-6-3-17 0-2 1-1 4-8 4-8 2-7 0-6-3-4-4-6 1-3 4-6-1-10-6-14-4-5-3-6-7 1-7-8-9-3 0-4 4-3-1-1-4-3-2-2 1 0 3-4-1-3-6-7-7 3-3-4-4-10-2-5-3-5 0-8 5-1-2 1-9-2-4 0-15-4-4 0-5-2-5 5-4 21 1 3-2 5 1 4 4 7-1 6 1 1-1-1-2-7-5 3-2-3-5 3-3 8 4 11 9 8 2-1 7 5 2 3-2 2-4-1-2-6-2 2-3 7 0 5-4 5-1 5-3 13-1 7-4 2-4-1-4 2-2 7 3 9 0 15-4 7 0 4-2 8 0 4 2 1 6 3 0 3-3 9 4 1 5 3 3 5-2 7 1 2-2-6-5 1-2 7 2 2 2 0 8-3 4 0 7 5 4 3 0 2-2 4 0 2 2-3 6 0 3 5 5 5 2 4 7-2 17 5 5 9 5 0 4-3 3 6 5zM336 190l-1 3 4 1 0-2zM135 161l1 4 4 0-1-3zM162 185l-3 3 2 2 2 0 1-2zM195 220l0 3 2 2 8 4 11-2 0-2-6-5 0-2-4-4-2 1 0 2 3 4-3 1-5-3zM206 209l7 5 2-1-2-3-4-2zM222 221l-1 2 6 7 3 0 1-1-1-8-2-2zM243 215l-2-2-4 3 0 2 4 0zM198 109l5-2 4 2 0 3-2 2-3 0-4-3zM126 111l2 0 4 4-1 3-3 2-4-1-1-2zM17 116l2 9-5 6-6-1-8 1 0-13 5 2 5 0 2-4 2-1zM40 118l3 0 1 2-2 2zM36 132l10 0 5-5 4 0 7 6 8-2 1 1-1 4 1 7-5-1-6-6-8 1-4 4-3 0-9-7zM62 147l1-3 3 2-3 2zM33 163l5 0 6 6 1 3-4 1-8-7zM79 172l2-1 3 3-4 2zM61 174l2 0 1 2-1 4-4-3zM71 182l4-5 4 0 2 2 0 6-7 0zM348 182l3 1-1 4-2 0-1-3zM114 189l5-2 2 1 2 3 0 3-2 1-4-2zM156 209l3 0 7 4 3 3 0 2-3 1-9-6zM127 221l4-5 3 0 16 12-1 1-5-3-8 1-7-3zM283 231l2-2 2 1 0 2zM208 244l2-2 4 1-1 3-4 0z"/>
<path fill="#fff01e" fill-rule="evenodd"  d="M352 208l-1 1-3-1-1-5-2 0-1 3-5 0-6 4 2 6-4 3-3 0-5-4-13-2-4 2-2 6-5 0-6-4-6 1-8-1-2 2 0 5-3 4-3 1-1-1-12 0-3 1-3 5-7 4-10 2-7-2-9-7-5 2-2 3-7 0-16-9-4 0-8-4-4-4-1-3 1-6-7-9-2-1-7 1-3-3-5-2-3 0 0 3-3-1 1-9-3-1-5-6 1-4-2-2-2 0-2 3-9-1-4-3-5 0-7 3-1-1 1-6-2-4 0-16-4-4-1-10 5-4 7 0 3 2 17-1 4 4 5-1 9 1 1-2-4-5 0-3-3-4 1-4 14 8 3 3 1 4 4-1 3 1 1 8 9 2 1-6 2-3-2-3-4 0-1-1 1-1 1 1 6-1 5-5 11-4 12-1 8-6 1-7 10 3 24-5 5 1 2-2 7-1 5 2 0 4 4 4 3-3 7 1 6 9 5-1 8 1 4-2 1 4-3 5 1 7 6 4 2 0 3-3 4 2-1 4-3 3 2 6-2 3-3 1-1 6 5-1 1-4 4-2 5 0 4 6-2 18 3 4 6 3 5 5-2 2-3 0-9-7-3 1 3 2 1 8 2 1 4-2 9 4zM128 156l6 6 2 4 4 0 2-2-1-2-5-2-5-5zM144 184l1 4 4 0 4 3 6-1 7 5 1-1-2-3 0-6-2-1-5 3zM190 213l4 4 0 7 2 2 10 4 11-1 0-5-5-4-2-4 1-2 1 1 4-1-1-4-6-3-4 0-1 1 1 4-3 1 1 5-1 1-5-2-4-5zM228 211l4 3 0 3 4 3 3 0 5-3-2-5-7 3-4-6zM230 218l-4 0-5 3 0 4 7 6 5-2zM199 110l2-2 5 1 0 3-4 1zM125 114l3-2 3 4-2 2-3 0zM16 117l2 8-4 4-3 1-11-1 0-9 10 1 3-4zM37 133l10 0 4-5 4 0 5 6 9-1 1 2-1 6-2 0-7-7-4 2-6 0-2 4-4 0zM36 164l4 2 3 5-1 1-3-1-4-4zM73 181l4-3 4 4-1 2-5 0zM116 189l2-1 4 4-3 1-3-2zM158 210l8 5-2 1-4-2zM129 220l3-3 2 0 7 6-6 3-5-2z"/>
<path fill="#ffbe14" fill-rule="evenodd"  d="M342 203l-3 2-9 2-3 3-11-2 2 4-3 0-8-5-1 1 2 4-4 3-1 5-4 0-6-5-6 2-9-2-2 1-3 8-3 2-3-1-13 1-4 3 0 3-5 4-7 2-7 0-3-2-1-2 3-2 9 1 2-4 3-2-1-5 7-1 0-2-4-2-2-6-8-3 0-2 5-4 5 1-2-3-8-2-5-4-4 0-2 4 4 7-4 1-8-10-9 0-2 1 5 8-11-1-1 4-3 2-7-4-1 8 4 5-1 2-12 1-5-6 1-3 4-2-7-5-4-7 2-1 4 4 4 0 3-5 7 1-2-8 4-3-1-5-8-4 1 10-9 4-5-1-1-3 3-4-3-4-2 2-4 0-4 2-8-1-4-2-1-3 2-2 5 3 3-5 0-3-4-2-5 5-6-2-2-3 7-4 0-7-5 1-7-6-3-1-4 3 0 2 7 6 1 9-6 4-4 0-6-5-8 2-3-4 1-17-5-6 1-4-1-5 3-3 4 0 6 4 5 0 1 4 6 4 5 0 4-3 6 1 1-1-3-3 2-1 5 2 8-1 6 6 7-1 12 5 4 0-1-8 1-9 6-6 7 0 4-4 9 0 5-4 2 0 4-5 0-4 3 0 5 5 4-4 21-2 9 6 1-1-1-8 5-1 4 3 2 10 5 5 3 1 3-1 0-3-4-5 1-1 4 0 6 9 5 0 4-2 4 2 0 5-3 3 15 11 1 9-4 3-1 4-4 4 3 2 10-1 3-6 5 0 4 6-2 4-5-2-4 1 1 4 8 1-1 11-5 1-2 2 0 3-4 2-3 8 5 5 5 0 2-2 11-3 2 2zM265 216l2 4 4-1-2-3-2-1zM284 157l-5 6 3 4 6 1 0-7zM290 204l-2 3 3 3 2 0 1-4zM307 198l-2 0 0 5 4-3zM318 171l-1 3 3 1 1-3zM176 165l3 4 7 4 4-1-8-8-4-1zM195 191l1 5 2 1 7-1-2-7-2-2zM15 123l0 2-3 2-7 0-4-2 0-1 12-2zM153 127l4 2 1 2-2 5-4-2zM160 139l4-1 2 3-3 1zM325 194l2-2 3 1-1 3-3 0zM217 220l3-8 4 0 2 2-1 2zM199 229l8 4-1 1-4-1z"/>
<path fill="#ff960a" fill-rule="evenodd"  d="M341 202l-6 4-6 0-4 3-6-3-11-1 2-5-1-2-5-2-2 7 5 9-4 3-1 5-4-1-4-5-6 2-6 0-4-2-4 4-2 0-3-3-4 0-1 3 4 4-2 2-5 2-8-1-5 4 1 3-5 4-11 2-4-4 4-2 7 2 6-6-1-4 6-1 1-5 3-2-4-4-1 1 1 4-1 1-3-1-1-2 1-2-9-6 2-3 8 1-2-5-3-2-7-1-6-4-3 0-3 3 3 6-1 3-9-12-2-1-4 3-4 0-3-3 1-4-4-4-3 4-4 2 0 6-4 1-3-3 0-3 4-4-3-8 0-4 3-2 0-2-12-9-4 4 9 7 0 2-6 3 3 6 0 3-3 2-9 1 2-4-2-7 4-3-9-6 1 10-9 3-3-3 2-10-5-2-4 1-2 3-5-1-1-2 6-2 2-8-3-3-6 1-6-5-5 0-2 3 0 2 8 7-2 9-4 0 0 2-3 0-6-5-8 2-2-3 0-3 2-2-2-2 0-7 1-2 3 1 3-1-4-4-6-1-1-2 1-2 6 1 2-2-2-2-6-1-1-4 5-2 4 2 3 4 2 0 3 3 8 4 4 0 4-3 8 1 1-3 10 0 3 3 2 5 5 4 2-1-5-4 1-3 5 0 16 6 1-1-1-8 1-9 5-6 8 0 0-2 5-3 9 0 4-4 2 0 5-7 4 4 3 0 1-3 3-2 5 1 4-2 7 1 4-1 6 4-1 2-3 1 1 2 2 0 7-5-2-7 6-1 2 11 3 4 4 3 6 0 1-4-2-5 2 0 6 9 10-2 2 4-4 5 16 11 1 9-4 3-2 4-4 1-1 3 6 3 9-1 1 1-1 4-5 2 0 4 5 1 2-5 4 0 3 2 1 7-1 2-7 2 0 3-4 3-1 5-2 2 1 3 6 4 5 0 3-3 10-1zM278 163l3 4 8 4 3 0 1-5 7-2 2-2-2-2-4 0-5 3-5-7-3 0zM162 163l1 5 5-2-2-3-3-1zM209 177l-1 1 2 4 3 2 1-3zM290 187l3 4 5 3 4 0-9-8zM290 203l-3 4 4 4 3 1 1-7-2-2zM154 129l3 2-2 3-2-2zM324 159l4-2 5 5 0 3-3 1-4-2zM181 198l10 1 4 3-1 4-6-1-2 2 1 6 4 6-1 1-12 0-3-4 0-2 5-2 0-2-6-5 4-2zM196 199l6-2 3 1 3 5-9 0-3-2z"/>
<path fill="#f06e0a" fill-rule="evenodd"  d="M146 147l2-2 6 0 11 12 7 0 2-5 11 2 3-3 0-6-2-5 6-10 7 0 3-5 11-1 2-3 5-2 8 1 4-2 2-5 3 0 5 7 4 0 2-6 9 7 13-2 7 7 1 4 4 4 3-1-1-6 2-1 11 9 4-1 5 2 4 5 4 2 2 4-1 4-10 2-1 4-2 1-2-1-7 1-6-4-8-1 0 5-2 1-7-6-8 1-1 1 6 3 0 3 4 5 4 2 8 1 9 10 5-1 20 1 8-3 3 2 0 3-6 1-1 4-7 10-7-1-12-10-6-2-3 7 7 3 5 4-2 3-7 1-3 3-1 4 4 5-2 2-3 0-3-3-4 0-3 2-9-1-3 2-3 0-5-4-2-7 7-2 3 3 4 1 0-4-2-2-5 1-7-4-3 1-3-2-6 0-11-6-8 1-4-3 2-5-8-8-10-6-2 2 7 9-1 2-2 0-10-12-14-9-9 2-11-4-1 8-7-2-3 1-1-1 1-2-1-9 2-2-3-3zM233 150l4 3 2-1-1-2-3-1zM245 166l5 5 1-2zM258 188l-4 4 3 5 6-3zM277 171l-2 4 6 8 5-1 0-5zM282 189l-3-3-4 0-4 2-1 2 3 2 6-1zM105 137l4-1 1 2-4 1zM114 148l1-1 6 1 2 2 0 3-3 1zM131 149l5-1 2 4-3 1zM112 161l1-1 5 1 6-1 6 4 0 3-6 1-5-4-4 0zM170 168l4-1 6 6-2 2-3 0-5-5zM307 167l2-1 3 1 1 5-3 1-3-3zM297 169l3-1 4 4-6 0zM160 174l2 4-5 2-1-4zM189 202l-4 1-1 5-2 1-3-2 0-3 4-4zM299 204l3 3 0 3-4-1-1-3zM187 218l-7 0-3-3 8-1zM254 221l5-1 1 3-4 1z"/>
<path fill="#e6141e" fill-rule="evenodd"  d="M148 147l6-1 10 11 6 2 3-1 2-5 4 0 4 2 4-1 2-6-1-9 5-8 9-2 2-4 8 0 6-5 5 0 5 2 6-5 0-3 2 0 2 2 0 3 3 2 6 0 2-4 2 0 6 5 6-2 6 0 7 6 1 5 5 4 4-1 0-6 12 8 5-1 11 9 1 6-11 2-1 4-2 1-3-1-4 1-11-5-5 0-1 1 1 4-2 0-6-5-10 1 0 3 5 2 2 5 8 6-1 6 5 8-11 5 1 3 3 2 8-2 6 3 4-1 3 1 3 4-3 2-5 0-6 8-8 5-7-1-4 2-5 0-4-4-1-5 7-1 4 3 3 0 0-3 2-3-2-3-3 0 1-4-6-7-4 1-3 8-8-4-2 3-3 0-10-6-9 0-1-1 1-5-15-13-5-1-2 2 0 2 3 3-1 1-2-4-18-12-10 1-9-4-4 0 1 7-4 1-5-3 0-6 2-2 0-3zM243 165l5 7 2 1 2-2-1-5-6-2zM263 176l-1 2 3 3 3-1-1-3zM191 137l3 4 3-1-2-4zM231 149l3 4 7-1-1-2-5-2zM269 142l-3 4 2 3 3-2zM121 163l4-2 4 2 0 4-5 0zM171 169l4-1 4 3 0 2-4 1-3-2zM279 170l2-1 4 4-3 0zM327 178l-1 3-5 1-1 4-3 3 0 3-3 3-6 0-17-14 5-1 7 1 5-2 8 1 8-3zM180 205l3-1 0 3-3 0zM282 209l3 0 3 4-4 1-2-2z"/>
</g></g>
<g fill="none" stroke="#6e6e6e" stroke-width="0.8" stroke-linejoin="round" clip-path="url(#clipd)">
<path d="M422.3 254 426.1 252.8 428.9 252.3 430.3 249.7 431.8 248 434.1 247.7 436 248.9 436.6 251.5 436 253.2 437.5 255.2 439.4 257.5 441.3 260.1 444.2 261.8 447.1 263.5 449.9 265.6 452.8 267.3 455.1 269 457 271.2 459.5 273.5 462.3 275.2 465.2 276.1 469 276.4 473.8 276.4 478.6 276.9 483.3 277.3 488.1 277.8 492.9 278.1 497.7 278.6 501.5 278.6 504.7 278.6 506.3 279.8 505.3 281.6 502.4 282.1 499.6 281.1 497.7 282.1 494.8 283.8 491.9 285 488.1 285.9 485.3 286.7 483 288.4 481.4 290.7 481.1 293.6 482.4 296.2 483.3 298.8 483 301.4 484.3 303.9 486.2 306.5 489.1 309.1 491.9 311.3 495.8 314.3 494.4 317.7 491.9 320.3 488.1 322.5 484.3 324.2 479.5 325.4 475.7 326.6 470.9 327.7 467.1 328.4 462.3 329.4 457.6 330.1 452.8 330.6 449 331.1 445.2 331.8 444.8 334.9 446.1 338.3 449 340.9 452.8 342.6 456.6 344.4 458.9 346.9 458.5 349.5 456.6 351.8 455.7 353.8 457.6 355.5 453.8 357.3 450.9 359.9 448 362.4 446.1 364.2 443.3 362.8 440.4 362.1 438.5 363.3 435.6 362.4 432.8 361.6 429.9 361.1 427 362.4 424.2 364.2 423.2 365.9 420.3 367.2 417.5 369 414.6 370.7 415.6 371.9 417.5 373.6 416.5 375.3 412.7 374.5 408.9 373.6 405.1 372.4 402.2 370.7 400.3 368.5 398.4 366.2 395.5 365.5 391.7 366.2 387.9 365.5 384.1 365 380.3 364.5 377.4 363.8 375.1 365 373.2 363.8 371.3 365 368.8 366.7 365.9 367.9 363.1 369.3 360.2 370.2 357.3 368.5 354.5 366.7 352.6 364.2 349.7 363.3 345.9 362.4 342.1 360.7 339.2 358.6 337.3 356.4 336.3 353.5 333.5 351.8 332.5 349.5 336.3 348.3 340.2 347.3 343 346.1 341.1 343.5 340.2 340.9 338.3 338.3 335.4 336.6 332.5 334.9 332 332.3 333.9 329.7 336.3 327.2 339.2 325.4 343 324.2 346.8 322.9 350.7 322 354.5 320.8 358.3 319.8 361.2 318.6 364.4 316.8 367.8 314.6 372 312.9 375.5 310.5 376.4 307.4 374.5 306.5 373.6 303.9 370.7 302.2 367.8 300.5 365 297.9 361.2 296.2 360.2 293.6 358.3 291.9 359.3 289.3 362.1 287.6 365 285.9 368.8 284.5 372 282.8 375.5 283.3 378.3 285 381.2 285 384.1 284.1 387.9 283.3 389.8 281.6 392.7 279.8 393.6 277.3 395.5 276.4 397.4 273.8 399.3 271.2 400.3 269 403.2 269.5 406 271.2 408.9 270.4 411.8 270.4 414.6 269.5 417.5 268.7 415.6 266.9 412.7 265.2 409.8 263.5 407.9 260.9 408.9 258.3 411.8 257.5 415.6 257.5 417.5 255.2 421.3 254.6 427 253.2Z"/>
<path d="M495.8 314.3 498.6 312.9 502.4 312.5 506.3 313.9 509.1 316 512 318.6 514.8 321.1 517.7 323.7 521.5 324.9 525.3 325.4"/>
<path d="M525.3 333.2 521.5 333.2 517.7 332.8 513.9 332.3 511 333.2 509.1 335.8 507.8 339.2 508.2 342.6 510.1 346.1 512 349.5 513.9 353 516.8 355.5 518.7 359 517.7 362.4 519.6 365 521.5 366.7 525.3 368.5"/>
<path d="M446.1 364.2 446.7 367.6 447.1 371.9 449 375.3 450.9 378.8 449.9 382.2 451.8 385.7 452.8 389.1 452.4 392.5 452.8 396"/>
<path d="M479.5 325.4 478.6 328.9 476.7 333.2 475.7 337.5 476.7 340.9 479.5 342.6 484.3 343.5 479.5 344.9 476.7 346.9 477.6 350.4 478.6 353.8 477.6 357.3 475.7 359.9 472.8 360.7 468.1 359.9 463.3 359 460.4 358.1 459.5 355.5 457.6 355.5"/>
</g>
<rect x="312.7" y="236.3" width="210.6" height="159.2" fill="none" stroke="#7d7d7d" stroke-width="1"/>
<path d="M308.2 252.6H312.7M308.2 292.3H312.7M308.2 332.0H312.7M308.2 371.7H312.7M337.9 395.5V399.0M379.8 395.5V399.0M421.8 395.5V399.0M463.7 395.5V399.0M505.7 395.5V399.0" stroke="#a0a0a0" stroke-width="0.7" fill="none"/>
<g font-family="Liberation Sans, sans-serif" font-size="8.8" fill="#262626">
<text x="302.7" y="255.8" text-anchor="end">41°N</text>
<text x="302.7" y="295.5" text-anchor="end">40°30'N</text>
<text x="302.7" y="335.2" text-anchor="end">40°N</text>
<text x="302.7" y="374.9" text-anchor="end">39°30'N</text>
<text x="337.9" y="412.0" text-anchor="middle">115°30'E</text>
<text x="379.8" y="412.0" text-anchor="middle">116°E</text>
<text x="421.8" y="412.0" text-anchor="middle">116°30'E</text>
<text x="463.7" y="412.0" text-anchor="middle">117°E</text>
<text x="505.7" y="412.0" text-anchor="middle">117°30'E</text>
</g>
<rect x="318.3" y="417.3" width="15.6" height="7.2" fill="#ffffff"/>
<rect x="333.7" y="417.3" width="15.6" height="7.2" fill="#e1e1e1"/>
<rect x="349.1" y="417.3" width="15.6" height="7.2" fill="#0a96e6"/>
<rect x="364.4" y="417.3" width="15.6" height="7.2" fill="#0a7dd2"/>
<rect x="379.8" y="417.3" width="15.6" height="7.2" fill="#0564b9"/>
<rect x="395.2" y="417.3" width="15.6" height="7.2" fill="#96c81e"/>
<rect x="410.6" y="417.3" width="15.6" height="7.2" fill="#28aa3c"/>
<rect x="425.9" y="417.3" width="15.6" height="7.2" fill="#14963c"/>
<rect x="441.3" y="417.3" width="15.6" height="7.2" fill="#fff01e"/>
<rect x="456.7" y="417.3" width="15.6" height="7.2" fill="#ffbe14"/>
<rect x="472.1" y="417.3" width="15.6" height="7.2" fill="#ff960a"/>
<rect x="487.4" y="417.3" width="15.6" height="7.2" fill="#f06e0a"/>
<rect x="502.8" y="417.3" width="15.6" height="7.2" fill="#e6141e"/>
<rect x="318.3" y="417.3" width="199.9" height="7.2" fill="none" stroke="#9a9a9a" stroke-width="0.5" stroke-opacity="0.6"/>
<path d="M333.7 417.3V424.5M349.1 417.3V424.5M364.4 417.3V424.5M379.8 417.3V424.5M395.2 417.3V424.5M410.6 417.3V424.5M425.9 417.3V424.5M441.3 417.3V424.5M456.7 417.3V424.5M472.1 417.3V424.5M487.4 417.3V424.5M502.8 417.3V424.5" stroke="#333" stroke-opacity="0.35" stroke-width="0.5"/>
<g font-family="Liberation Sans, sans-serif" font-size="8.8" fill="#262626" text-anchor="middle">
<text x="349.1" y="432.7">0.5</text>
<text x="379.8" y="432.7">1</text>
<text x="410.6" y="432.7">1.5</text>
<text x="441.3" y="432.7">2</text>
<text x="472.1" y="432.7">2.5</text>
<text x="502.8" y="432.7">3</text>
</g>
<text x="510.2" y="437.7" font-family="Liberation Serif, serif" font-size="12.2" fill="#1a1a1a">fl km<tspan dy="-5.4" font-size="7.3" font-weight="bold">−2</tspan></text>
<text x="479.6" y="254.7" font-family="Liberation Serif, serif" font-size="11.8" font-weight="bold" fill="#111">(d) V<tspan dy="1.6" font-size="8.2">30</tspan></text>
</g>
<g id="panel-e">
<g clip-path="url(#clipe)"><g transform="translate(58.2,453.2) scale(0.5)" stroke="none">
<path fill="#0a7dd2" fill-rule="evenodd"  d="M4 137l2-2 7 0 3 2 3 0 3-3 5-2 10-1 3 3 1 6 4 3 10-5 4 3 2 6 7 4-4-9-4-4 1-4 7 1 8-1 4 5 12 1 5-5-3-6 3-4 9 1 4-5 4-1 1-4 3-3 4-2 8 3 9 0 3 3 4 1 1-1 0-15 10-2 4 3 3 0 4-5 0-5 2-5-7-14 6 0 0-1-4-3 0-2 3-2 5 1 2-2 5 0 2 2 0 5-6 4 0 8 2 3 2 10-1 3-4 3 0 4-4 0-2 2 7 0 3 2 11-2 1-5-3-4 0-5-2-4 1-2 3 1 7 7 4-2 1-2 4 0 7 7 4 0 2-3-7-6-3-1-9 1-5-3-6 0-2-2 0-2 2-1 5 0 4 3 3 0-2-3 1-3 2 0 5 4 1-4 3-2 10 8-1 2-4-2-2 1 6 4 1 6 8 6 3 0 3-2 11-1 6-5 5 0 11 6 3 0 2 2-1 3-1-1-14 0-3 5-6 0-5-2 11 8 4 0 6-5 7-1 3-3 10 7 6 2 3 3 1 5 7 8 15-1-1-3 2-1 10 5 4 0 4-3 4 0 4 4 1 3-7 4 3 3 6 2 14 11 2-1 0-4 2-1 7 9 1 4-3 5-10 5-5 1-6 7-3 1 0 4 2 2 4 0 2 5 8 8-1 2-4-1-7-8-3 1 0 7 9 12-3 4-3-2-4 1 4 5-4 3-11 0-2 2-7-5-4 0-4 3-3 5 10 8 3-2 7 0 1 1-1 4-15-2-6-5-6-1-1 4 7 6-1 4-3 2-12 2-7-4-4 0-4-4-2 0 0 3 3 3 4 1 5 4 3 7 6 5 0 3 2 3 6-1 0-2-3-3 1-2 4 0 4 3-1 3 1 8-3 6-5-5-7-1-19-10-2-3 7-6-3-4-6-1-13-7-5 0-12-9-3 0-2 2 5 7 4 1 3 3 0 2 3 3 6 2 4-3 8 1 2 2-1 4-8-1 2 4-2 4 2 3-1 2-6 0-11 5 0 3 5 2 1 5 6 5-2 2-5 0-3-3-5-10-12-5-6 3-3-3-8-4-1-4 3-3 0-3 2-3-7-5 4-2 3-4-2-4-8-1-2 3 0 6-5 1-4-3-4-6-12-1-4-2-5-7-6-3-2-5 1-1-1-4-7-7-3 0-2 2 0 3-2 1-10-2-5 3-2 3 0 4 2 2 5 0 5-3 4 0 2 2 1 7-2 2 0 5-2 1-7-4-7-8-4 0-1 1 1 3-2 1-2-5-8-4 0-3 6-3 4 1-3-2-1-4-3-3-7-2-7-5-2 2 7 4-1 2-3-2-6-1-4-4-3 1 0 2 5 4-1 6 15 14-5 0-5-3-3 0 1 2 5 1 3 4 2 7-1 2-3 1-3-1-7-8-5 2-8-6-1 1 3 4-3 2-3 0-5-5-3-1-1-3 6 3 4-1-2-3 0-6-4-4 1-3-3-3-6-2-5-4-9-1-6 2-3 4-4 2-8 0-1-4-5-4 0-3 4-4-1-14 1-5 4-5 6-1 4-3-3-3 1-5-8-6-3 1 2 4-4 3-8-4-3 0-3-3 1-1 6 2 4-2-4-7 3-4-7-7-7-3-9 0zM201 241l1 2 4-1-2-3zM205 219l-1 5 3 2 2-2 0-3zM239 266l-9 4 2 5 5 1 2-2 1-3zM282 223l-1 2 4 4 1-3zM296 227l2 3 8 1-4-5-3-1zM318 207l2 8 2-1 0-2 3 0 3 4 2 0 0-8-3-3zM336 146l-1 2 2 6 5 2 1-2-4-6zM345 159l3 5 2 1 4-1 0-2-5-4zM48 146l3 3 6-1-2-2zM66 190l-3-4 0-3-4-2-1 2 2 4-3 3-12 1-2 1 0 2 6 4 3-1 8 1 1-3zM142 211l-4 2-7-1 0 5 6 6 2 0 0-9 5-1zM149 213l-1 1 4 3 1-2zM160 107l1 3 5-1-2-2zM297 235l1 3 2 1 3-1zM69 168l6 8 3 0 3-2-3-4-6-3zM73 177l-1 1 1 5 2 2 3 0 1-1-1-4-2-3zM62 74l3 2-2 4-3-2zM9 88l4-3 2-4 2 0 3 2 0 3 7 6 0 8 6 5 2-1-3-6 3-3 7 2 6 7 2 0 3-3-6-8 3 0 6 2 6 6 4 2 4 5-7 1-2 2-4-1-4 1 1 4 7 5 0 2-4 4-8-2-2 2-9 3-4-3 0-4-9-4-1 1-12-1-4-6-3-2 0-2 4-2 10 3-4-13-3-4-3-1zM46 82l4 0 5 4-4 1zM68 122l4-1 3 1 2 3-3 1zM18 124l3 0 5 4-1 1-5-1zM349 131l3-1 3 3-4 0zM364 145l1-1 5 1 2 3-1 1-6-1zM0 146l5 2-4 6-1 0zM4 155l4 2 0 4 4 4 0 2-3 3 0 7-2 2-7-2 0-14 3 1 3-2-2-3zM11 158l5-1 4 4-5 1zM16 168l3 0 2 2 0 3zM366 224l5 5-1 4-4 0-2-3zM330 228l1-1 2 3-2 1zM62 231l2-2 2 1-1 2zM336 235l0-2 2-1 4 2-3 2zM44 252l3 0 3-2-2-3 0-4 1-1 5 2 5-1 0-5 2-2 10 3 5 6-2 5 1 1 6-1 6 1-8 4-3 8-12-6 1-4-1-4-3 0-3 2-1 2 1 4-2 4-10 0-4-3zM163 240l5 1 6 8-1 5-5-1-6-6zM140 244l4-2 2 4-4 1zM0 245l8 7-5 5 2 2 5 2 11-1 1-2-8-6 2-5 4 0 4 3 5 0 2 2-1 5 8 8 14 1 3 4-3 3-5-1 1 3-7 3-3 5-9 0-2-2 2-4-3-3-6 2-8-7-7-3-2 2 0 9-3 5zM27 260l-1 5 3 2 2-3zM189 258l6 0 9 10 0 3-3 3 0 8-7-1-1 4-3 0-2-2 0-4 3-1 1-5 3-1 0-3-2-3-6-4zM58 261l4-1 1 4-3 0zM209 265l2-2 5 0 2 1 0 4-8 0zM57 272l1-1 4 1 5-3 7 1 2 4-1 2-6 0-5-2-6 0zM13 280l1-1 8 1 0 4 10 8-5 2-5-7-6-1-3-3zM80 280l5-1 7 2-1 6 5 8-1 2-5-1-4-4-2 0 0 3-2 2-4-1-1-6 3-3-1-4zM275 280l10 4 5 4-2 2-6-2-2-3-5-3zM298 287l1-1 11 0 4 4 3 6 9 1 1 5 4 2 2 3-4 1-5-5-4 2-10-1-3-3 0-3 2-3-4-3-3 0zM14 292l3-2 3 4-3 2zM232 296l2 1-1 6-2 0zM254 304l2-3 3 0 3 5-5 1zM228 306l1 7-3 4-2 0-2-2-1-5z"/>
<path fill="#28aa3c" fill-rule="evenodd"  d="M173 93l2-1 1 3-2 1zM255 99l1 2-5 5-2 0-1-3 4-4zM205 100l4 0 4 4 3 1 1 3-1 1-5-4-5-1zM20 101l3 0 5 3 2 4-6 1-3-3zM36 111l5-3 3 0 7 7 1 5-4 0-10-4zM56 203l10-1 6 2 1-3-5-4 0-3 2-2 5 0 3-4 5-2-1-7 3 0 3 6 5 0 2-2-2-4-6-2-6-9 5-2 6 4 7-1-3-6-6-1-3 2-2-2 2-15 10 2 2-2-1-3 1-3 6 0 3-2 19 2 2-2-5-5-9-5 0-1 6-1 3-4 12-1 5 2 4-1 3 2 3 0-1-1 1-2 4 0 4-6 6-3 10-1 6 3 4-2 11 2 1-3-2-3 2-2 2 1 5-1 6 3 3 4 10 2 3-5 9-3 14 7 6 5 5-1 5-5 8-1 6 5 10 1 1 5 6 9 2 1 14-1 4 2 1 2-1 4 2 3 6-4-1-5 7-1 2 2-1 10 2 3 0 4 10 10 0 2-5 1-3 8 6 7 0 5 2 3-1 4-5 0-2 2 0 2 4 5-2 2-7-2-22 2-1 3 10 11-1 1-7-1-2 2 1 3-2 2-5-2-8 0-4-3-10-3-2 2 1 9-6-1-2 1 4 5 1 4-6 1-3 6-8-2-8-6 3-3 8 1-1-4 1-5-3-2-7 1-4-2-5 0-1 1 5 6-5 1-2 5-5 0 3 7-1 3-3 3-2 0-8-7-7 1-3-2 3-3 10 1 4-3-5-6 4-5-3-3-10-5-13-1-2 1-2 4-8 0-1 1 2 5-2 1-9-5-4 0-2-4-7-2-2-4-4-3-8 0-9-4-7 0-7-6-10 4-1 4-3 1-6-3-4-5-5-2-5 0-6 3 5 4-1 5-6-1-2 2 5 7-1 2-3 1-7-4-4-7-6 0-3-2-8 0-2-1zM278 128l5 4 1-2-3-3zM285 205l-1 3 3 3 2 0 1-2zM319 145l-2 2 5 5 1-3zM326 175l4 4 0-2zM101 177l1 3 3-1 0-2-2-1zM105 188l-1 2 7 6 1 3 5 2-2-7-4-1-4-5zM105 174l1 3 3 1 4-1-2-4zM116 190l0 3 3 1 3-1-4-4zM119 180l1 4 9 4 1-10 1-1 7 1 9 9 4 1 9 6 0 4-5 1 2 2 5 2 5 0 5-2 0-3-7-5-1-3-5-4-3-5-5-1-2 2-4 0-3-3 2-3-2-3-10-1-5 3-2 5zM181 172l-1 3 4 1 0-3zM111 162l-1 4 2 3 2 0 2-4-2-3zM179 202l-1 3 4 1 1-3zM33 137l2 0 4 6 13 11 9 1 5 6 0 2-3 2-9 0-4-3-8-2-2-2 1-7-7-9zM354 157l1-1 4 4 6 2 1 3-3 1zM62 173l4-2 2 3-4 1zM335 211l7 2-4 3-3-3zM95 217l2-1 2 1 2 4-3 0zM216 225l1-1 4 1 4 4-3 4-3 0zM100 228l3 1-2 3-2-2zM231 254l4-2 3 3-2 3-2 0zM248 263l5 0 2 5-4 3-4-2zM17 268l1-1 2 1 1 3-3 0z"/>
<path fill="#ffbe14" fill-rule="evenodd"  d="M41 112l4-1 4 4-1 3-6-3zM113 143l2-1 1 1 11 0 4-2 1-2-5-6 3-1 10 1-1-4 7 1 5 4 7-3 2 3 0 4 1 1 4-1 2-3 0-5-4-10 2-4 3-2 8 0 3 2 4 0 3-2 6 2 6 0 2-2 3 0 5 3 6-1 11 1 6-6 4-1 12 6 7 8 8-4 4-5 6 0 3 3 0 3-4 4-1 10 5 5 8 3 1-4 4-1 1-7 3 0 6 4 12-1 4 3 0 9 5 7 1 4 6 2 8 7-4 6-7 0-1 2 7 10 6 1 4 4-5 2-3 3-2 5-6 2-10 0-1 1-7-1-4 4 5 7-3 6 1 2-1 2-3-2-1-4-2-1 1 3-1 1-5-1 0-2 3-2-1-4 1-2 2 0-3 0-9-6-4 0-3 4-4 2 3 7-2 3 0 5-2 2-14-5-4 1-13-1-8-8-1 1 2 4 0 4-4 1-14-8-2-7-5 6-3 0-5-10-5-3-1 2 6 7 0 2-10-3-2 2 1 1-1 5-10-1-3-3 4-3 5-1 0-6 6-3-5-4-2 0-3 4-6 0-3-4-5-3-2-4-6-4-3-6-8-3-6-5-8 0-5-4-2 1 0 3-8-1-2-3-1-6 3-2 4 0-4-8zM258 136l0 2 3 2 3-2-3-3zM303 195l-2 1 1 4 3-1zM137 160l-1 3 4 2 0-3zM168 164l-1 4 6 7 0 2-4 3 2 2 7 2 1-2-3-4 2-1 10 3 1-9-3-3-12-6zM325 146l2-1 4 5-3 1zM99 153l2-4 5 1-2 3zM52 160l4-1 3 1 1 2-5 1zM105 162l2 1 2 4-1 4-3 0-3-3zM110 181l4 0 2 2 0 2-3 3-4-1-1-2zM135 182l3 0 8 7-2 5 12 11-1 1-3 0-5-4-7 1-3-3-4-12 0-3zM100 186l1 4-7 6-5 0-4 3 0 2 5 4-1 2-5 1 0 3 4 5-1 2-2 0-3-3 0-6-5-4-1-5-5-5 2-1 6 1 3-4 8 1 1-5zM122 188l7 3 1 2-6-2zM264 231l2-2 5 5-2 1zM231 238l2 1 0 3-3-1z"/>
<path fill="#e6141e" fill-rule="evenodd"  d="M130 152l4-6 7-6 10 1 6 4 6-1 4-3 6 0-2-5 1-5 5 7 5 1-1-18 6-4 9 2 5-2 7 2 10-1 9 5 1 4 4 3 0 2-5-1-1 2 6 3 6 9 4 0 5-4 6 0 5 3 2 4-1 2-9-2-4 4-4 0-4 2 4 5 4 2 4-1 1-6 6-1 7 4 1-5 5-2 1-2 9 2 6 4 3-3 1-8 6-2 5 7 11 2 3 2 0 5 5 5 1 6-7 4-6-7-3-1-4 3-1 3-9 0-4 2-30-7 0 2 7 3 4 4 3 6-1 2-7-2-10 0-4-3-5-1-10-12-9-1-2-5 1-5-1-4-6-6-4 0-7-5-2 0-3 3-5 0-5-4-3 1 4 5-1 3-8-3-4 2-3 6-7-2 0 4 5 5-13-2-2 4 0 4-8-5-7 1-7-4-4 1-2-1zM239 127l4-3 8 6 5 0 0 2-5 0-3 3-5 1-3-2zM223 174l2-2 3 1 4 4 0 2-6 1zM202 175l6 1-1 5 7 5 0 5-5 0-7-5 0-2 3-3zM296 201l-5 1-6-3-7-1-4 4-4 0-10-5 1-3-1-4-2 0-1 4-3 1-10-6-1-3 6-3 4 0 8 4 6-1 1 5 4 3 3 0 0-3-5-5 0-2 7-2 2-3 12-4 5 6 1 10-7 1-1 3 5 3zM301 179l5-1 4 2 5-6 3 1 5 4 3 11-5 1-10-6-5 1-5-4zM174 189l3-1 3 2 0 2-3 2-3-3zM219 197l1-1 3 1 1 3-4 0zM226 202l4 0 6-3 7 0 6 5 0 2-2 3-4 1-7-4-6 1-4-3zM224 212l2 0 3 3-2 1z"/>
</g></g>
<g fill="none" stroke="#6e6e6e" stroke-width="0.8" stroke-linejoin="round" clip-path="url(#clipe)">
<path d="M167.9 471.8 171.7 470.5 174.5 470 175.9 467.3 177.4 465.5 179.7 465.1 181.6 466.4 182.2 469.1 181.6 470.9 183.1 473 185.1 475.4 187 478.1 189.8 479.9 192.7 481.7 195.6 483.9 198.4 485.7 200.7 487.5 202.6 489.8 205.1 492.2 208 494 210.9 494.9 214.7 495.2 219.5 495.2 224.2 495.8 229 496.1 233.8 496.7 238.6 497 243.3 497.6 247.2 497.6 250.4 497.6 251.9 498.8 251 500.6 248.1 501.2 245.2 500.1 243.3 501.2 240.5 503 237.6 504.2 233.8 505.1 230.9 506 228.6 507.8 227.1 510.2 226.7 513.2 228.1 516 229 518.7 228.6 521.4 230 524.1 231.9 526.8 234.7 529.5 237.6 531.8 241.4 534.9 240.1 538.5 237.6 541.2 233.8 543.5 230 545.3 225.2 546.6 221.4 547.9 216.6 548.9 212.8 549.7 208 550.7 203.2 551.5 198.4 552 194.6 552.5 190.8 553.3 190.4 556.5 191.7 560.1 194.6 562.8 198.4 564.6 202.3 566.4 204.5 569.1 204.2 571.8 202.3 574.2 201.3 576.3 203.2 578.1 199.4 579.9 196.5 582.6 193.7 585.4 191.7 587.2 188.9 585.7 186 585 184.1 586.3 181.2 585.4 178.4 584.5 175.5 583.9 172.6 585.4 169.8 587.2 168.8 589 165.9 590.4 163.1 592.2 160.2 594 161.2 595.3 163.1 597.1 162.1 598.9 158.3 598 154.5 597.1 150.7 595.8 147.8 594 145.9 591.7 144 589.3 141.1 588.6 137.3 589.3 133.5 588.6 129.6 588.1 125.8 587.5 123 586.8 120.7 588.1 118.7 586.8 116.8 588.1 114.4 589.9 111.5 591.1 108.6 592.6 105.8 593.5 102.9 591.7 100 589.9 98.1 587.2 95.2 586.3 91.4 585.4 87.6 583.6 84.7 581.4 82.8 579 81.9 576 79 574.2 78 571.8 81.9 570.6 85.7 569.5 88.6 568.2 86.6 565.5 85.7 562.8 83.8 560.1 80.9 558.3 78 556.5 77.5 553.8 79.4 551.1 81.9 548.4 84.7 546.6 88.6 545.3 92.4 543.9 96.2 543 100 541.7 103.8 540.6 106.7 539.4 110 537.6 113.4 535.2 117.6 533.4 121 530.9 122 527.7 120.1 526.8 119.1 524.1 116.3 522.3 113.4 520.5 110.5 517.8 106.7 516 105.8 513.2 103.8 511.4 104.8 508.7 107.7 506.9 110.5 505.1 114.4 503.7 117.6 501.9 121 502.4 123.9 504.2 126.8 504.2 129.6 503.3 133.5 502.4 135.4 500.6 138.2 498.8 139.2 496.1 141.1 495.2 143 492.5 144.9 489.8 145.9 487.5 148.7 488 151.6 489.8 154.5 488.9 157.3 488.9 160.2 488 163.1 487.1 161.2 485.3 158.3 483.5 155.4 481.7 153.5 479 154.5 476.3 157.3 475.4 161.2 475.4 163.1 473 166.9 472.3 172.6 470.9Z"/>
<path d="M241.4 534.9 244.3 533.4 248.1 533.1 251.9 534.5 254.8 536.7 257.7 539.4 260.5 542.1 263.4 544.8 267.2 546.1 271 546.6"/>
<path d="M271 554.7 267.2 554.7 263.4 554.3 259.6 553.8 256.7 554.7 254.8 557.4 253.5 561 253.8 564.6 255.8 568.2 257.7 571.8 259.6 575.4 262.4 578.1 264.4 581.7 263.4 585.4 265.3 588.1 267.2 589.9 271 591.7"/>
<path d="M191.7 587.2 192.3 590.8 192.7 595.3 194.6 598.9 196.5 602.5 195.6 606.1 197.5 609.7 198.4 613.3 198 616.9 198.4 620.5"/>
<path d="M225.2 546.6 224.2 550.2 222.3 554.7 221.4 559.2 222.3 562.8 225.2 564.6 230 565.5 225.2 567 222.3 569.1 223.3 572.7 224.2 576.3 223.3 579.9 221.4 582.6 218.5 583.6 213.7 582.6 208.9 581.7 206.1 580.8 205.1 578.1 203.2 578.1"/>
</g>
<rect x="58.2" y="453.2" width="210.8" height="166.8" fill="none" stroke="#7d7d7d" stroke-width="1"/>
<path d="M53.7 470.3H58.2M53.7 511.9H58.2M53.7 553.4H58.2M53.7 595.0H58.2M83.4 620V623.5M125.4 620V623.5M167.4 620V623.5M209.4 620V623.5M251.4 620V623.5" stroke="#a0a0a0" stroke-width="0.7" fill="none"/>
<g font-family="Liberation Sans, sans-serif" font-size="8.8" fill="#262626">
<text x="48.2" y="473.5" text-anchor="end">41°N</text>
<text x="48.2" y="515.1" text-anchor="end">40°30'N</text>
<text x="48.2" y="556.6" text-anchor="end">40°N</text>
<text x="48.2" y="598.2" text-anchor="end">39°30'N</text>
<text x="83.4" y="637.6" text-anchor="middle">115°30'E</text>
<text x="125.4" y="637.6" text-anchor="middle">116°E</text>
<text x="167.4" y="637.6" text-anchor="middle">116°30'E</text>
<text x="209.4" y="637.6" text-anchor="middle">117°E</text>
<text x="251.4" y="637.6" text-anchor="middle">117°30'E</text>
</g>
<rect x="64.0" y="643.3" width="15.5" height="8.2" fill="#ffffff"/>
<rect x="79.3" y="643.3" width="15.5" height="8.2" fill="#e1e1e1"/>
<rect x="94.6" y="643.3" width="15.5" height="8.2" fill="#0a96e6"/>
<rect x="109.9" y="643.3" width="15.5" height="8.2" fill="#0a7dd2"/>
<rect x="125.3" y="643.3" width="15.5" height="8.2" fill="#0564b9"/>
<rect x="140.6" y="643.3" width="15.5" height="8.2" fill="#96c81e"/>
<rect x="155.9" y="643.3" width="15.5" height="8.2" fill="#28aa3c"/>
<rect x="171.2" y="643.3" width="15.5" height="8.2" fill="#14963c"/>
<rect x="186.5" y="643.3" width="15.5" height="8.2" fill="#fff01e"/>
<rect x="201.8" y="643.3" width="15.5" height="8.2" fill="#ffbe14"/>
<rect x="217.2" y="643.3" width="15.5" height="8.2" fill="#ff960a"/>
<rect x="232.5" y="643.3" width="15.5" height="8.2" fill="#f06e0a"/>
<rect x="247.8" y="643.3" width="15.5" height="8.2" fill="#e6141e"/>
<rect x="64" y="643.3" width="199.1" height="8.2" fill="none" stroke="#9a9a9a" stroke-width="0.5" stroke-opacity="0.6"/>
<path d="M79.3 643.3V651.5M94.6 643.3V651.5M109.9 643.3V651.5M125.3 643.3V651.5M140.6 643.3V651.5M155.9 643.3V651.5M171.2 643.3V651.5M186.5 643.3V651.5M201.8 643.3V651.5M217.2 643.3V651.5M232.5 643.3V651.5M247.8 643.3V651.5" stroke="#333" stroke-opacity="0.35" stroke-width="0.5"/>
<g font-family="Liberation Sans, sans-serif" font-size="8.8" fill="#262626" text-anchor="middle">
<text x="94.6" y="660.5">0.5</text>
<text x="125.3" y="660.5">1</text>
<text x="155.9" y="660.5">1.5</text>
<text x="186.5" y="660.5">2</text>
<text x="217.2" y="660.5">2.5</text>
<text x="247.8" y="660.5">3</text>
</g>
<text x="260.2" y="664.9" font-family="Liberation Serif, serif" font-size="12.2" fill="#1a1a1a">fl km<tspan dy="-5.4" font-size="7.3" font-weight="bold">−2</tspan></text>
<text x="228.2" y="471.5" font-family="Liberation Serif, serif" font-size="11.8" font-weight="bold" fill="#111">(e) V<tspan dy="1.6" font-size="8.2">35</tspan></text>
</g>
<g id="panel-f">
<g clip-path="url(#clipf)"><g transform="translate(313.6,453.2) scale(0.5)" stroke="none">
<path fill="#0a96e6" fill-rule="evenodd"  d="M16 66l4-1 4 2 2 4 2 0-3-4 1-1 9-1 9 7 6 0 2 5-6 0-9-7-5 2 4 5-2 3 0 3 3 3 5-5 3 0 5 3 4 0 3-2 10 7 4-2 4 1 2 2-2 4 0 8 2 3-1 3 1 3 4 0 5-7-4-5 0-3-3-4 2-3 7-5 6 1 9-1 5 2 1-1-1-7 6 2 2 2 0 3-3 2-5 0-2 3 0 3 3 2 6 0 4 4-4 3-9-1-3 3 3 6-8 8-3 1 0 2 8 5 2 3 6-5 2-4 11 1 4-2-4-7 3-3 0-6-4-7 1-3 2 0 8 8 7 0 1-2-1-6-3-3-7-2-2-2 4-4 0-2-11-4-2-2 1-1 8-1 5 2 3 4 0 4 3 3 9 4 5-2 6 0 3-2 0-2-4-4 0-6-5-6-9-1-4 4-3 0-5-9 5-5 5 1 2 2 0 3 5 4 4-1 8 3 1-3-8-5-2-4 1-1 5 1 9-1 2 2 0 5 3 0 4 3 1 7-9 1-1 2 1 3-4 5 5 4 11 2 10 9 8 0 1-1-1-4 2-1 4 2 5 6 8 0 8 4 9 0 4 2 28 0 7 4 3 0 4-4 3-1 14-1 4 3 7 0 6 3 7-2 9 8 0 1-5-1-4 1-1 4 6 4 6 0 6 5 4 0 5 5 8 0 4 2 7 12-5 2 3 5 12 6 2 4 1 12-3 2-10-1-3 2 1 8 2 4 7 6 1 3-5 0-5-2-3 3 1 3-4 5 3 2 4 0-1 6-8-4-7 7-4 2-10-2-2-4-5 1-4 5 0 2 3 5 7 6 1 4-1 2-8-3-7-8-9-3-10-7-2 1 4 8-1 5 3 6 6 7-1 2 1 8-4 3-6-1-5-7-5-1-3-3 0-4-4-5-5 0-4-2-6 1 5 7-1 1-5 0-3-2-2-4-7 0-1 3 4 6 8 1 8 6 5 2 5 6 3 0 8-4 4 6-4 2 0 3-4-1-8 1-4-3-1-4-4-2-5 5 4 4 1 7-3 1-15-12-4 0-2 2-5-6-5-1-2 2 3 6 21 9 8 8-4 3-7-1-3 8-10 8-3 0-6-4 0 4-3 1-6-7 4-4-7-8-5 0-4-2-1-6-4-8-5-1-5 5 5 9-1 1-6-5 1-6-5-5 5-2 0-3-19-15 2-3 5 0 1-3-3-6-5-3-4-5 1-2 4-2 0-2-5-7-14 1-3-2-5 1-11-1-5 3-7-4-2 5 11 11 1 4-5 1-5-9-14-1-1 3-4 3 1 2-1 7-4 0-12-3-1-1 1-3-4-4 0-5-2-2-6-1-3 2-4 0-4-4 0-7-3-3-6-2 1-4-8-10 2-2 10-1 3 3 6-2-10-4-6-6-3-1-1-8-3-4-8 1 3 3 1 5-7 4 6 4 0 6 3 3-3 4-2-1-2-4-11 1-9-10-4 0-4 7 0 3-5 3-10-5-5-1 0-26 1-1-1-10 3-2 0-3-3-3 0-55 14 10 4 0 2-2-2-10 5-3 0-3-6-5-4-10zM192 221l-1 3 3 3 3 0 2-2-3-4zM222 239l-1 4 4 3 3 0 1-4-3-4zM245 247l-1 2-6 1-1 2 2 3 7 4 5-3 1-3-4-5zM247 223l2 3 3 0 3 2 1-1 0-3-2-2zM286 221l-4 2 0 2 3 2 3-4zM289 244l0 2 3 3 7 4 5 0 4-2-5-7-8-5-2 0zM341 137l-3 2-4 0-1 4 2 2 3 0 4-5zM367 169l0 3 3 2 1-2zM243 296l0 2 3 2 0-3zM247 283l4 3 3 0-4-4zM6 141l0 5 5 4-1 6 3 3 7-1 1 1-3 3 10 7 5-1 6 3 4-2-4-4-6-1-3-2-1-2 1-8-8-6 1-4 6-1 3 2 0 6 2 2 3 0 2-2-2-6 3-4 3-1-3-3-17-2-11 7zM37 93l2 4 3 0 2-2-5-3zM55 131l0 3 4 7 10 0 5-4 0-3-3-3-9 1-3-3zM86 121l0 3 5 3-7 1-1 5 5 5 6 1 5 4 5 1 3-4-9-5 0-4-5-8zM111 213l-1 3 2 2 4 1 2-2-3-3zM128 110l2 4 2 1 3-1 0-3-2-2zM253 235l4 4 2-1 4 3 4-1-2-5-4-3-5-1zM14 189l-1 3 2 2 4 0-1-3zM17 168l2 3 3-1-1-2zM32 174l0 4 2 3 8 3 3-1-12-10zM83 191l2 1 7-3 1-2-2-2-6 1-2 2zM175 77l9-1 9 7 8 4 7-1 1 2-8-1-3 4-3 0-4-4-3 0-7-6-4-1zM370 139l3-1 3 1 0 2zM16 148l3-1 2 1 0 2-3 1zM22 216l6-4 6-1 1-6 2-2 9 1 5 4 4-1 10 3 2 2-1 3-6 0-6 3-5-1-6-5-12 1-1 5zM156 228l2-2 5 3 3 0 1-1-1-8 4 1 6 8-1 5 6 2 2 3-1 7-4 0-9-8-5-1-3-5zM387 230l-2 2-5 0-5-3-1-3 11-4zM0 227l8 1 6 4 8 0 7-3 8 3 3-4 6 0 6 3 2-3 6 8 7 0 4 4 0 2-3 3 0 4 8 5 0 6 3 3 1 8 10 10 0 2 5 5 1 4-4 3-3 0-7-4-2 1 0 2 5 5-7 1-6-5 1-8 1-1 5 1 2-2-5-5-9-1-4 2-4 0-4-3-3 0-6 4-3 0-1 2 4 5 1 5 8 7-2 2-5 1-10-2-2-2 1-7-2-2-4 1-2 7-4 2-2-2 0-7 1-2 4-2 0-4-2-4-9-9-6 5-11-3zM3 252l-1 1 1 3 3 1 4 6 2 0 2-2-1-3-7-6zM21 254l-2 4 5 1 0-3zM39 265l-2 1 2 5-6 1-3 2 2 5 4 3 9-6-1-7zM50 271l1 2 2 1 1-1-1-2-2-1zM390 230l2-1 4 1 4 3 0 3-7-1-3-3zM147 232l4 2 4 8 5 2 3 3 0 5 4 2 2 3-1 3-2 1-3-1-4-4-6-2-3-6-3 0-3-2 0-5 4-2 0-3-2-2zM309 236l3-2 4 4-4 2zM89 244l1-1 3 1 5 5-1 1-3-1zM129 253l4-3 1-3 3 0 7 11-8 1-5-2zM112 248l5-1 2 3-4 2zM327 252l4 0 2 4-3 1zM107 253l3 0 2 3-3 0zM95 256l2-2 3 1-1 2zM185 266l4-1 6 5-2 2-5 0-3-3zM311 276l3 1 0 4-3-1-1-2zM279 281l4 0 3 3 1 4 3 2 1 5-2 2-6-6-3 1-2-1 2-3-2-5zM48 286l7-1 1 3-6 1zM324 291l2 3-1 2-2 0zM302 298l9-1 4 3 5 1 2 4-2 2-4 0-3-2-7 2zM333 305l4 3-2 1zM281 312l-3 4-9-1 0-2 6-1 2-2zM321 313l6-2 4 3 1 3 3-1 1 3-4-2-6 0z"/>
<path fill="#0a7dd2" fill-rule="evenodd"  d="M169 68l4-1 1 3zM20 76l1-1 2 1 2 4-3 0zM49 89l2-2 8-2 7 6 5 0 1 6-10-2-1 3-3 1-5-4zM98 88l4-1 1 3-4 0zM142 89l5 1 2 4-4 0-3-3zM92 90l5 4 1 3-3 4 7 8-4 2-2 4-6 2-3-1-2-3 7-8 2-5-9-6 0-3zM158 92l-4 4 0 4-2 1-3-3 1-4 4-3zM34 157l1-2 6-3 1-8 4 0 4 2 2 5 3 2-1-4 1-2 9-1 8 8 4-2 0-3-4-4 1-2 6 1 3-2 11-1 8 5 3 0 5-4-1-7 1-3 4-4 0-5 2-2 8 2 5-1 7 2 1-6 4-3 7 4 5-1 0-3-6-6-7 1-6-4-2-3 10 1 3 2 8-2 2 1 3 7 2 1 2-3-2-4 0-3 2-3-2-7 3-2 5 2 1-2 6 2 7-1 9 8 16 0 3 2 8 0 5 3 8 0 10 3 27 0 8 4 3 0 12-5 4 0 4 3 10 0 10 14 9 4 6 0 2 2 0 4-5 1 1 8 4 4 5 0 6-7 2 2-1 7-8 9 3 3 3 0 6-3 6-1 0 7 3 5-1 3 2 3-1 6 3 5 3 10-5 3-5 0-6-7-3 0-9 4-3 3-1 6-4 4-3-1-7 1-4-2-10 1-1 3 2 2-5 2-7 7-8-4-6 0-5 5-8-3-4 0-2 2 5 6 0 2-4-2-6-7-6-2-7 0-7-4-1 1 1 6 13 7 1 2 0 8-3 3-6-1-6-6-2 1-1 3-2 0-6-6-6 4-10-2 4 7-1 6 5 3 4 5 4 1 3-4 0-3 3 1-1 2 3 3 7 3 0 2-4 3 0 4-2 0-4-5-4 3 0 3 7 4 15 5-7 3-5 0-2 4 5 5-5 2-1-3-7-8-1-6-5-4 1-5-6-11-9 1-5 5-3-2 1-4-5-4-1-6 6-1 0-2-5-5 0-5 7-5 0-3-4-5-3-2-4 0-3 3-6-6-13 1-11-2-3 2-15 0-5-4-7 2-7-7-4 1 2 3-1 1-6-5-9 1-4-2-6 1-4-3 1-4-1-5 10-1 0-3-5-7-3-1-7 2-4 5-8-2-8-7-1-9-8-14-3-1-4 1-2 7-10-4zM283 117l4 4 3-1-3-4zM349 180l1 3 4-1-2-2zM74 159l-2 4 3 3 4 1 2-2zM124 191l1 4 2 1 2-1-2-4zM134 200l-3 3 3 4 2 0 0-6zM165 98l-2 2 1 6 8 3 1-4-6-7zM0 95l10 9-2 5 3 3 6 2 4 4 3-1 0-3-3-2-1-7 3-4-1-5 11-2 1 3 5 3 9 0 6 5 1 4 5-2 10 1 13 17-4 7-2 1-4-4-1-4-6-6 1-3-1-1-1 1-7-1-1 3 4 6 5 0 2 2-1 1-19-4-1 1 3 4-4 0-2 4-3-2-4 1-16-1-10 7-4 1-4-2-1 1 1 3-1 2-2 0 0-7 1 1-1-3zM26 113l2 2 4-1-1-3-4 0zM349 138l8 1 3 3 0 3-2 1-3-5-5-1zM357 147l4 7-3 3-2-3zM5 168l7 4-3 3 0 4 2 2-2 13-9-4 0-5 5-3 0-5-3-5zM29 176l-1 4-2 2-6 1-1-7 6-3zM43 175l4-1 2 4-3 1zM374 177l1-3 3 1-1 2zM37 187l4 0 1 2-1 1zM344 202l6-3 3 0 2 2 0 4-10-1zM84 206l3 0 8 8 3 0 1-2 5 0 3 3 0 3-3 5 6 5 1 5-1 5-6 0-3-3 0-2 4-2 0-3-12-13-6 0-2-2-2-5zM344 214l3-2 4 0 1 4-5 1zM328 214l0 2-4 4-7-1-4 8-5-2-3-3 8-1 2-2 0-3zM86 220l-5 3-2-1 4-4zM0 230l4 3 6-1 5 9-5 2-2 3-3-1-1-3-4-4zM18 242l8-3-2-4 3-3 5 1 5 5 2 0 5-6 3 0 8 8-3 1-1 2 4 4 5 2 3 4 6 0 2 3-2 3-6-3-4 0-2 5-9-1-7-4-5 0-6 4-4-5 0-3 9-1-2-2-6-1zM255 256l1-1 4 2 4-2 5 1 2 2 0 4-2 2-4 0-4-4-5-2zM306 256l1 1-3 2-1-2zM68 267l1-1 5 1 5 7-3 0-6-4zM82 279l3 1 1 2-1 2-4-3zM260 284l3 0 3 4-3 0zM86 288l2-1 3 3-2 1zM306 300l3-1 3 2-5 1z"/>
<path fill="#96c81e" fill-rule="evenodd"  d="M50 89l2-2 8-1 7 6 3 0 2 3-3 1-7-2-4 4-3-2zM143 90l1-1 2 1 1 3-2 0zM87 92l6-1 4 5-3 2-4-2zM35 157l6-4 2-9 4 1 7 9 3-1-1-5 8-1 9 8 0 4-2 4 3 3 6 2 2-2-7-10 2-6-4-5 1-1 4 1 6-3 11 0 7 5 2 0 5-5-1-5 2-5 4-3-1-2 1-5 16 1 5 2 2-2 0-5 3-2 8 4 4-1 1-5-6-6 3-3 4 2 1 6 6 3 1-5 6-3 5 2 2-3-6-7-1-3 3-3 10-1 6 6 4 2 8-1 9 2 8 0 5 3 14 1 4 2 30 1 7 4 13-5 5 0 5 3 8 0 7 7 4 7 10 4 4-1 2 2 0 4-3 0-3-2 3 12 2 2 6 2 5-6 2-1 2 4-4 7-7 5 5 5 3 0 5-3 5 0 1 6 2 3-1 4 3 3-1 6 3 4 3 11-3 2-6 0-5-6-4-1-11 4-3 3 0 7-4 3-1-1-7 1-5-3-4 2-6 0-2 2 0 4-10 8-6-3-2-4 0 2-8 2-2 4-12-3-3 3 2 4-7-6-6-2-7 0-7-4-1 3 2 6 13 8-1 9-6 1-4-4-1-3-5-2-1 1 1 4-3 1-4-5 1-1-1-3-2 0-1 4-3 3-5 0-5-3-3 0 5 8-2 6 4 5 2 0 8 6 6-3 8 4-3 5-6-3-6 5-4-5-1-5-3-3-13 3-7-5 0-6 7-1-7-8 0-3 7-6 0-3-7-7-6-1-3 2-7-6-4 2-20-1-3 2-10 0-4-2-2-3 2-5-3-7-3 0-2 4 2 7-3 3-2 0-8-8-4 2-4-1-10 1-3-2-2-4-7-4 2-3 3 1 5-1-3-8-3-3-11 2-2 4-7-1-4-2-6-6-1-4 2-3-4-4-3-9-2-2-7-1-2 1 0 3-2 2-8-3zM281 117l5 4 3 1 3-1-5-6zM348 180l3 4 5-2-5-3zM123 190l0 4 4 3 4-1-3-5-4-2zM175 118l-2 0-1 2 2 1zM0 97l2 0 7 7-2 5 14 10 3 0 2-3 6-1 3-3-1-2-7 0-2 2-3-1-1-7 2-2 0-6 4 0 5 3 5 0 3 2 7 0 4 3 1 4 3 3 3 0 3-3 9 1 4 7 8 8 0 2-5 6-3-4 0-3-6-5 1-4-4-3-4 2-12-2-2 1 0 3 2 1 2-4 3 0 5 9-1 2-4-1-5-4-4 3 0 2-4 4-3 1-18-1-3 3-5 1-3 4-3 0-6-5 0-17 1-1zM11 122l1 3 4 1 4-1-4-5zM100 108l-7 7-4 1-3-2 8-11zM133 104l6 0 4 2 0 2-4 1zM4 170l2-1 3 3-3 3-2-2zM21 176l5-2 2 4-3 3-2 0-2-2zM0 186l8-3 2 4 0 4-2 2-8-4zM349 202l3-2 2 3-3 1zM89 202l1-1 3 4-3-1zM86 207l5 5 0 2-3 0-3-4zM104 213l2 4-4 5-2 0-3-3 0-2 4-4zM345 214l6-1 1 2-5 1zM321 217l5-1-1 2zM307 222l1-1 4 1 1 3-2 1zM106 226l3 2 1 6-1 3-2 1-5-3 4-4-1-4zM0 231l7 4 3-1 3 7-7 2-6-6zM21 242l6-1 0-3-2-3 1-2 5 0 6 6 3 0 2-4 4-1 4 4-2 4 7 6 5 2 2 3-5 3-1 4-8-1-9-4-3 0-3 3-3 0-3-3 1-3 8 1 1-2-4-3-6-1zM65 255l4-1 0 3-3 0zM261 258l5-2 4 3 0 3-3 2zM69 268l3-1 3 3-3 0zM222 271l5-1 9 6 8 2-3 2-6 0-3 6-6-6 1-3z"/>
<path fill="#28aa3c" fill-rule="evenodd"  d="M64 177l8-1 1-7 3 0 12 5 0-2-4-5 0-3-4-5 2-5-3-4 0-3 4-3 13 0 6 5 4 1 1-4 4-3 0-7 1-1 6 1 6-7-2-2-6 0-1-2 1-2 6 2 4-1 3 1 2 4 4 2 3-2 3-10 7 3 6-1 3-3 4 0 12 6 3 0 3-2 0-4-2-2 0-5 2-2 3 1 7 8 4 0-9-11-7-2-5-4-1-2 2-2 7 0 11 8 7-4 5 2 12 0 8 4 11 0 4 2 12 14 14-1 3-6-1-5 4 0 5 4-1 6 1 3 3 0 1-3 5 0 9 4 3-1 2-2-6-4-2-5 1-3 2 0 5 5 6 0 6 2 7 11 4 1 5 7-4 1-6-5-6 7 1 3 4 4 3 0 1-1-1-3 2-1 9 2 3 5-6 2-2 2 0 4 2 2 6-1 4 2 15 13 3 5-7 1-2 3 6 5 8-1 3 6 0 4-3 2-10-8-12 2-5 4-5 0-1 3 3 5-6 2-5-2-13 2-6 9-5 0-8-4-3 0-3 4-3 0-3-2 0-5-10-5-1 1 1 8 6 5-1 2-12 1-10-5-5 1-4-3-4 0-2 1 1 6-8-1-4 2 0 5-2 2-7-6-13-3-4-4-7-2-4-6-10 2-3 3-4 0-6-5-2 0 3 4-8 1-2 2-7 0-2-1 0-4-3-3-2-6 1-6 2-3-2-3-5 0-4 3-14-7-1 5-6-1-4 4-3 0-4-6 6-2-4-3-11 0-5 2-7-4-4 0-1 4-2 1zM195 207l3 2 7 1 4-1-3-4-3 1-5-1zM212 195l0 2 4 4 5-4-3-3zM333 177l4 4 4-1-3-4zM104 155l-1 3 2 2 1 5 3 2 5 0 2 2 0 3 3 1 3-3-1-3-10-6-5-6zM149 200l2 3 6 1-4-5zM163 161l2 2 10 1-3-3-5-1zM174 171l-1 1 1 10 2 1 3-3-2-7zM24 105l3-2 0-2 11 1 4 5-2 2-6-3-4 0-4 2-2-1zM245 110l1-1 9 1 4 4 0 2-5 1-7-4zM167 112l3 0 1 3-3 1zM7 114l5 2-4 1zM29 118l5-2 5 2-3 4 0 5-4 0-2-2-2-5zM332 149l5 0 3 3-2 1-4-1zM60 150l5 0 5 5-2 4 1 5-1 4-4 0-3-4zM44 151l2-1 2 3-4 1zM350 162l3 2 1 3-2 3-4-6zM107 201l4-1 1 2-5 0zM234 224l6 3 1 2-1 1-4-1-2-2zM204 227l1-2 2 0 6 4 6-1 1 4-3 2zM244 232l4 2-1 3-3-2zM198 235l4-2 7 7-1 3-5-1-4-4zM198 249l7-1 3 3-2 2-6-1zM41 252l3-3 5 0 3 6-7 1z"/>
<path fill="#fff01e" fill-rule="evenodd"  d="M81 147l2-2 5 1 8-1 8 7-4 3 0 3 5 8 3 2 3 0 3 3-1 2 1 1 6 1 3-4 0-3-6-8-6-1-3-5 1-2 5 0 4 4 2 0 2-11-1-3-2 0-1 4-5 0-2 2-2-1 3-3 1-7 6 0 8-7 11 2 3-6 3 0 2-3 3-1 6 0 4-3 8 2 9 5 3-1 2-2 0-3-2-3 1-5 10 8 6-1-2-4-9-9-6-3-3 0-3-3 2-2 11 4 5 5 2 0 2-4 4-1 4 2 14 0 6 4 4-1 8 1 4 3 4 7 8 6 14-1 5-2 4 4 5 0 2-3 3 0 10 4 4-2 4 0 1-1-3-4 2-2 3 0 4 2 6 8-1 6-6 4 1 5 5 5 8 4 2 8 12 1 11 10 4 6-6 2-9-4-8 2 8 6 9 1 4 4-6 3-5-1-6 5-5 0-2 2 1 4-1 3-12-1-9 2-5 6-5 1 0-3-12-11-5 6-4 1-8-4-3 1 0 10 6 5-1 1-2-1-10 1-9-6-6 1-15-2-2 4-4 2-3 5-7-3-10-2-4-4-5-2-4-5-3-1-5 2-6 0-4 3-9-5-6-6-4 0-2 2 4 6 3-1 3 1 2 3-6 0-2 2-3 0-8-8 0-6 3-8-5-5-6 2-1 2-4 0-8-6-14 0-5-3-9-1-1-1 1-5-5-4-2-5 2-7-5-6zM191 206l2 3 12 3 8-1-1-1 1-6-9-7-5 1 3 4-1 2-6 0zM209 195l5 7 7 3 2-1-1-1 1-3 3 0 6 3 2-1 0-2-3-3-5-1-5-3-10 0zM233 163l0 3 2 1 3-1-3-3zM94 169l0 2 6-1-3-3zM134 165l3 5 10-1-7-5zM149 170l1 5 2 2 6-1-4-6-2-1zM162 159l-1 3 3 3 5 0 2 2-1 3 1 11-1 1 3 3 10 0 2-4-4-3-4-7 1-8-6-3zM192 158l1 2 3 0-1-3zM140 176l-2-5-3 0-6 3 3 4zM161 168l0 2 2 1 5-1-4-4zM247 111l4-1 4 2 2 3-2 1zM268 113l1-1 4 3-2 1zM33 118l2 1-1 4-2 0-2-3zM322 144l5 0 1 3-4 1zM63 151l5 4-2 4 1 4-1 2-3-1-1-8zM76 173l3-1 10 6-3 2-3 0-5-3zM100 186l4 0 1 2-3 1zM352 188l6-2 2 2 1 7-2 1-7-6zM201 236l4 1 2 4-1 1-3-1-2-2zM201 249l3 0 1 2-1 1zM44 254l1-3 3 2z"/>
<path fill="#ffbe14" fill-rule="evenodd"  d="M125 140l4-3 2-4 9 1 4-3 4 3 3 5 3 0 3-2 1-3-4-3-3 0-3-3 1-4 8 0 2-2 8 1 7 5 7 1 5-8 10 1 5 3 3 0 1-3-5-3-8-8 0-2 3 0 3-5 3 0 3 2 13-1 4 4-2 4 5 4 3-2-1-3 2-3 6 0 3 3 0 2-6 5 0 2 5 3 4-2 5 0 5 3 18-1 4 2 8 0 2-2 3 0 6 3 10-1 4 2 3-3 3 0 2 2 0 3-2 3-5 0-2 2 0 4 8 9 5 2 3 3 1 9-3 1-4 5 1 2 7 4 0 4-3 2 12 1 5 3 7 1 1 2-1 1-7-1-5 6-5 0-3 3 0 5-3 0-2-2-3 0-2 2-23-1-5-4-5-1-4 4-14 0-3 3 1 3-2 2-5-2-5 0-13 4-4 0-2-2 6-1 2-3 0-4-7-6-2-4-4-2-10 5-7 1-7-3-1 4-4 3 3 4-1 1-13 1-4-1-3-3-1-5 2-2 6 0 8-7-1-3-3-3-2 0-6-8 2-8-1-3-15-2-9-4-3 4-4 0-3-2-4 0-4-3-3 1 2 6-3 0-5-3-4 0-3-4zM213 181l-1 2 4 2 1-2zM230 162l0 4 3 3 4 1 5-2 0-2-5-6-3-1zM245 176l0 3 3 2 2-3-2-2zM165 144l-1 4 2 2 4 0 1-1-4-5zM172 135l4 6 4-1-5-5zM237 179l-3 1-1 2 1 3 4-2zM177 150l5 10 5 3 3 6-1 2 1 7 6 3 3 4 3 0 1-3 3-2-1-1 1-8-12-6 1-2 4-2-1-5-3-2-11-1zM144 162l5-1 4 2 4 0 1 2-2 2-4 0zM324 162l2-1 1 1 5-1 5 1 7 6 3 6-4 1-4-3-10 1-5-5 1-2zM124 164l1-1 4 1 2 4-3 2-4-3zM97 174l5-2 12 6-3 2-7 0-6-3zM123 175l3 0 4 7-1 3-2 0-7-7zM144 175l3 1 2 3-1 2-3-1zM145 184l8 4 5 8 3 0 5-4 4 1 3 5 1 5-10 2-4-2-7-7-8 0-1-1 2-5zM355 190l2-1 2 4-2 0zM143 199l3 3-1 3-3-2zM216 207l1-1 3 1 1 4-3 1-2-2z"/>
<path fill="#ff960a" fill-rule="evenodd"  d="M125 142l9-9 2 1 9-1 4 7 7 2 3-3 0-5-3-3-5-1-2-2 0-3 2-1 6 1 2-2 4 0 15 7 3 0 7-8 5 0 8 4 3 0 4-4-11-6-4-6 4-1 1-4 4 0 4 2 9-2 4 2-1 6 5 5 6-3 0-5 2-1 3 1 2 3-6 5 0 3 4 3 12-1 7 3 14-2 8 3 11-2 5 3 9-2 5 3 6-3 1 5-7 1-3 6 8 10 6 2 3 3 0 7-4 4-2 5 7 5 0 3-2 1-6-1 0 1 8 4 6-1 6 1 4 4-4 6-5 0-6 5-5-1-2 1-1 3-23-1-7-5-2 0-7 5-13 0-4 3-2-2-3 0 2 3 4 1-14 0-3 2-3 0-1-1 2-4 5 1 1-3-3-2-6 0-6-8-5-3-6 0 0-2-3-3-6 1 7 6-2 3-10 1-3-3 0-3 5-5-2-5 3-5-12-6 4-4-1-5-2-2-14-2-6-4-4 2-6-7-4-1 0 6 4 3 7-1 4 4 2 4-1 1-7 0-8-2-7-4-4 4-2 0-12-5-3 0-2 5-4 0-5-2-1-2zM220 120l-4-1-5 4 4 1zM230 161l-1 5 2 3 11 1 2-2-1-3-7-7zM245 174l-2 4 5 5 3-5zM171 134l0 2 5 6 6-1-9-8zM183 142l3 4 2 0-1-4zM237 177l-4 2-1 4 2 3 3 0 2-3 0-4zM332 163l4-1 7 6 2 6-4-1-4-6zM327 163l2 0 7 8-3 2-4-1-3-3zM125 166l3-1 2 3-2 1zM183 164l5 3 1 3-1 8-3-1-4-6zM98 174l6-1 7 5-3 2-3 0-7-4zM123 177l2-1 2 3-2 1-2-1zM194 181l5 5 0 6-5 5-6-1 2 3 4 0 1 2-14 1-3-3 0-5 7-1 3-4 5-3-1-5zM148 189l3 0 4 6-2 1-6-2-1-2zM157 198l11-5 3 3 2 6-3 2-7 0z"/>
<path fill="#f06e0a" fill-rule="evenodd"  d="M203 108l11-1 1 2-2 4 2 3-4 3-2-2 2-3-9-5zM195 112l4-1 2 4-3 0zM176 132l7 0 4-6 3-2 6 0 6 4 13-2 8-5 4 0 6 4 13-1 8 3 5 0 3-2 5 0 6 3 12-2 2 2 0 3-4 2 2 4 9-1 11 8 1 3-3 4 1 2-1 5 3 3 2-1 0-5 5-4 3 2-1 7-5 7-5 0-4-2-5 5 2 2 10-1 2 2-1 6 2 2 7 2 6 6 1-1-1-3 2-2 5 0 2 2 0 4-2 2-6-1-1 3-3 2-10-1-3 3-8-1-9 2-7-5-4 0-10 5-23 1-1-2-8-3-3-4 6-3 1-4 8 4 1-5 3-3-1-4 3 1 3 5 3 0 1-6-3-3-5-2-6 1-5-10-6-5-7 2-4 5-7-2-2 6-7 2-5-1-4-3-2-11-7-2-3-3 2-6-2-2-9-3zM203 151l3 3 4-1-3-2zM295 130l3-2 3 0 2 3-3 3-3 0zM125 150l2-3 1-6 6-6 5 0 7 6 9 4 3 0 3 6 6 2 7 0 3 4-1 1-7-1-5-2-3-3-8 0-1 2-3 0-5-2-6-6-2 0-3 3 1 4-2 2-4 0-3-3zM162 136l6-1 8 9 6 0 3 3 0 2-2 1-5-4-6 0zM328 169l3-1 2 3-3 0zM234 174l-3 4-1 8-9-3-5-4-6 1-3-3 4-5 13 1 2-4 6 2zM100 175l3-1 4 4-4 0zM205 186l4-2 5 5-8 1zM190 190l5-1 2 3-2 2-4 0-2-2zM180 197l3-1 3 3-4 1zM160 200l6-4 2 0 3 3-1 3-6 1-3-1z"/>
<path fill="#e6141e" fill-rule="evenodd"  d="M179 134l6-2 5-7 6 0 6 4 11-1 12-6 9 4 13-1 8 3 5 0 2-2 6 0 6 4-1 2 2 2 4 0 0-1-5-4 10-2 2 2-6 5 4 4 9-1 11 8-2 5 1 3-1 5 6 6 0 1-9-1-4 4 0 3-5 4 7 2 1-3 6-2 4 1-1 5 5 6 5 1 6 7-4 2-11-3-3 3-4-1-7 4-3 0-7-6-2 0-11 6-10 1-13-1-8-4-1-2 4 0 3-3 6 0 1-6 4 1 6-1 1-1-1-8-9-5-4 0-4-7-6-6-7 1-6 5-4 0-7-3 1 7-8 3-5-3-2-10 14 2-2-3-7-4-8 1-6-1-1-2 5-7-3-2-3 1-8-2zM227 135l-1 4 5 3 1-5zM297 189l4 4 4-3-2-2zM288 177l-4 2 2 5 3-1zM128 144l4-2 2-6 3-1 4 2 4 5 11 4 1 4-9 2-7-6-6-3-3 0-2 3zM126 150l4-1 2 4-4 1zM311 156l2 3-2 3-2-4zM232 173l-5 10-5-1-6-4-7 0 0-2 3-3 11 3 3-1 1-4 3 0zM326 185l4-1 2 4-3 2-2-1zM207 187l3-1 2 2-4 1z"/>
</g></g>
<g fill="none" stroke="#6e6e6e" stroke-width="0.8" stroke-linejoin="round" clip-path="url(#clipf)">
<path d="M423.2 471.9 427 470.6 429.8 470.1 431.2 467.4 432.7 465.5 435 465.2 436.9 466.4 437.5 469.2 436.9 471 438.4 473.2 440.3 475.5 442.2 478.2 445.1 480 448 481.9 450.8 484 453.7 485.8 456 487.7 457.9 490 460.4 492.4 463.2 494.2 466.1 495.1 469.9 495.4 474.7 495.4 479.5 496 484.2 496.4 489 496.9 493.8 497.3 498.6 497.8 502.4 497.8 505.6 497.8 507.2 499.1 506.2 500.9 503.3 501.4 500.5 500.3 498.6 501.4 495.7 503.2 492.8 504.5 489 505.4 486.2 506.3 483.9 508.1 482.3 510.5 482 513.6 483.3 516.3 484.2 519 483.9 521.7 485.2 524.4 487.1 527.2 490 529.9 492.8 532.2 496.7 535.3 495.3 538.9 492.8 541.7 489 544 485.2 545.8 480.4 547.1 476.6 548.4 471.8 549.5 468 550.2 463.2 551.3 458.5 552 453.7 552.5 449.9 553.1 446.1 553.8 445.7 557.1 447 560.7 449.9 563.4 453.7 565.2 457.5 567 459.8 569.8 459.4 572.5 457.5 574.8 456.6 577 458.5 578.8 454.7 580.6 451.8 583.3 448.9 586.1 447 587.9 444.2 586.4 441.3 585.7 439.4 587 436.5 586.1 433.7 585.2 430.8 584.6 427.9 586.1 425.1 587.9 424.1 589.7 421.2 591.1 418.4 593 415.5 594.8 416.5 596 418.4 597.8 417.4 599.7 413.6 598.8 409.8 597.8 406 596.6 403.1 594.8 401.2 592.4 399.3 590.1 396.4 589.3 392.6 590.1 388.8 589.3 385 588.8 381.2 588.2 378.3 587.5 376 588.8 374.1 587.5 372.2 588.8 369.7 590.6 366.8 591.9 364 593.3 361.1 594.2 358.2 592.4 355.4 590.6 353.5 587.9 350.6 587 346.8 586.1 343 584.3 340.1 582.1 338.2 579.7 337.2 576.6 334.4 574.8 333.4 572.5 337.2 571.2 341.1 570.1 343.9 568.8 342 566.1 341.1 563.4 339.2 560.7 336.3 558.9 333.4 557.1 332.9 554.3 334.8 551.6 337.2 548.9 340.1 547.1 343.9 545.8 347.7 544.4 351.6 543.5 355.4 542.2 359.2 541.1 362.1 539.9 365.3 538 368.7 535.7 372.9 533.9 376.4 531.3 377.3 528.1 375.4 527.2 374.5 524.4 371.6 522.6 368.7 520.8 365.9 518.1 362.1 516.3 361.1 513.6 359.2 511.8 360.2 509 363 507.2 365.9 505.4 369.7 504 372.9 502.2 376.4 502.7 379.2 504.5 382.1 504.5 385 503.6 388.8 502.7 390.7 500.9 393.6 499.1 394.5 496.4 396.4 495.4 398.3 492.7 400.2 490 401.2 487.7 404.1 488.2 406.9 490 409.8 489.1 412.7 489.1 415.5 488.2 418.4 487.3 416.5 485.5 413.6 483.7 410.7 481.9 408.8 479.1 409.8 476.4 412.7 475.5 416.5 475.5 418.4 473.2 422.2 472.4 427.9 471Z"/>
<path d="M496.7 535.3 499.5 533.9 503.3 533.5 507.2 535 510 537.1 512.9 539.9 515.7 542.6 518.6 545.3 522.4 546.6 526.2 547.1"/>
<path d="M526.2 555.3 522.4 555.3 518.6 554.9 514.8 554.3 511.9 555.3 510 558 508.7 561.6 509.1 565.2 511 568.8 512.9 572.5 514.8 576.1 517.7 578.8 519.6 582.4 518.6 586.1 520.5 588.8 522.4 590.6 526.2 592.4"/>
<path d="M447 587.9 447.6 591.5 448 596 449.9 599.7 451.8 603.3 450.8 606.9 452.7 610.5 453.7 614.2 453.3 617.8 453.7 621.4"/>
<path d="M480.4 547.1 479.5 550.7 477.6 555.3 476.6 559.8 477.6 563.4 480.4 565.2 485.2 566.1 480.4 567.6 477.6 569.8 478.5 573.4 479.5 577 478.5 580.6 476.6 583.3 473.7 584.3 469 583.3 464.2 582.4 461.3 581.5 460.4 578.8 458.5 578.8"/>
</g>
<rect x="313.6" y="453.2" width="210.6" height="167.7" fill="none" stroke="#7d7d7d" stroke-width="1"/>
<path d="M309.1 470.3H313.6M309.1 512.2H313.6M309.1 554.0H313.6M309.1 595.8H313.6M338.8 620.9V624.4M380.7 620.9V624.4M422.7 620.9V624.4M464.6 620.9V624.4M506.6 620.9V624.4" stroke="#a0a0a0" stroke-width="0.7" fill="none"/>
<g font-family="Liberation Sans, sans-serif" font-size="8.8" fill="#262626">
<text x="303.6" y="473.5" text-anchor="end">41°N</text>
<text x="303.6" y="515.4" text-anchor="end">40°30'N</text>
<text x="303.6" y="557.2" text-anchor="end">40°N</text>
<text x="303.6" y="599.0" text-anchor="end">39°30'N</text>
<text x="338.8" y="637.6" text-anchor="middle">115°30'E</text>
<text x="380.7" y="637.6" text-anchor="middle">116°E</text>
<text x="422.7" y="637.6" text-anchor="middle">116°30'E</text>
<text x="464.6" y="637.6" text-anchor="middle">117°E</text>
<text x="506.6" y="637.6" text-anchor="middle">117°30'E</text>
</g>
<rect x="320.0" y="643.6" width="15.5" height="7.9" fill="#ffffff"/>
<rect x="335.3" y="643.6" width="15.5" height="7.9" fill="#e1e1e1"/>
<rect x="350.5" y="643.6" width="15.5" height="7.9" fill="#0a96e6"/>
<rect x="365.8" y="643.6" width="15.5" height="7.9" fill="#0a7dd2"/>
<rect x="381.1" y="643.6" width="15.5" height="7.9" fill="#0564b9"/>
<rect x="396.3" y="643.6" width="15.5" height="7.9" fill="#96c81e"/>
<rect x="411.6" y="643.6" width="15.5" height="7.9" fill="#28aa3c"/>
<rect x="426.9" y="643.6" width="15.5" height="7.9" fill="#14963c"/>
<rect x="442.2" y="643.6" width="15.5" height="7.9" fill="#fff01e"/>
<rect x="457.4" y="643.6" width="15.5" height="7.9" fill="#ffbe14"/>
<rect x="472.7" y="643.6" width="15.5" height="7.9" fill="#ff960a"/>
<rect x="488.0" y="643.6" width="15.5" height="7.9" fill="#f06e0a"/>
<rect x="503.2" y="643.6" width="15.5" height="7.9" fill="#e6141e"/>
<rect x="320" y="643.6" width="198.5" height="7.9" fill="none" stroke="#9a9a9a" stroke-width="0.5" stroke-opacity="0.6"/>
<path d="M335.3 643.6V651.5M350.5 643.6V651.5M365.8 643.6V651.5M381.1 643.6V651.5M396.3 643.6V651.5M411.6 643.6V651.5M426.9 643.6V651.5M442.2 643.6V651.5M457.4 643.6V651.5M472.7 643.6V651.5M488.0 643.6V651.5M503.2 643.6V651.5" stroke="#333" stroke-opacity="0.35" stroke-width="0.5"/>
<g font-family="Liberation Sans, sans-serif" font-size="8.8" fill="#262626" text-anchor="middle">
<text x="350.5" y="660.5">0.5</text>
<text x="381.1" y="660.5">1</text>
<text x="411.6" y="660.5">1.5</text>
<text x="442.2" y="660.5">2</text>
<text x="472.7" y="660.5">2.5</text>
<text x="503.2" y="660.5">3</text>
</g>
<text x="511.8" y="664.2" font-family="Liberation Serif, serif" font-size="12.2" fill="#1a1a1a">fl km<tspan dy="-5.4" font-size="7.3" font-weight="bold">−2</tspan></text>
<text x="488.7" y="471.5" font-family="Liberation Serif, serif" font-size="11.8" font-weight="bold" fill="#111">(f) V<tspan dy="1.6" font-size="8.2">40</tspan></text>
</g>
<g id="panel-g">
<g clip-path="url(#clipg)"><g transform="translate(190.4,682.7) scale(0.5)" stroke="none">
<path fill="#f0f0f0" fill-rule="evenodd" d="M296 37l3 3 3 9-1 13-2 2-11 3-3 3-1 5-3 4-7-2-4 3-5 0-5-3-5-6 1-20 4-2 5 3 3-3 0-3 5-7 5-3zM79 98l1 5 4 5 0 4-5-5-6 0-4 3 0 4 3 3 11 0 2 3-1 4-5 6 1 9-5 1-6 4-5 0-9-8-1-7-2-2-6 7-4 2 0 7-4 2-7-1-6-4-4 0-3-3 10-14 7 1 3-4 1-5 11-2 9-16 18-1zM157 100l1 8-8 5 0 3 7 1 2 2 0 5-2 3 2 4 0 4-2 2-7-1-1 3 4 4 9 1 2 2 1 3-3 4-9 1-3-2-3 0-1 1 2 2 0 3-4 1-1-2 2-4-8-4-4 3-1 5-2 2-7 1-7 4-2 8-2 2-8-3-2-2-1-5-3-3-4-1-7 2-7-6 1-10 2-5 12-1 5-4 1-4 1 4 4 1 1-11-2-3 2 1 8 16 3 3 3-1 0-5-3-7 1-5 5-1 5 2 6-3-1-4-5-2-3-4 2-3 0-7-2-3 1-3 10 1 3-2 12 0zM138 126l1 2 5 1zM326 100l9 4 4 0 3 7 3 3 7 1 3 3 3 8 4 0 6-5 0-5 2-1 7 1 4 5-1 4-11 15-8 1-12-3 6 9 0 6-2 2 1 7 7 4 0 9-7 5-2 0-7-7-5 0-6 5-12 2-5-7 2-6 0-3-4-4 0-4 2-2 3-1 6 6 6 2 6 0 1-2-2-3-14-5 1-11-5-5 0-5 3-10 6-8-3-6zM300 218l-6 1-7-6-3 5 0 7-3 3-11 3-2-4-9-3-10-10-3 0-3-3 7-7 11 2 3-1 9-9 6-2 11 0 8 8zM141 217l2 14-3 4 0 4 2 3-2 4-2-2-1-6-6-4-3 0-2 3 0 4 2 4 0 3-2 3-2 1-8-1-11 6-3 3-2 0-3-3 4-5 0-7-6-5 1-11 2-4 2-1 13 1 13-7 9-2zM204 217l3 1 1 3 4 4 5-1 7 2 2-2 0-4-2-3 3-1 4 6 15 5 5 4-1 8-5 4 2 8-9 11-11 3-10-5-2-6 0-6 9-9 0-2-7-1-5-7-8 4-3 0-1-3 2-5 0-6zM147 228l3-3 3 0 3 2 0 4-5 2-4-3zM256 239l1-6 12-1 0 4-2 2-10 2z"/>
<path fill="#0a96e6" fill-rule="evenodd"  d="M365 165l-2 12-3 3-16-1-6 2-5 4 2 6-4 6-4 0-4-4-12 3-8-3-8-1-2 2 1 6-4 5 2 5-3 3-11-5-7 5-6 1-5 5 0 13-4 4-4 2-3-1-13 1-3-3-7 8-4 0-4-5-2 0-3 4-3 0-3-2-5 4-9 1-7-6 2-5-4-6-2 1 1 5-2 2-5 0-6 3-4-1 0-2 3-3-2-3-13 6-10-1-5 2-3-3-1-4-7 6-4 0-5-4-3 0-8 4-5 0-3-3 0-7-4-3 0-3 5-4-4-2-2 4-3 1-4-4-3-1-2-3 1-12-2-3 0-7 2-4-4-4 0-4 5-1 6 3 4 4 5-2 3-6 3 3 4 0 3-5-3-4-3 1-6-1 0 4-3 1-5-7 7-20-2-2-1-6 12 1 3 4 10-6 9 0 5-2 1 1 4-1 1-2-1-2-4-2-2-6 1-16 5-7 6-2 4 3 5-6-2-6 1-3-1-9 2-2 5 2 6 0 2-2 4 1 8-1 5 1 3 4 10-1 4-3 2 2 0 3-3 6 6 6 0 2-4 2 5 1 0-2 4-4-2-5 4-4 4-1 2-5 3-3-1-1-11 1-4-5-6 2-2-2 4-4-4-2 0-6 2-2 4 3 1 5 4 0 3-3 5 1 5-4 0-5 5-6 5 4 7-4 6-6 5-1 4-4 5-2 6 0-2 2 0 3 8 2 6 11-1 5-4 2 1 10-4 9 1 2 9 2 5 6 2 5 3-2 9-1 8 1 8-5 5 5-4 7 0 4 4 4-5 8 1 2 2 0 3-3 4-8 4-4 8-1 0 2-6 6 7 7 2 0 7 8-1 5 1 9-1 2-4 2-3 17 3-2 3 0 4 3 9 0zM271 131l-2 4 4 2 1-4zM296 103l-3-1-1 2 3 1zM303 98l-1 2 3 1 1-1zM338 122l-3 0-5 6-2 0-3-3-2 3 1 1 4-1 3 5 7-7zM344 170l2 5 1-3-1-2zM126 204l-3 0-2 4-5 3 1 6 2 2 3 0-2-4 3-3 3 0 2-3zM130 162l-1 3 4 1 0-3zM139 169l-3 1-2-1-5 4 2 4-4 3 0 3 5 2 9-9 0-5zM151 182l-1 2 3 3 2-3zM160 89l1 3 5 0-2-3zM175 227l-1 2 2 2 2-3zM187 106l-1 1 3 3 1-3zM210 100l0 4 3-1 5 1 1-2-3-3zM228 78l-2 4 4 4 1-5zM243 64l1 2 5-1-2-2zM250 73l-3 1 1 3 3-2zM292 130l-1 3 5 3 1-1-1-3zM333 139l-3-3-6 5 2 2 4 0zM244 106l0 3 2 3 5-1zM207 226l1 4 4-3 2 1 2 5 6 1 4-1-1-4-3-3-6 0-3-3-4 0zM209 234l-4 2 3 2 2-2zM216 43l1-1 6 1 0 2-6 3zM43 228l0-2 4-4-4-6 3-13 5 0 6 3 4 5 5-3 3 1 5-2 7 4 0 2 3 1 1 4-3 3-4 0-4 5-10 4-5-1-6 3-6 0z"/>
<path fill="#0a7dd2" fill-rule="evenodd"  d="M259 39l4 3 5 1 8 10-5 3-1 4-6-6-3 4-4 0-2 3-4 0-4-3 1-2 7 1 5-6-3-8zM250 44l3 3-1 2-4-1zM272 66l-1 6-4 2-9 1-5-3 1-3 4 1 5-1 3-5 3-2zM210 67l6-3 2 2 1 5-4 1zM162 84l8-6 4 2 7-2 4 3-3 3 2 6 2 1-1 1-2-1-6 4-3-3-3 0-5-7zM332 166l-1 5-6 7 1 5 5 9-1 2-2 0 0-3-2-2-6 0-4 2-7-6 0-2 2-3 3 3 2 0 2-4-1-1-6 1-2-5-5 0-2-2-3 3 0 6 3 4 6 3 0 4-2 1-11-4-4 1-6 5-2-4-4 2-1-4 3-6 2 1-1 3 1 1 2-1 2-5-1-6-2-1-5 2-7 7 2 4 0 7 3 2-2 11-4 3-8 1-4 4-2 6-5 4 1 5 3 0-1 3-6-1-3-8 2-5-2-1-8 3-2-1 0-4-2-2-3 1 0 4-2 0-4 5-6-2-3-3 0-4 6-6-3-3-2 0-2 3-5 0 1-3-1-6-5-5-3 0-2 2 0 5 3 3 0 2-6 7-2 10 3 1 5-9 3 5-3 9-2 1-3-2-7 1-1-1 4-4-3-5-8-5-1 3-5-1-6-8-2 2 0 5 2 3-4 3-1 3-15 1-7 5-2 0-4-5-4-2 0-2 6-5 5-10 3 3 2-3-4-4-2-5 4-6-4-5-4 1 1 7 2 2-3 2-6-4 0-5 5-3-1-3 1-2 4 1 7 7 7 2 1 7 3 4 8 4 2-1 0-3-4-1 0-4-3-3-4 0-2-2 6-5-1-3-5-5-8-4-3 0-2-3 3-1 4-5-1-7-3-3-9 2-3-4-6 1-4 5-4-1-4-4-3 1 0 3-2 2-3-1-6 1-4-3 7-4 0-2-4-3 0-2 7 0 1 6 3 1 5-5 7-1-4-5 1-4 4 0 1 5 2 1 4-4-2-2 1-2 8 0 8-9 2 0 3 3 3 0 2-7-2-2-3 1-1-4 1-3 3 1 5-4 0-5 2 4 4 0 10 7 4-2 8 0 5-2 8 1 1-1-2-1 1-6 8 0 2 2-2 3 2 3 0 4 4 4 0-4-2-3 2-4-1-4 1-2 5-1 3 5 10-2-3-10-4-2-2 1-1-5 5-5 3 0 3 2 2-3 0-2-2-1 1-2 6 3 5-6 4-1 4 3 10-2 3 6 5-2 4 3 4 0 2 4-4 3 0 2 2 3-1 5 2 10 6-6 4-1 2 1 1 6 3 4 3-1 3 1 0 3-4 4-5-1-2-5-3 1-3-2-3 1-4-1-7 8-4 0 1-13-1-1-3 1-1-2-5-1-1 3 5 2 0 2-4 4-7-1-2 4 3 2 5 0 2-3 2 2-2 4 2 7 8 3 0 2-5 1-2-2-1 4 7 3 6-1 1 3-3 4 6 8 4-2 0-7 1-3 2 0 5 3 0 2 3 2 4 0 4-3 4 6 4 0 3-7 4 3 6-2 1 3-2 7 2 2 3-1zM268 88l-10-2-3 3-3-1-2 4-6 0-8 3 0 4 6 3-1 8 3 5 2 1 10-1-1-9-4-4 0-3 4-2 5 0 3 2 6-6zM289 161l-6 6 0 2 4 4 5-6zM310 165l-1 4 1 2 2 0 2-3zM154 204l2 3 3-1-1-2zM225 202l5 2-2-3zM241 126l-2 1-3 8 0 3 2 2 3-1 4-6 0-2-3-2zM195 85l2 0 2 3 0 8-2 2-3-3-1-8zM217 88l6 3 0 3-3 3-2 0-2-3zM304 94l-10 3 1-3 4 0 3-2zM306 95l5-1 0 3-3 0zM172 97l-1 4-4-1 2-3zM176 96l3 3-1 8 2 2-1 2-2 0-5-6zM203 102l-1 5 1 2-9 3-1-4 2-4 3-3zM149 110l4 1 1 2-1 5-5-5zM310 118l3 3-1 5-3 3 0 6-2 2-3 0-4-4 0-3 2-2 7 1 1-2-1-8zM344 122l2 3-4 4 0-6zM139 127l4-1 1 2-3 1zM287 135l4 3-1 6-5 5-6-3 0-5 5-6zM319 138l-5 6-3 0-2 2-3-2 0-3 2-3 6-1zM296 145l4 2 0 2-2 1-2-2zM344 159l3 1 0 3-2 1-3-2zM143 161l2 0 1 2-1 2-3-2zM358 165l1 3-5 2-1-4zM332 169l2-2 4 1-2 3zM84 178l6 4 2 3 7 0 3 2 4-1 4 5-1 3-6-3-5 0 0 1-5 1-1 4 7-1 7 6-11 6-4 4-6-3 1-10-2-3 0-6 2-3 0-3-3-4zM282 206l5 1-4 1zM127 215l4 1 0 3-2 2-3-3zM105 217l3 3-3 1-1-1zM116 225l-2 3-3 1-2 4-6 1-1-2 1-3 6 0 3-6zM131 226l-1 4-3 3-6-2-3-3 3-3zM47 227l2-2 3 1-1 3-3 0zM240 230l4-1 1 3-3 2zM228 236l-1 3-4-1 4-3zM193 240l2-3 3 0 4 2 1 2-9 2z"/>
<path fill="#0564b9" fill-rule="evenodd"  d="M265 45l4 1 0 2 4 4-4 3-2-2zM271 67l0 3-3 3-5-1 0-2 4-5zM214 66l3 2 0 3-2 0-2-3zM169 80l3 1 0 8-4-4zM182 80l-2 3 1 7-3 2-1-1 2-8-1-3zM249 83l4-1 3 3-1 1-5-1zM273 86l7 7-1 1 1 4-1 6 2 3 1 9-8 9-2-1 0-7 2-4-3-2-6-1-7 1-2-3 0-3-4-4 3-3 4 1 2 3 3-1 2-4 4-3 0-6zM217 91l2-1 3 2-3 3zM230 92l3 1 0 5-6-2zM240 102l0 10 6 6 4-1 4 1 4-2 4 2-2 2-6 0-3 4-5 1-6-1-6 8 1 10-2 3 3-3 7-3 5-5-2-7 4-1 3 2 5 0 5 9-1 4 1 5 5 1 4 3-1 1 6 7 1 3 5 3-1 6 2 1-1 4-5 1-5 6-5 1 0 2 4 2 1 2-1 6 3 2-1 11-5 3-6 0-9 12-3 0-4-5-8 3-2-1 0-3-4-3-6 1 1 3-2 5-2 1-4-2-3-5 2-3 5-1 0-3-6-5-4 2-2-2 1-4-4-2-4-5-6-1-4 2-1-7-2-1-3 6-5 0-1 13 6 4 2-1-3-5 2-4-1-4 2-2 3 3 4 1 3 10-5 6-1 5-2 2-6-4-3-5-3 0-3 5-6-8 2-7-4-1-5-6-3-1 3-3-2-7-14-9 5-8-2-3 0-4-5-3-3-5-3 1 3 3-2 2-3 0-1-3-7 0-5 5-3 0-4-4 1-3 6 1 3-5 7-5 2-3 3-1 9-9 7 3 2-3-1-11 6-5 5 0 4 2 4 5 5-2 12-1 4-2 3 2 9-1 4 8 4 1 1-2-2-4 0-4 3-3-1-4 2 0 4 4 10 0 2-2-2-3-1-6 1-2zM235 148l1 3 4-1-2-2zM252 175l1 3 3-1-2-3zM175 175l2 4 3-2 0-2zM224 201l2 4 2 1 4-1-1-3-4-3zM200 102l1 5-4 3-3 0 2-5zM285 117l4-7 4-1 2 2 1 5-1 2-6 1zM149 112l2-1 2 3-2 1zM204 114l2-3 3 2-2 2zM303 120l-2 4-4-1 0-3zM301 132l1-2 3 0 2 3-2 2zM287 136l3 2 0 4-3 4-3 1-3-2 0-4 4-5zM105 150l3 0 1 2-1 1zM288 153l3 1-1 3-3-1zM316 156l4 3-1 4 4 4 6 3 0 2-4 3-1 10-7 3-1-2 3-3 0-6-7-1 4-6 5 3 1-4-3-1-4-6zM304 156l1 1-1 3-3 1-1-2zM106 159l3-2 2 3zM295 159l5 10 0 3-2 2 1 12-3 2-5 0-5 3 2-6-1-8 2-2 1 1 4-1-1-9-2-5 1-2zM306 166l2 3-1 3-2 0zM85 181l2 0 3 4 5 2-4 5-1 7 8-1 5 4-1 2-7 3-5 4-3-1-2-3 3-7-4-6 3-7 0-3zM301 188l4-1 2 3-2 2-3-1zM101 189l5-1 2 4zM136 190l3 0 2 8-6-3zM150 192l4 1 3 6-1 3-8-4 0-3zM169 210l-1 8-4 6-5 2-8 0-3 2-6 0-6-3 5-10 3-2 7-1 2-5 5 2 5-3zM203 220l1 4-3 6-2-3 3-3zM121 229l6-3 3 2-2 2zM194 241l2-3 5 2-3 2z"/>
<path fill="#96c81e" fill-rule="evenodd"  d="M269 66l2 2-1 3-5 1-1-2 3-4zM272 87l4 1 2 4 1 10-4 2 4 1 1 2 0 10-5 5-2 0 0-5 2-2-2-4-7-1-3-2-2 1-4-1 1-5 5 0 7-7zM254 100l2-1 2 1 0 2-2 1-2-1zM236 102l4 2-1 7-2 0-2-4zM290 110l3 0 2 3 0 3-2 2-5-1 0-4zM130 150l5-5 3 0 1-3 11-10 4 2 4 0 2-5-1-8 3-4 4-2 6 2 4 5 4 0 4-2 3 1 9-3 3 0 3 2 8-1 2 5 6 4 2-1-2-5 0-5 4-3 7 2 11-2 4 3 2 4-7 2-3 6-4-1-1 1 3 7 0 5-2 2 0 4 4 5 5-2-1-2-4-1 0-2 10-8 11 2 1-2-5-2-4-4 1-3 8 1 4 9-2 3 2 5 6 2 9 11 1 3 4 2-1 6 2 4-6 1-3 6-2 1-3-1-3 2 6 6-1 7 3 2 0 2-5 1 0 2 4 3 0 2-3 2-5-1-3 2-8 11-3 0-3-4-9 2-4-6-8-1-2-4-7-5 2-4-11-2-6-6-7 1-1-4-3-3-2 1-1 4-5-1-2 1 1 2-2 13 1 3-5 6-4-5 0-4 2-4 2-1-1-5 2-3-5 0-3 2-3-1-2-6 0-5 2-1 0-2-3-1-1 3-2 0-5-4 2-3-2-2-3 1 2-7-3-8-6-4-1-4-6-1-4 5-5-1zM224 199l-1 3 4 5 4 0 2-2-5-6-2-1zM232 121l-1 1 1 5 3-4zM252 174l-1 3 5 2 1-3-2-2zM261 181l-4 2 2 4 4-4zM263 198l2 4 0 6 1-7zM162 170l-1 3 4 3 1-5zM169 174l5 2 2 4 2 0 3-3-1-3-4 0-3-2zM250 119l2 0-1 3-2 0zM287 137l2 2 0 4-5 3-2-3 2-5zM122 156l3 0 1 2-2 1-2-1zM294 160l4 5-1 2 2 3-1 2-3-1-3-7zM328 170l0 2-4 2 0-5zM297 175l1 9-3 3-4-1 2-3-1-3 1-3zM323 175l1 6-3 2-1-5zM302 189l3-1 1 2-2 1zM88 188l2 2-1 8-2 0-2-3 0-4zM136 191l3 1 0 4-4-2zM151 193l3 2 2 4-1 2-2-3-4-2zM191 197l2 2 5 1 0 4 2 3-7 11-5-1-2-2 1-4 6-1-3-6zM101 202l-2 3-8 5-3 0-2-2 0-4 4-4 6-2zM162 207l6 3-1 7-3 2 0 2 0-2-4-3-2-4zM162 221l0 2-4 3-6-1-3 2-8 0-4-3 6-10 6 0 3-2 4 0zM219 215l4 0 3 3 0 3-2 2-6-5z"/>
<path fill="#28aa3c" fill-rule="evenodd"  d="M273 88l3 2 2 9-2 2-3 0-2 4 2 2 4 0 1 1-1 3-2 0-3-3-5 1-2-2 0-5 6-4zM237 103l2 2-1 4-2-2zM291 111l3 2-2 4-3-1 0-3zM144 138l6-4 4 1 5-1 1-13 5-5 6 1 6 7 6-3 4 1 3-2 6-1 7 2 4-1 8 8 8 1 10 9-3 8 6 7 6-2 4-4-4-4-2 3-2 0 2-3 2 0 4-4 10 1 5 5 1 3 4 0 3 2 0 2 6 6 1 3 5 4-2 6-6 5-1 5-13-1-2-6-2-1-5 1 0 4 6 3-1 4 3 4 2 9 3 4 0 7-4 4-2 5-4 3-5-4-8 2-4-5-4-2 1-9-6-6-3 1-8-1 0-3 6-5-3-6-2 0-1 4-2 0-1-2-4 0-1 5 3 4 0 3-2 0-2-5-9-2-7-5-4 4-4-4-4 4-3 0-1-4 7-9-2-4-3 1-5-3-3 1-4-2-3 0-4 3-5-13-6-5-3-6-1-5zM224 116l4 2 1 5-1 4-8-4 0-4zM255 132l2-1 1 3-2 0zM285 139l3 0-1 5-3-1zM136 146l1 5-1 2-3 1-1-5zM168 178l5-1 1 4-3 1zM170 182l3 4-2 4-2 0-3-3 0-2zM264 186l5 4-1 7-2 0 1-4-4-3zM99 202l-1 3-7 4-4 0-1-2 3-5 6-3zM195 200l1 3-2 1-1-2zM180 203l-2 4 1 4-2 2-2-2 0-5 3-3zM267 209l1-3 3 1-1 2zM162 209l4 1 0 3-2 3-4-4zM160 221l-1 4-17 1-3-2 0-3 5-6 12-1zM188 214l4-1 1 2-2 1z"/>
<path fill="#14963c" fill-rule="evenodd"  d="M144 140l6-5 8 1 2-2 1-13 4-4 5 0 6 8-2 5 2 1 3-2 0-4 5-3 4 1 2-2 5-1 13 2 8 8 5 0 9 6 1 5-2 5 6 7 7-1 3-3 2 0 5-6 3-1 4 3 1 4 6 0 2 2 1 3 5 4 2 5 3 2 0 4-6 5-5 0-2 5-6-1-1-3-5-4-5 2 0 5 5 3 0 4 3 4 2 10 3 3 0 6-7 11-3 0-3-3-8 2-7-6 0-9-9-8-3 2-4-1 0-2 4-2 1-2-1-5-4-4-10 3-3 5-10-2-4-3-5 1-5-2-1-2 2-3 0-5-2-2-5 0-4-3-2 1-11-1-3-5-1-5-6-4 0-4zM96 200l2 3-9 6-2-4zM159 221l0 3-2 1-1-1-10 1-6-1 0-3 3-4 8 1 2-3 2 0z"/>
<path fill="#fff01e" fill-rule="evenodd" stroke="#000" stroke-width="1.6" d="M146 139l5-3 3 1 7-1 1-14 4-4 4 0 3 3 1 5-5 3 4 6 2 0 5-4 3-7 5 0 5-3 7 0 7 2 8 8 7 1 7 5 0 5-2 5 9 8 7-2 13-9 2 2-1 4 2 2 6-2 2 4 6 4 5 10-2 3-4 2-7 1-3-2-3 1-5-4-7 3 1 6 5 4 0 3 4 6 0 6 4 5 0 5-6 10-3 0-2-2-4 0-4 2-7-6 0-7-11-11 0-7-4-5-5-2-7 4-5 5-3-2-5 0-5-3-1 1-4-1-3-3 1-8-2-2-5 0-5-4-5 2-7-1-3-5 0-3 2-2 2 0 2 4 2 0 1-2-5-7-7-1 1 4-4-2 1-2 2 0-6-5zM96 202l0 2-5 3-3 0 1-3zM155 217l3 6-4-1zM143 219l4 2-2 3-4-1z"/>
<path fill="#ffbe14" fill-rule="evenodd"  d="M166 119l4 0 2 3 0 3-5 3 0 2 3 3 0 4-7-1 1-7-1-7zM147 141l4-3 10 0 1 5 2-1 6 1 1-6 4 0 5-3 2-5 3-3 3 0 5-4 7 0 10 5 3 5 9 2 5 3 0 3-5 6 3 2 2 7 2-2 3 1 3 7 3-6 6-1 4-3 4 0 8 8 4 1 2 4 3 1 3-1 4 3 0 2-5 3-5-1-1-5-6-3 1 6-2 1-1-3-7 1-3-6-4 0 1 4-5 3-3 5 0 4 3 1 5-5 2 1 1 4 4 3 5 9 1 9-3 2 1 3-2 3 0 4-11 3-5-4-3-11-8-7 0-5-7-9-5-2-4 4-4 1-2 3-3-2-3 2-3 0-4-3-5 0-2-2 0-5 2-2 7 3 6-2 2-4-9 3-3-3-1-4-4 4-3-2-5 0-3-4-6-4-1-4-5-7-2 1-5-1-6-5zM203 161l-1 4 2 1 1-3zM195 157l-3 2 2 2 2-2zM269 158l3 1-1 5-2-2zM160 163l6 0 1 2-6 1zM257 201l3 2-2 4-2-2z"/>
<path fill="#ff960a" fill-rule="evenodd"  d="M167 120l2 0 2 3-3 3-3-2zM163 146l2-2 5 0 3-5 11-5 5-4 4 3 3 0 2-2-3-2-4 0-1-3 3-3 7 0 6 3 6 7 6 1 2 3 3 1-5 10-6-3-4 2 2 4 13-2 2 2-1 5 6 4 1 4 2 1 4-1 1-7 2-2 6 0 4-3 6 6 1 6-5 1-3-6-8 2-1 4-4 4-2 8 4 4 6-3 6 5 5 7 1 4-3 6 0 7-4 5-11-1-3-11-8-9 1-3-6-8-5-3-2-6-7 4 1 5-4 1-4-2-3 5-5-1-1-2 5-5 4 0 2-6 4-2 0-4-3-5-4 3 0 6-7 3-2-2 0-3 6-4 1-5-2-2-4 1-3 5-5 4-5-3 5-2 4-5-2-4-2 0-1 5-5-1-2 3 1 2-2 2-11-10zM166 131l3 3-1 2-4-2zM155 145l4 0 1 2-3 2zM267 168l5-1 1 2-5 1zM186 176l4 2-1 3-3-1-1-2z"/>
<path fill="#f06e0a" fill-rule="evenodd"  d="M165 146l5-1 6-6 8-3 5-4 3 2 5 0 2-2 0-3-6-1-1-2 2-2 5 0 7 5 1 4 9 2 4 4 0 2-2 3-4-1-6 1-2 2 1 5 3 2 7-1 3 3 0 3 2 2 3-1 2 1 0 4 7 6-1 9 4 3 5-2 4 1 9 10 0 4-3 4 0 8-4 4-9-1-3-11-3-3 1-2 2 0 0-2-8-6-2-4-7-6-3-11-2 0-3 3-7-11-3 1-3-5-7 1-4-6-6 0 1 6-5 0-5 2-7-6zM197 165l1 3-4 1-1-3zM198 179l0 3-2 2-2-3z"/>
<path fill="#e6141e" fill-rule="evenodd"  d="M217 138l0 3-10 2-3 5-3 0-7 4-3 0-2-6-4-3-4 2-3 6-4 3-8-5 1-3 4 0 4-5 5-1 8-6 7 2 3-1 4-7 2 1 3 6 5 0zM208 155l8-1 3 6 5 2 9 9-1 9 3 3 12 1 7 7 0 4-4 5 1 6-2 3-2 1-7-1-3-10 1-7-9-7-2-5-6-5-3-5 0-6-3-2-4 3-4-5z"/>
</g></g>
<g fill="none" stroke="#000" stroke-width="1.25" stroke-linejoin="round" clip-path="url(#clipg)">
<path d="M295 703 299 701.6 302 701 303.4 698 305 696 307.4 695.6 309.4 697 310 700 309.4 702 311 704.4 313 707 315 710 318 712 321 714 324 716.4 327 718.4 329.4 720.4 331.4 723 334 725.6 337 727.6 340 728.6 344 729 349 729 354 729.6 359 730 364 730.6 369 731 374 731.6 378 731.6 381.4 731.6 383 733 382 735 379 735.6 376 734.4 374 735.6 371 737.6 368 739 364 740 361 741 358.6 743 357 745.6 356.6 749 358 752 359 755 358.6 758 360 760.9 362 763.9 365 766.9 368 769.5 372 772.9 370.6 776.9 368 779.9 364 782.5 360 784.5 355 785.9 351 787.3 346 788.5 342 789.3 337 790.5 332 791.3 327 791.9 323 792.5 319 793.3 318.6 796.9 320 800.9 323 803.9 327 805.9 331 807.9 333.4 810.9 333 813.9 331 816.5 330 818.9 332 820.9 328 822.9 325 825.9 322 828.9 320 830.9 317 829.3 314 828.5 312 829.9 309 828.9 306 827.9 303 827.3 300 828.9 297 830.9 296 832.9 293 834.5 290 836.5 287 838.5 288 839.9 290 841.9 289 843.9 285 842.9 281 841.9 277 840.5 274 838.5 272 835.9 270 833.3 267 832.5 263 833.3 259 832.5 255 831.9 251 831.3 248 830.5 245.6 831.9 243.6 830.5 241.6 831.9 239 833.9 236 835.3 233 836.9 230 837.9 227 835.9 224 833.9 222 830.9 219 829.9 215 828.9 211 826.9 208 824.5 206 821.9 205 818.5 202 816.5 201 813.9 205 812.5 209 811.3 212 809.9 210 806.9 209 803.9 207 800.9 204 798.9 201 796.9 200.4 793.9 202.4 790.9 205 787.9 208 785.9 212 784.5 216 782.9 220 781.9 224 780.5 228 779.3 231 777.9 234.4 775.9 238 773.3 242.4 771.3 246 768.5 247 764.9 245 763.9 244 760.9 241 759 238 757 235 754 231 752 230 749 228 747 229 744 232 742 235 740 239 738.4 242.4 736.4 246 737 249 739 252 739 255 738 259 737 261 735 264 733 265 730 267 729 269 726 271 723 272 720.4 275 721 278 723 281 722 284 722 287 721 290 720 288 718 285 716 282 714 280 711 281 708 284 707 288 707 290 704.4 294 703.6 300 702Z"/>
<path d="M372 772.9 375 771.3 379 770.9 383 772.5 386 774.9 389 777.9 392 780.9 395 783.9 399 785.3 403 785.9"/>
<path d="M403 794.9 399 794.9 395 794.5 391 793.9 388 794.9 386 797.9 384.6 801.9 385 805.9 387 809.9 389 813.9 391 817.9 394 820.9 396 824.9 395 828.9 397 831.9 399 833.9 403 835.9"/>
<path d="M320 830.9 320.6 834.9 321 839.9 323 843.9 325 847.9 324 851.9 326 855.9 327 859.9 326.6 863.9 327 867.9"/>
<path d="M355 785.9 354 789.9 352 794.9 351 799.9 352 803.9 355 805.9 360 806.9 355 808.5 352 810.9 353 814.9 354 818.9 353 822.9 351 825.9 348 826.9 343 825.9 338 824.9 335 823.9 334 820.9 332 820.9"/>
</g>
<rect x="190.4" y="682.7" width="209.6" height="183.7" fill="none" stroke="#555" stroke-width="1.1"/>
<path d="M187.9 701.3H190.4M187.9 747.4H190.4M187.9 793.5H190.4M187.9 839.6H190.4M206.6 866.4V868.9M250.5 866.4V868.9M294.5 866.4V868.9M338.5 866.4V868.9M382.4 866.4V868.9" stroke="#444" stroke-width="0.7" fill="none"/>
<g font-family="DejaVu Serif, serif" font-size="7" fill="#333">
<text x="184.9" y="703.8" text-anchor="end">41°N</text>
<text x="184.9" y="749.9" text-anchor="end">40°30'N</text>
<text x="184.9" y="796.0" text-anchor="end">40°N</text>
<text x="184.9" y="842.1" text-anchor="end">39°30'N</text>
<text x="206.6" y="876.4" text-anchor="middle">115°30'E</text>
<text x="250.5" y="876.4" text-anchor="middle">116°E</text>
<text x="294.5" y="876.4" text-anchor="middle">116°30'E</text>
<text x="338.5" y="876.4" text-anchor="middle">117°E</text>
<text x="382.4" y="876.4" text-anchor="middle">117°30'E</text>
</g>
<rect x="193.0" y="883.1" width="15.8" height="6.5" fill="#ffffff"/>
<rect x="208.6" y="883.1" width="15.8" height="6.5" fill="#e1e1e1"/>
<rect x="224.2" y="883.1" width="15.8" height="6.5" fill="#0a96e6"/>
<rect x="239.8" y="883.1" width="15.8" height="6.5" fill="#0a7dd2"/>
<rect x="255.4" y="883.1" width="15.8" height="6.5" fill="#0564b9"/>
<rect x="271.0" y="883.1" width="15.8" height="6.5" fill="#96c81e"/>
<rect x="286.6" y="883.1" width="15.8" height="6.5" fill="#28aa3c"/>
<rect x="302.2" y="883.1" width="15.8" height="6.5" fill="#14963c"/>
<rect x="317.8" y="883.1" width="15.8" height="6.5" fill="#fff01e"/>
<rect x="333.4" y="883.1" width="15.8" height="6.5" fill="#ffbe14"/>
<rect x="349.0" y="883.1" width="15.8" height="6.5" fill="#ff960a"/>
<rect x="364.6" y="883.1" width="15.8" height="6.5" fill="#f06e0a"/>
<rect x="380.2" y="883.1" width="15.8" height="6.5" fill="#e6141e"/>
<rect x="193" y="883.1" width="202.8" height="6.5" fill="none" stroke="#333" stroke-width="0.6"/>
<path d="M193.0 889.6v2M224.2 889.6v2M255.4 889.6v2M286.6 889.6v2M317.8 889.6v2M349.0 889.6v2M380.2 889.6v2" stroke="#444" stroke-width="0.6"/>
<g font-family="DejaVu Serif, serif" font-size="7" fill="#333" text-anchor="middle">
<text x="193.0" y="899.5">0.0</text>
<text x="224.2" y="899.5">0.5</text>
<text x="255.4" y="899.5">1.0</text>
<text x="286.6" y="899.5">1.5</text>
<text x="317.8" y="899.5">2.0</text>
<text x="349.0" y="899.5">2.5</text>
<text x="380.2" y="899.5">3.0</text>
</g>
<text x="392.7" y="900" font-family="Liberation Serif, serif" font-size="11.6" fill="#1a1a1a">fl km<tspan dy="-5.4" font-size="7.0" font-weight="bold">−2</tspan></text>
<text x="353" y="697.6" font-family="Liberation Serif, serif" font-size="10" fill="#111">(g) Obs</text>
</g>
</svg></body></html>
